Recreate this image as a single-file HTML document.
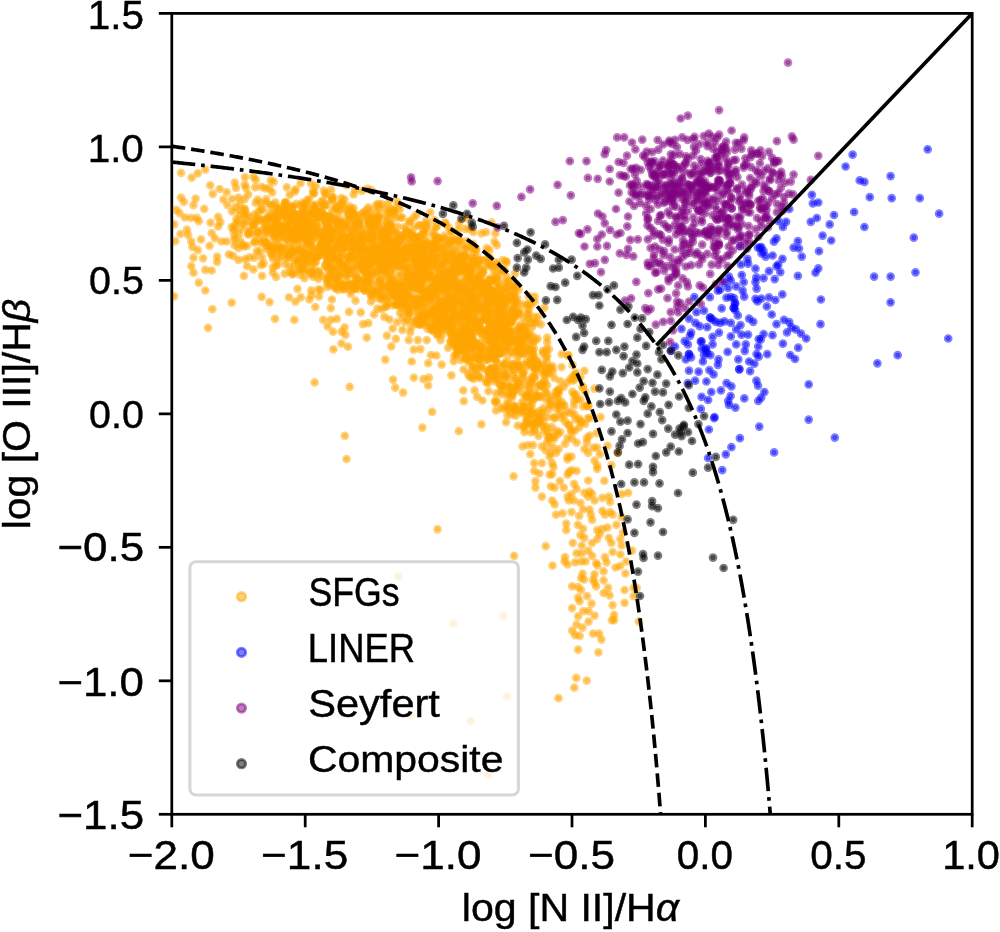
<!DOCTYPE html>
<html><head><meta charset="utf-8"><style>
html,body{margin:0;padding:0;background:#fff;width:1000px;height:932px;overflow:hidden}
svg{display:block;filter:blur(0.6px)}
.t{font-family:"Liberation Sans",sans-serif;font-size:40.0px;fill:#000;stroke:#000;stroke-width:0.45px}
</style></head><body>
<svg width="1000" height="932" viewBox="0 0 1000 932"><defs><clipPath id="ax"><rect x="171.80" y="13.40" width="800.40" height="800.90"/></clipPath></defs><g clip-path="url(#ax)"><g fill="#ffa500" stroke="#ffa500" fill-opacity=".5" stroke-opacity=".5" stroke-width="3.80"><circle cx="295.7" cy="220.0" r="2.45"/><circle cx="323.1" cy="201.7" r="2.45"/><circle cx="386.8" cy="279.4" r="2.45"/><circle cx="347.1" cy="275.4" r="2.45"/><circle cx="482.7" cy="317.9" r="2.45"/><circle cx="362.7" cy="242.2" r="2.45"/><circle cx="469.4" cy="276.9" r="2.45"/><circle cx="443.5" cy="285.0" r="2.45"/><circle cx="425.3" cy="291.6" r="2.45"/><circle cx="577.2" cy="399.0" r="2.45"/><circle cx="456.5" cy="354.8" r="2.45"/><circle cx="416.1" cy="260.2" r="2.45"/><circle cx="514.4" cy="301.7" r="2.45"/><circle cx="506.1" cy="313.5" r="2.45"/><circle cx="271.5" cy="229.3" r="2.45"/><circle cx="567.6" cy="411.5" r="2.45"/><circle cx="261.7" cy="296.9" r="2.45"/><circle cx="476.6" cy="312.3" r="2.45"/><circle cx="270.4" cy="212.7" r="2.45"/><circle cx="497.5" cy="285.9" r="2.45"/><circle cx="390.2" cy="213.7" r="2.45"/><circle cx="467.5" cy="317.7" r="2.45"/><circle cx="226.7" cy="192.2" r="2.45"/><circle cx="533.8" cy="411.6" r="2.45"/><circle cx="459.6" cy="298.3" r="2.45"/><circle cx="531.2" cy="304.7" r="2.45"/><circle cx="337.3" cy="259.3" r="2.45"/><circle cx="428.2" cy="314.3" r="2.45"/><circle cx="389.7" cy="252.1" r="2.45"/><circle cx="307.3" cy="237.3" r="2.45"/><circle cx="489.3" cy="318.7" r="2.45"/><circle cx="490.9" cy="280.2" r="2.45"/><circle cx="552.5" cy="565.7" r="2.45"/><circle cx="428.5" cy="315.4" r="2.45"/><circle cx="480.1" cy="328.3" r="2.45"/><circle cx="426.2" cy="313.0" r="2.45"/><circle cx="557.5" cy="434.3" r="2.45"/><circle cx="554.3" cy="378.0" r="2.45"/><circle cx="340.2" cy="237.4" r="2.45"/><circle cx="550.7" cy="400.5" r="2.45"/><circle cx="490.1" cy="287.9" r="2.45"/><circle cx="289.6" cy="194.8" r="2.45"/><circle cx="371.1" cy="293.6" r="2.45"/><circle cx="305.4" cy="269.7" r="2.45"/><circle cx="474.6" cy="390.4" r="2.45"/><circle cx="212.3" cy="309.1" r="2.45"/><circle cx="418.9" cy="324.0" r="2.45"/><circle cx="348.1" cy="239.1" r="2.45"/><circle cx="255.7" cy="202.9" r="2.45"/><circle cx="318.9" cy="256.2" r="2.45"/><circle cx="371.3" cy="219.0" r="2.45"/><circle cx="387.6" cy="299.5" r="2.45"/><circle cx="401.9" cy="253.0" r="2.45"/><circle cx="541.9" cy="463.2" r="2.45"/><circle cx="481.5" cy="366.3" r="2.45"/><circle cx="390.0" cy="262.3" r="2.45"/><circle cx="234.4" cy="228.6" r="2.45"/><circle cx="360.8" cy="312.4" r="2.45"/><circle cx="305.3" cy="231.7" r="2.45"/><circle cx="402.7" cy="292.2" r="2.45"/><circle cx="382.4" cy="267.0" r="2.45"/><circle cx="576.6" cy="442.6" r="2.45"/><circle cx="347.9" cy="210.1" r="2.45"/><circle cx="568.0" cy="355.4" r="2.45"/><circle cx="452.2" cy="330.3" r="2.45"/><circle cx="386.0" cy="289.3" r="2.45"/><circle cx="462.6" cy="320.7" r="2.45"/><circle cx="240.1" cy="203.7" r="2.45"/><circle cx="291.8" cy="208.1" r="2.45"/><circle cx="462.6" cy="261.6" r="2.45"/><circle cx="580.5" cy="503.1" r="2.45"/><circle cx="453.3" cy="334.7" r="2.45"/><circle cx="408.0" cy="312.5" r="2.45"/><circle cx="406.6" cy="247.6" r="2.45"/><circle cx="468.3" cy="316.5" r="2.45"/><circle cx="485.9" cy="296.5" r="2.45"/><circle cx="456.3" cy="258.3" r="2.45"/><circle cx="472.5" cy="300.8" r="2.45"/><circle cx="451.8" cy="279.6" r="2.45"/><circle cx="495.5" cy="381.6" r="2.45"/><circle cx="456.7" cy="275.1" r="2.45"/><circle cx="497.8" cy="299.8" r="2.45"/><circle cx="509.5" cy="322.9" r="2.45"/><circle cx="439.6" cy="238.7" r="2.45"/><circle cx="424.7" cy="224.4" r="2.45"/><circle cx="323.1" cy="234.9" r="2.45"/><circle cx="330.6" cy="258.3" r="2.45"/><circle cx="302.8" cy="202.6" r="2.45"/><circle cx="382.2" cy="286.2" r="2.45"/><circle cx="441.7" cy="364.7" r="2.45"/><circle cx="365.1" cy="278.3" r="2.45"/><circle cx="338.0" cy="229.3" r="2.45"/><circle cx="451.9" cy="276.6" r="2.45"/><circle cx="326.6" cy="245.4" r="2.45"/><circle cx="274.0" cy="215.3" r="2.45"/><circle cx="390.1" cy="226.0" r="2.45"/><circle cx="548.9" cy="349.2" r="2.45"/><circle cx="393.1" cy="305.5" r="2.45"/><circle cx="489.7" cy="342.2" r="2.45"/><circle cx="428.3" cy="260.3" r="2.45"/><circle cx="431.7" cy="279.4" r="2.45"/><circle cx="358.0" cy="245.2" r="2.45"/><circle cx="354.2" cy="222.9" r="2.45"/><circle cx="311.2" cy="266.1" r="2.45"/><circle cx="472.8" cy="302.0" r="2.45"/><circle cx="502.5" cy="324.5" r="2.45"/><circle cx="291.8" cy="207.7" r="2.45"/><circle cx="393.5" cy="209.4" r="2.45"/><circle cx="381.0" cy="247.9" r="2.45"/><circle cx="400.5" cy="291.2" r="2.45"/><circle cx="431.0" cy="264.3" r="2.45"/><circle cx="403.2" cy="289.1" r="2.45"/><circle cx="331.7" cy="237.0" r="2.45"/><circle cx="422.4" cy="427.6" r="2.45"/><circle cx="311.3" cy="261.7" r="2.45"/><circle cx="321.5" cy="244.1" r="2.45"/><circle cx="417.7" cy="278.0" r="2.45"/><circle cx="434.6" cy="260.5" r="2.45"/><circle cx="584.4" cy="537.8" r="2.45"/><circle cx="479.6" cy="322.6" r="2.45"/><circle cx="383.4" cy="251.4" r="2.45"/><circle cx="507.4" cy="299.9" r="2.45"/><circle cx="426.0" cy="299.1" r="2.45"/><circle cx="548.1" cy="372.0" r="2.45"/><circle cx="303.1" cy="207.7" r="2.45"/><circle cx="460.9" cy="254.7" r="2.45"/><circle cx="625.4" cy="573.5" r="2.45"/><circle cx="457.7" cy="351.7" r="2.45"/><circle cx="220.3" cy="222.2" r="2.45"/><circle cx="547.2" cy="342.5" r="2.45"/><circle cx="421.7" cy="250.5" r="2.45"/><circle cx="324.4" cy="240.3" r="2.45"/><circle cx="509.8" cy="341.8" r="2.45"/><circle cx="420.4" cy="272.0" r="2.45"/><circle cx="530.7" cy="424.4" r="2.45"/><circle cx="389.6" cy="297.4" r="2.45"/><circle cx="579.0" cy="427.5" r="2.45"/><circle cx="373.2" cy="285.0" r="2.45"/><circle cx="463.2" cy="303.1" r="2.45"/><circle cx="468.6" cy="294.0" r="2.45"/><circle cx="412.7" cy="304.7" r="2.45"/><circle cx="262.7" cy="210.1" r="2.45"/><circle cx="454.3" cy="339.4" r="2.45"/><circle cx="376.1" cy="291.5" r="2.45"/><circle cx="440.4" cy="263.5" r="2.45"/><circle cx="404.8" cy="259.5" r="2.45"/><circle cx="463.6" cy="369.5" r="2.45"/><circle cx="484.0" cy="319.9" r="2.45"/><circle cx="510.9" cy="322.8" r="2.45"/><circle cx="505.7" cy="351.6" r="2.45"/><circle cx="345.3" cy="249.0" r="2.45"/><circle cx="372.5" cy="273.1" r="2.45"/><circle cx="300.3" cy="249.4" r="2.45"/><circle cx="324.1" cy="218.5" r="2.45"/><circle cx="378.8" cy="217.0" r="2.45"/><circle cx="426.6" cy="266.1" r="2.45"/><circle cx="503.1" cy="616.0" r="2.45"/><circle cx="378.2" cy="291.4" r="2.45"/><circle cx="417.8" cy="243.4" r="2.45"/><circle cx="511.7" cy="320.6" r="2.45"/><circle cx="463.5" cy="264.8" r="2.45"/><circle cx="461.1" cy="245.5" r="2.45"/><circle cx="515.1" cy="406.8" r="2.45"/><circle cx="210.2" cy="185.3" r="2.45"/><circle cx="523.7" cy="327.2" r="2.45"/><circle cx="422.9" cy="307.5" r="2.45"/><circle cx="469.7" cy="323.5" r="2.45"/><circle cx="412.8" cy="254.9" r="2.45"/><circle cx="361.4" cy="262.3" r="2.45"/><circle cx="371.9" cy="289.8" r="2.45"/><circle cx="486.1" cy="314.4" r="2.45"/><circle cx="285.0" cy="208.6" r="2.45"/><circle cx="472.1" cy="377.3" r="2.45"/><circle cx="506.4" cy="276.6" r="2.45"/><circle cx="422.9" cy="232.9" r="2.45"/><circle cx="294.9" cy="214.1" r="2.45"/><circle cx="607.5" cy="445.8" r="2.45"/><circle cx="390.4" cy="242.3" r="2.45"/><circle cx="524.4" cy="432.1" r="2.45"/><circle cx="389.8" cy="293.0" r="2.45"/><circle cx="472.0" cy="339.0" r="2.45"/><circle cx="448.3" cy="306.5" r="2.45"/><circle cx="433.3" cy="242.1" r="2.45"/><circle cx="498.2" cy="335.2" r="2.45"/><circle cx="456.5" cy="283.7" r="2.45"/><circle cx="433.8" cy="258.1" r="2.45"/><circle cx="277.5" cy="216.2" r="2.45"/><circle cx="343.4" cy="285.9" r="2.45"/><circle cx="334.4" cy="287.2" r="2.45"/><circle cx="522.5" cy="353.7" r="2.45"/><circle cx="417.2" cy="287.3" r="2.45"/><circle cx="583.3" cy="611.1" r="2.45"/><circle cx="512.8" cy="392.8" r="2.45"/><circle cx="328.2" cy="269.1" r="2.45"/><circle cx="494.1" cy="357.1" r="2.45"/><circle cx="541.5" cy="397.1" r="2.45"/><circle cx="284.6" cy="210.1" r="2.45"/><circle cx="341.2" cy="274.0" r="2.45"/><circle cx="413.0" cy="238.2" r="2.45"/><circle cx="428.4" cy="322.9" r="2.45"/><circle cx="483.7" cy="307.0" r="2.45"/><circle cx="262.1" cy="221.2" r="2.45"/><circle cx="385.2" cy="234.9" r="2.45"/><circle cx="428.0" cy="255.5" r="2.45"/><circle cx="339.2" cy="268.7" r="2.45"/><circle cx="413.3" cy="234.5" r="2.45"/><circle cx="504.7" cy="287.4" r="2.45"/><circle cx="458.9" cy="293.6" r="2.45"/><circle cx="479.1" cy="348.0" r="2.45"/><circle cx="402.8" cy="266.1" r="2.45"/><circle cx="337.8" cy="249.7" r="2.45"/><circle cx="415.3" cy="300.2" r="2.45"/><circle cx="394.5" cy="296.0" r="2.45"/><circle cx="378.3" cy="208.1" r="2.45"/><circle cx="485.5" cy="314.7" r="2.45"/><circle cx="349.6" cy="284.4" r="2.45"/><circle cx="448.1" cy="347.8" r="2.45"/><circle cx="352.6" cy="260.8" r="2.45"/><circle cx="321.6" cy="201.1" r="2.45"/><circle cx="482.7" cy="355.4" r="2.45"/><circle cx="471.3" cy="330.6" r="2.45"/><circle cx="490.9" cy="368.5" r="2.45"/><circle cx="474.7" cy="322.1" r="2.45"/><circle cx="467.9" cy="309.9" r="2.45"/><circle cx="468.5" cy="336.7" r="2.45"/><circle cx="527.7" cy="445.1" r="2.45"/><circle cx="356.0" cy="286.0" r="2.45"/><circle cx="499.5" cy="331.8" r="2.45"/><circle cx="463.7" cy="304.9" r="2.45"/><circle cx="393.3" cy="280.7" r="2.45"/><circle cx="587.0" cy="406.2" r="2.45"/><circle cx="470.3" cy="276.8" r="2.45"/><circle cx="272.8" cy="227.9" r="2.45"/><circle cx="494.5" cy="378.6" r="2.45"/><circle cx="425.4" cy="322.2" r="2.45"/><circle cx="492.6" cy="377.1" r="2.45"/><circle cx="289.8" cy="257.8" r="2.45"/><circle cx="327.7" cy="259.9" r="2.45"/><circle cx="363.2" cy="288.3" r="2.45"/><circle cx="400.4" cy="299.4" r="2.45"/><circle cx="395.0" cy="245.8" r="2.45"/><circle cx="539.4" cy="411.0" r="2.45"/><circle cx="549.5" cy="373.7" r="2.45"/><circle cx="546.2" cy="374.1" r="2.45"/><circle cx="373.5" cy="241.6" r="2.45"/><circle cx="421.5" cy="279.6" r="2.45"/><circle cx="329.8" cy="231.3" r="2.45"/><circle cx="518.5" cy="366.1" r="2.45"/><circle cx="394.3" cy="255.9" r="2.45"/><circle cx="402.1" cy="245.7" r="2.45"/><circle cx="357.3" cy="258.5" r="2.45"/><circle cx="621.7" cy="545.5" r="2.45"/><circle cx="209.6" cy="245.8" r="2.45"/><circle cx="496.0" cy="327.5" r="2.45"/><circle cx="248.5" cy="234.4" r="2.45"/><circle cx="349.3" cy="215.1" r="2.45"/><circle cx="502.4" cy="366.7" r="2.45"/><circle cx="506.7" cy="299.2" r="2.45"/><circle cx="495.7" cy="347.2" r="2.45"/><circle cx="255.2" cy="187.4" r="2.45"/><circle cx="433.0" cy="250.9" r="2.45"/><circle cx="583.2" cy="406.3" r="2.45"/><circle cx="276.1" cy="234.2" r="2.45"/><circle cx="456.1" cy="336.3" r="2.45"/><circle cx="443.5" cy="309.2" r="2.45"/><circle cx="258.9" cy="230.8" r="2.45"/><circle cx="472.4" cy="286.4" r="2.45"/><circle cx="500.0" cy="305.9" r="2.45"/><circle cx="374.4" cy="220.7" r="2.45"/><circle cx="371.6" cy="240.1" r="2.45"/><circle cx="352.2" cy="230.3" r="2.45"/><circle cx="486.2" cy="283.4" r="2.45"/><circle cx="378.8" cy="237.9" r="2.45"/><circle cx="366.0" cy="267.4" r="2.45"/><circle cx="304.4" cy="230.2" r="2.45"/><circle cx="449.6" cy="330.8" r="2.45"/><circle cx="245.1" cy="259.2" r="2.45"/><circle cx="412.2" cy="247.6" r="2.45"/><circle cx="574.2" cy="400.7" r="2.45"/><circle cx="493.2" cy="291.4" r="2.45"/><circle cx="380.6" cy="266.7" r="2.45"/><circle cx="496.3" cy="267.3" r="2.45"/><circle cx="518.9" cy="356.1" r="2.45"/><circle cx="401.2" cy="290.1" r="2.45"/><circle cx="491.7" cy="334.8" r="2.45"/><circle cx="444.7" cy="268.7" r="2.45"/><circle cx="308.9" cy="229.8" r="2.45"/><circle cx="543.0" cy="353.1" r="2.45"/><circle cx="492.1" cy="291.6" r="2.45"/><circle cx="529.2" cy="380.3" r="2.45"/><circle cx="361.8" cy="265.8" r="2.45"/><circle cx="424.6" cy="296.1" r="2.45"/><circle cx="470.2" cy="270.2" r="2.45"/><circle cx="570.9" cy="412.9" r="2.45"/><circle cx="380.6" cy="257.1" r="2.45"/><circle cx="348.0" cy="346.7" r="2.45"/><circle cx="383.7" cy="270.3" r="2.45"/><circle cx="522.5" cy="411.4" r="2.45"/><circle cx="198.8" cy="282.7" r="2.45"/><circle cx="469.5" cy="228.9" r="2.45"/><circle cx="466.8" cy="280.6" r="2.45"/><circle cx="470.0" cy="267.6" r="2.45"/><circle cx="558.6" cy="449.0" r="2.45"/><circle cx="360.8" cy="240.9" r="2.45"/><circle cx="391.7" cy="229.7" r="2.45"/><circle cx="434.3" cy="220.1" r="2.45"/><circle cx="374.4" cy="252.0" r="2.45"/><circle cx="460.9" cy="265.8" r="2.45"/><circle cx="489.7" cy="307.5" r="2.45"/><circle cx="267.4" cy="230.8" r="2.45"/><circle cx="452.5" cy="316.0" r="2.45"/><circle cx="437.1" cy="314.9" r="2.45"/><circle cx="380.1" cy="272.2" r="2.45"/><circle cx="502.8" cy="310.6" r="2.45"/><circle cx="490.3" cy="278.4" r="2.45"/><circle cx="299.7" cy="274.6" r="2.45"/><circle cx="483.5" cy="284.9" r="2.45"/><circle cx="466.3" cy="302.6" r="2.45"/><circle cx="529.1" cy="391.5" r="2.45"/><circle cx="304.5" cy="204.4" r="2.45"/><circle cx="454.2" cy="355.5" r="2.45"/><circle cx="400.1" cy="259.5" r="2.45"/><circle cx="484.7" cy="267.0" r="2.45"/><circle cx="529.9" cy="410.7" r="2.45"/><circle cx="476.5" cy="342.8" r="2.45"/><circle cx="475.7" cy="324.1" r="2.45"/><circle cx="538.7" cy="421.7" r="2.45"/><circle cx="367.8" cy="219.0" r="2.45"/><circle cx="485.3" cy="338.7" r="2.45"/><circle cx="337.9" cy="224.8" r="2.45"/><circle cx="390.0" cy="274.7" r="2.45"/><circle cx="465.8" cy="332.6" r="2.45"/><circle cx="565.1" cy="421.7" r="2.45"/><circle cx="439.1" cy="332.1" r="2.45"/><circle cx="490.2" cy="327.1" r="2.45"/><circle cx="228.9" cy="254.4" r="2.45"/><circle cx="475.6" cy="325.8" r="2.45"/><circle cx="430.1" cy="275.0" r="2.45"/><circle cx="582.7" cy="386.4" r="2.45"/><circle cx="496.1" cy="262.4" r="2.45"/><circle cx="391.5" cy="253.5" r="2.45"/><circle cx="353.1" cy="232.5" r="2.45"/><circle cx="287.0" cy="223.4" r="2.45"/><circle cx="468.5" cy="291.8" r="2.45"/><circle cx="594.6" cy="574.3" r="2.45"/><circle cx="408.8" cy="340.1" r="2.45"/><circle cx="272.9" cy="272.7" r="2.45"/><circle cx="496.2" cy="328.1" r="2.45"/><circle cx="426.9" cy="298.6" r="2.45"/><circle cx="423.6" cy="249.6" r="2.45"/><circle cx="260.9" cy="202.9" r="2.45"/><circle cx="505.4" cy="315.6" r="2.45"/><circle cx="370.7" cy="250.5" r="2.45"/><circle cx="285.2" cy="263.8" r="2.45"/><circle cx="504.0" cy="375.9" r="2.45"/><circle cx="455.2" cy="333.7" r="2.45"/><circle cx="515.0" cy="273.7" r="2.45"/><circle cx="447.2" cy="284.3" r="2.45"/><circle cx="463.2" cy="390.4" r="2.45"/><circle cx="531.3" cy="341.3" r="2.45"/><circle cx="464.5" cy="281.9" r="2.45"/><circle cx="473.0" cy="243.9" r="2.45"/><circle cx="463.3" cy="266.3" r="2.45"/><circle cx="526.1" cy="338.3" r="2.45"/><circle cx="586.8" cy="438.0" r="2.45"/><circle cx="239.3" cy="210.5" r="2.45"/><circle cx="442.1" cy="323.8" r="2.45"/><circle cx="495.2" cy="344.6" r="2.45"/><circle cx="452.7" cy="307.0" r="2.45"/><circle cx="440.2" cy="316.0" r="2.45"/><circle cx="337.7" cy="222.2" r="2.45"/><circle cx="406.2" cy="230.7" r="2.45"/><circle cx="455.9" cy="323.8" r="2.45"/><circle cx="432.9" cy="294.1" r="2.45"/><circle cx="524.5" cy="371.0" r="2.45"/><circle cx="276.4" cy="220.1" r="2.45"/><circle cx="519.3" cy="324.8" r="2.45"/><circle cx="460.3" cy="331.3" r="2.45"/><circle cx="574.4" cy="414.3" r="2.45"/><circle cx="437.5" cy="529.3" r="2.45"/><circle cx="468.7" cy="315.4" r="2.45"/><circle cx="349.3" cy="221.8" r="2.45"/><circle cx="433.4" cy="231.5" r="2.45"/><circle cx="509.7" cy="331.0" r="2.45"/><circle cx="638.9" cy="621.6" r="2.45"/><circle cx="621.7" cy="517.2" r="2.45"/><circle cx="487.9" cy="302.5" r="2.45"/><circle cx="346.1" cy="268.8" r="2.45"/><circle cx="466.1" cy="287.9" r="2.45"/><circle cx="289.9" cy="223.9" r="2.45"/><circle cx="517.4" cy="383.2" r="2.45"/><circle cx="451.0" cy="342.8" r="2.45"/><circle cx="470.0" cy="339.0" r="2.45"/><circle cx="394.7" cy="285.3" r="2.45"/><circle cx="492.4" cy="357.9" r="2.45"/><circle cx="385.9" cy="257.5" r="2.45"/><circle cx="565.0" cy="443.9" r="2.45"/><circle cx="547.8" cy="417.0" r="2.45"/><circle cx="484.0" cy="292.1" r="2.45"/><circle cx="492.3" cy="266.2" r="2.45"/><circle cx="363.0" cy="324.2" r="2.45"/><circle cx="516.4" cy="351.2" r="2.45"/><circle cx="561.6" cy="401.6" r="2.45"/><circle cx="558.1" cy="398.8" r="2.45"/><circle cx="426.8" cy="258.9" r="2.45"/><circle cx="460.7" cy="359.8" r="2.45"/><circle cx="523.7" cy="425.8" r="2.45"/><circle cx="445.4" cy="294.5" r="2.45"/><circle cx="234.4" cy="236.7" r="2.45"/><circle cx="336.5" cy="220.8" r="2.45"/><circle cx="396.5" cy="289.3" r="2.45"/><circle cx="276.2" cy="234.2" r="2.45"/><circle cx="544.5" cy="307.7" r="2.45"/><circle cx="454.7" cy="279.5" r="2.45"/><circle cx="285.5" cy="216.1" r="2.45"/><circle cx="437.8" cy="256.1" r="2.45"/><circle cx="511.9" cy="286.0" r="2.45"/><circle cx="193.5" cy="272.7" r="2.45"/><circle cx="428.6" cy="291.5" r="2.45"/><circle cx="533.9" cy="316.9" r="2.45"/><circle cx="290.9" cy="206.1" r="2.45"/><circle cx="457.3" cy="352.9" r="2.45"/><circle cx="353.6" cy="194.5" r="2.45"/><circle cx="444.6" cy="286.0" r="2.45"/><circle cx="445.6" cy="224.0" r="2.45"/><circle cx="398.6" cy="274.2" r="2.45"/><circle cx="526.2" cy="344.4" r="2.45"/><circle cx="571.9" cy="438.6" r="2.45"/><circle cx="283.8" cy="233.7" r="2.45"/><circle cx="499.3" cy="330.1" r="2.45"/><circle cx="305.5" cy="232.5" r="2.45"/><circle cx="443.9" cy="243.3" r="2.45"/><circle cx="249.6" cy="257.4" r="2.45"/><circle cx="414.2" cy="288.6" r="2.45"/><circle cx="528.9" cy="336.4" r="2.45"/><circle cx="483.3" cy="272.1" r="2.45"/><circle cx="636.7" cy="587.8" r="2.45"/><circle cx="402.3" cy="307.9" r="2.45"/><circle cx="416.7" cy="270.5" r="2.45"/><circle cx="253.5" cy="224.4" r="2.45"/><circle cx="337.1" cy="231.6" r="2.45"/><circle cx="454.4" cy="266.8" r="2.45"/><circle cx="282.9" cy="235.9" r="2.45"/><circle cx="309.8" cy="235.8" r="2.45"/><circle cx="424.2" cy="265.1" r="2.45"/><circle cx="414.5" cy="298.2" r="2.45"/><circle cx="589.5" cy="491.5" r="2.45"/><circle cx="400.8" cy="240.2" r="2.45"/><circle cx="460.1" cy="291.9" r="2.45"/><circle cx="426.8" cy="340.1" r="2.45"/><circle cx="385.3" cy="215.9" r="2.45"/><circle cx="385.1" cy="272.4" r="2.45"/><circle cx="459.3" cy="300.2" r="2.45"/><circle cx="411.2" cy="247.2" r="2.45"/><circle cx="275.3" cy="202.4" r="2.45"/><circle cx="549.7" cy="437.6" r="2.45"/><circle cx="434.6" cy="245.7" r="2.45"/><circle cx="243.9" cy="246.4" r="2.45"/><circle cx="301.5" cy="221.5" r="2.45"/><circle cx="376.2" cy="204.9" r="2.45"/><circle cx="516.4" cy="284.8" r="2.45"/><circle cx="458.1" cy="229.8" r="2.45"/><circle cx="280.1" cy="246.9" r="2.45"/><circle cx="248.6" cy="216.6" r="2.45"/><circle cx="446.4" cy="307.5" r="2.45"/><circle cx="376.7" cy="260.9" r="2.45"/><circle cx="490.1" cy="289.2" r="2.45"/><circle cx="563.8" cy="487.6" r="2.45"/><circle cx="405.0" cy="286.5" r="2.45"/><circle cx="502.1" cy="301.8" r="2.45"/><circle cx="267.3" cy="219.1" r="2.45"/><circle cx="567.5" cy="438.1" r="2.45"/><circle cx="479.2" cy="359.3" r="2.45"/><circle cx="556.0" cy="514.6" r="2.45"/><circle cx="370.3" cy="226.6" r="2.45"/><circle cx="530.1" cy="363.6" r="2.45"/><circle cx="310.0" cy="239.5" r="2.45"/><circle cx="384.3" cy="247.7" r="2.45"/><circle cx="570.3" cy="379.0" r="2.45"/><circle cx="348.3" cy="270.4" r="2.45"/><circle cx="427.6" cy="276.6" r="2.45"/><circle cx="444.9" cy="291.3" r="2.45"/><circle cx="503.2" cy="270.4" r="2.45"/><circle cx="424.3" cy="269.2" r="2.45"/><circle cx="286.3" cy="257.8" r="2.45"/><circle cx="248.2" cy="234.0" r="2.45"/><circle cx="469.1" cy="312.8" r="2.45"/><circle cx="403.1" cy="300.4" r="2.45"/><circle cx="483.7" cy="260.0" r="2.45"/><circle cx="437.2" cy="277.2" r="2.45"/><circle cx="536.3" cy="322.8" r="2.45"/><circle cx="399.2" cy="241.2" r="2.45"/><circle cx="315.9" cy="257.6" r="2.45"/><circle cx="534.4" cy="399.2" r="2.45"/><circle cx="434.0" cy="311.1" r="2.45"/><circle cx="460.5" cy="257.9" r="2.45"/><circle cx="321.3" cy="206.1" r="2.45"/><circle cx="175.2" cy="241.1" r="2.45"/><circle cx="381.6" cy="287.7" r="2.45"/><circle cx="423.6" cy="266.8" r="2.45"/><circle cx="560.1" cy="412.9" r="2.45"/><circle cx="477.5" cy="326.1" r="2.45"/><circle cx="286.5" cy="218.8" r="2.45"/><circle cx="324.4" cy="241.9" r="2.45"/><circle cx="436.9" cy="305.6" r="2.45"/><circle cx="440.3" cy="301.1" r="2.45"/><circle cx="453.3" cy="327.3" r="2.45"/><circle cx="456.6" cy="347.1" r="2.45"/><circle cx="492.4" cy="345.2" r="2.45"/><circle cx="334.8" cy="221.3" r="2.45"/><circle cx="389.7" cy="252.1" r="2.45"/><circle cx="604.9" cy="557.1" r="2.45"/><circle cx="314.7" cy="262.9" r="2.45"/><circle cx="440.5" cy="248.0" r="2.45"/><circle cx="238.5" cy="197.6" r="2.45"/><circle cx="261.1" cy="265.2" r="2.45"/><circle cx="479.4" cy="308.5" r="2.45"/><circle cx="339.0" cy="218.2" r="2.45"/><circle cx="331.9" cy="200.4" r="2.45"/><circle cx="422.3" cy="234.8" r="2.45"/><circle cx="610.1" cy="501.8" r="2.45"/><circle cx="356.8" cy="224.2" r="2.45"/><circle cx="283.0" cy="252.9" r="2.45"/><circle cx="530.7" cy="414.9" r="2.45"/><circle cx="390.0" cy="257.8" r="2.45"/><circle cx="361.1" cy="254.7" r="2.45"/><circle cx="318.3" cy="279.0" r="2.45"/><circle cx="325.6" cy="229.5" r="2.45"/><circle cx="315.0" cy="212.1" r="2.45"/><circle cx="506.0" cy="292.4" r="2.45"/><circle cx="419.1" cy="252.7" r="2.45"/><circle cx="455.7" cy="342.9" r="2.45"/><circle cx="482.4" cy="347.6" r="2.45"/><circle cx="530.4" cy="383.5" r="2.45"/><circle cx="490.7" cy="368.9" r="2.45"/><circle cx="316.0" cy="261.7" r="2.45"/><circle cx="416.2" cy="259.8" r="2.45"/><circle cx="517.1" cy="298.1" r="2.45"/><circle cx="339.1" cy="242.7" r="2.45"/><circle cx="333.4" cy="269.1" r="2.45"/><circle cx="521.1" cy="335.7" r="2.45"/><circle cx="538.4" cy="435.9" r="2.45"/><circle cx="403.2" cy="238.9" r="2.45"/><circle cx="519.5" cy="346.2" r="2.45"/><circle cx="368.0" cy="250.5" r="2.45"/><circle cx="318.1" cy="289.5" r="2.45"/><circle cx="261.7" cy="186.8" r="2.45"/><circle cx="275.5" cy="221.9" r="2.45"/><circle cx="473.3" cy="339.5" r="2.45"/><circle cx="416.3" cy="320.8" r="2.45"/><circle cx="442.5" cy="299.2" r="2.45"/><circle cx="467.5" cy="286.4" r="2.45"/><circle cx="212.8" cy="193.9" r="2.45"/><circle cx="362.7" cy="258.2" r="2.45"/><circle cx="401.6" cy="286.8" r="2.45"/><circle cx="253.5" cy="269.4" r="2.45"/><circle cx="509.9" cy="388.7" r="2.45"/><circle cx="394.3" cy="242.2" r="2.45"/><circle cx="430.5" cy="254.3" r="2.45"/><circle cx="388.6" cy="211.4" r="2.45"/><circle cx="451.3" cy="270.9" r="2.45"/><circle cx="340.5" cy="222.5" r="2.45"/><circle cx="568.5" cy="355.7" r="2.45"/><circle cx="380.2" cy="260.3" r="2.45"/><circle cx="407.4" cy="298.1" r="2.45"/><circle cx="505.1" cy="347.9" r="2.45"/><circle cx="514.8" cy="334.7" r="2.45"/><circle cx="342.5" cy="244.4" r="2.45"/><circle cx="436.0" cy="321.7" r="2.45"/><circle cx="482.8" cy="288.3" r="2.45"/><circle cx="525.9" cy="422.1" r="2.45"/><circle cx="479.3" cy="325.1" r="2.45"/><circle cx="347.5" cy="260.1" r="2.45"/><circle cx="387.1" cy="266.9" r="2.45"/><circle cx="496.9" cy="245.1" r="2.45"/><circle cx="300.5" cy="205.3" r="2.45"/><circle cx="425.9" cy="252.7" r="2.45"/><circle cx="416.0" cy="279.7" r="2.45"/><circle cx="564.4" cy="415.1" r="2.45"/><circle cx="324.2" cy="214.5" r="2.45"/><circle cx="497.2" cy="330.3" r="2.45"/><circle cx="334.8" cy="248.4" r="2.45"/><circle cx="388.3" cy="239.9" r="2.45"/><circle cx="478.6" cy="358.4" r="2.45"/><circle cx="435.9" cy="227.5" r="2.45"/><circle cx="419.9" cy="236.1" r="2.45"/><circle cx="342.0" cy="232.0" r="2.45"/><circle cx="461.2" cy="349.2" r="2.45"/><circle cx="296.1" cy="232.3" r="2.45"/><circle cx="463.3" cy="259.9" r="2.45"/><circle cx="447.4" cy="296.2" r="2.45"/><circle cx="454.4" cy="265.7" r="2.45"/><circle cx="279.4" cy="225.7" r="2.45"/><circle cx="380.3" cy="258.4" r="2.45"/><circle cx="453.9" cy="239.6" r="2.45"/><circle cx="615.6" cy="567.5" r="2.45"/><circle cx="568.3" cy="424.7" r="2.45"/><circle cx="423.9" cy="296.0" r="2.45"/><circle cx="566.3" cy="523.7" r="2.45"/><circle cx="460.6" cy="257.5" r="2.45"/><circle cx="488.4" cy="304.9" r="2.45"/><circle cx="452.4" cy="274.1" r="2.45"/><circle cx="390.8" cy="279.7" r="2.45"/><circle cx="330.2" cy="223.9" r="2.45"/><circle cx="353.0" cy="257.3" r="2.45"/><circle cx="327.0" cy="259.0" r="2.45"/><circle cx="416.9" cy="282.2" r="2.45"/><circle cx="422.0" cy="280.0" r="2.45"/><circle cx="265.8" cy="233.9" r="2.45"/><circle cx="519.3" cy="410.5" r="2.45"/><circle cx="221.4" cy="241.5" r="2.45"/><circle cx="295.6" cy="189.3" r="2.45"/><circle cx="407.3" cy="245.6" r="2.45"/><circle cx="385.6" cy="261.1" r="2.45"/><circle cx="348.8" cy="246.9" r="2.45"/><circle cx="332.8" cy="232.0" r="2.45"/><circle cx="463.2" cy="349.0" r="2.45"/><circle cx="452.3" cy="279.1" r="2.45"/><circle cx="317.4" cy="217.5" r="2.45"/><circle cx="567.6" cy="564.5" r="2.45"/><circle cx="521.2" cy="328.7" r="2.45"/><circle cx="523.6" cy="364.8" r="2.45"/><circle cx="330.3" cy="247.2" r="2.45"/><circle cx="391.3" cy="346.4" r="2.45"/><circle cx="427.0" cy="283.0" r="2.45"/><circle cx="507.4" cy="414.9" r="2.45"/><circle cx="335.2" cy="272.7" r="2.45"/><circle cx="482.5" cy="293.4" r="2.45"/><circle cx="328.1" cy="256.4" r="2.45"/><circle cx="302.7" cy="220.7" r="2.45"/><circle cx="465.3" cy="344.3" r="2.45"/><circle cx="272.2" cy="255.0" r="2.45"/><circle cx="283.0" cy="225.6" r="2.45"/><circle cx="404.9" cy="234.5" r="2.45"/><circle cx="289.3" cy="220.5" r="2.45"/><circle cx="339.0" cy="204.0" r="2.45"/><circle cx="300.9" cy="212.0" r="2.45"/><circle cx="276.1" cy="265.7" r="2.45"/><circle cx="572.8" cy="543.0" r="2.45"/><circle cx="476.7" cy="295.4" r="2.45"/><circle cx="458.7" cy="262.4" r="2.45"/><circle cx="275.1" cy="216.9" r="2.45"/><circle cx="600.6" cy="417.1" r="2.45"/><circle cx="426.8" cy="275.0" r="2.45"/><circle cx="372.4" cy="273.1" r="2.45"/><circle cx="323.6" cy="214.4" r="2.45"/><circle cx="363.5" cy="212.6" r="2.45"/><circle cx="315.9" cy="213.4" r="2.45"/><circle cx="368.6" cy="266.2" r="2.45"/><circle cx="571.5" cy="456.7" r="2.45"/><circle cx="469.1" cy="335.9" r="2.45"/><circle cx="322.6" cy="234.9" r="2.45"/><circle cx="304.3" cy="252.7" r="2.45"/><circle cx="261.1" cy="208.8" r="2.45"/><circle cx="297.4" cy="218.4" r="2.45"/><circle cx="369.4" cy="234.7" r="2.45"/><circle cx="474.4" cy="261.4" r="2.45"/><circle cx="335.5" cy="258.8" r="2.45"/><circle cx="385.4" cy="269.5" r="2.45"/><circle cx="261.0" cy="243.2" r="2.45"/><circle cx="271.6" cy="222.8" r="2.45"/><circle cx="380.1" cy="279.8" r="2.45"/><circle cx="353.6" cy="214.2" r="2.45"/><circle cx="223.5" cy="199.7" r="2.45"/><circle cx="432.1" cy="245.8" r="2.45"/><circle cx="346.1" cy="286.4" r="2.45"/><circle cx="320.7" cy="244.4" r="2.45"/><circle cx="580.5" cy="421.1" r="2.45"/><circle cx="470.7" cy="721.0" r="2.45"/><circle cx="369.7" cy="262.6" r="2.45"/><circle cx="472.5" cy="366.5" r="2.45"/><circle cx="476.2" cy="249.3" r="2.45"/><circle cx="543.1" cy="420.8" r="2.45"/><circle cx="511.9" cy="397.9" r="2.45"/><circle cx="334.9" cy="249.1" r="2.45"/><circle cx="513.4" cy="286.8" r="2.45"/><circle cx="361.7" cy="190.9" r="2.45"/><circle cx="478.1" cy="265.5" r="2.45"/><circle cx="416.4" cy="265.9" r="2.45"/><circle cx="390.2" cy="282.7" r="2.45"/><circle cx="407.5" cy="251.6" r="2.45"/><circle cx="344.4" cy="221.3" r="2.45"/><circle cx="389.1" cy="234.2" r="2.45"/><circle cx="502.6" cy="381.0" r="2.45"/><circle cx="446.8" cy="320.1" r="2.45"/><circle cx="265.7" cy="226.9" r="2.45"/><circle cx="192.4" cy="246.9" r="2.45"/><circle cx="400.0" cy="312.8" r="2.45"/><circle cx="557.5" cy="403.5" r="2.45"/><circle cx="486.4" cy="283.0" r="2.45"/><circle cx="274.0" cy="242.0" r="2.45"/><circle cx="488.8" cy="372.2" r="2.45"/><circle cx="597.2" cy="530.1" r="2.45"/><circle cx="335.2" cy="278.3" r="2.45"/><circle cx="304.1" cy="224.2" r="2.45"/><circle cx="341.5" cy="343.5" r="2.45"/><circle cx="312.4" cy="242.3" r="2.45"/><circle cx="588.2" cy="550.7" r="2.45"/><circle cx="437.6" cy="283.6" r="2.45"/><circle cx="354.4" cy="214.5" r="2.45"/><circle cx="449.7" cy="287.9" r="2.45"/><circle cx="273.8" cy="249.2" r="2.45"/><circle cx="576.3" cy="677.9" r="2.45"/><circle cx="480.1" cy="307.9" r="2.45"/><circle cx="267.7" cy="217.3" r="2.45"/><circle cx="307.4" cy="225.7" r="2.45"/><circle cx="509.0" cy="290.1" r="2.45"/><circle cx="533.8" cy="348.1" r="2.45"/><circle cx="360.9" cy="220.3" r="2.45"/><circle cx="422.9" cy="314.5" r="2.45"/><circle cx="378.0" cy="283.2" r="2.45"/><circle cx="405.0" cy="249.0" r="2.45"/><circle cx="303.7" cy="258.2" r="2.45"/><circle cx="478.5" cy="355.5" r="2.45"/><circle cx="329.0" cy="253.2" r="2.45"/><circle cx="313.3" cy="205.6" r="2.45"/><circle cx="386.9" cy="286.7" r="2.45"/><circle cx="514.8" cy="316.9" r="2.45"/><circle cx="277.1" cy="238.4" r="2.45"/><circle cx="193.5" cy="205.1" r="2.45"/><circle cx="313.0" cy="276.6" r="2.45"/><circle cx="538.3" cy="316.9" r="2.45"/><circle cx="263.1" cy="219.5" r="2.45"/><circle cx="315.1" cy="215.9" r="2.45"/><circle cx="330.4" cy="284.7" r="2.45"/><circle cx="453.7" cy="345.3" r="2.45"/><circle cx="351.8" cy="255.7" r="2.45"/><circle cx="386.2" cy="239.0" r="2.45"/><circle cx="210.6" cy="222.7" r="2.45"/><circle cx="489.7" cy="331.8" r="2.45"/><circle cx="311.6" cy="213.4" r="2.45"/><circle cx="383.1" cy="262.4" r="2.45"/><circle cx="425.4" cy="233.9" r="2.45"/><circle cx="558.5" cy="698.2" r="2.45"/><circle cx="485.7" cy="319.7" r="2.45"/><circle cx="544.2" cy="379.1" r="2.45"/><circle cx="472.4" cy="261.5" r="2.45"/><circle cx="281.5" cy="249.6" r="2.45"/><circle cx="313.3" cy="238.3" r="2.45"/><circle cx="217.1" cy="256.6" r="2.45"/><circle cx="433.0" cy="235.5" r="2.45"/><circle cx="583.1" cy="528.8" r="2.45"/><circle cx="335.7" cy="208.0" r="2.45"/><circle cx="314.8" cy="270.3" r="2.45"/><circle cx="602.4" cy="510.8" r="2.45"/><circle cx="437.8" cy="321.1" r="2.45"/><circle cx="522.0" cy="402.3" r="2.45"/><circle cx="304.3" cy="228.4" r="2.45"/><circle cx="258.5" cy="211.5" r="2.45"/><circle cx="495.9" cy="347.0" r="2.45"/><circle cx="309.5" cy="227.6" r="2.45"/><circle cx="394.1" cy="255.1" r="2.45"/><circle cx="431.1" cy="244.4" r="2.45"/><circle cx="226.7" cy="241.5" r="2.45"/><circle cx="524.0" cy="427.4" r="2.45"/><circle cx="554.6" cy="418.4" r="2.45"/><circle cx="409.9" cy="221.1" r="2.45"/><circle cx="437.6" cy="247.5" r="2.45"/><circle cx="350.7" cy="294.0" r="2.45"/><circle cx="493.2" cy="372.2" r="2.45"/><circle cx="431.9" cy="286.3" r="2.45"/><circle cx="278.3" cy="212.5" r="2.45"/><circle cx="316.1" cy="230.8" r="2.45"/><circle cx="452.0" cy="254.3" r="2.45"/><circle cx="369.5" cy="288.8" r="2.45"/><circle cx="486.2" cy="308.5" r="2.45"/><circle cx="506.9" cy="374.7" r="2.45"/><circle cx="443.9" cy="258.8" r="2.45"/><circle cx="500.6" cy="327.1" r="2.45"/><circle cx="269.3" cy="246.5" r="2.45"/><circle cx="278.7" cy="225.0" r="2.45"/><circle cx="244.6" cy="224.4" r="2.45"/><circle cx="511.5" cy="388.0" r="2.45"/><circle cx="488.9" cy="376.4" r="2.45"/><circle cx="475.7" cy="318.6" r="2.45"/><circle cx="547.3" cy="355.7" r="2.45"/><circle cx="596.7" cy="433.1" r="2.45"/><circle cx="262.1" cy="275.9" r="2.45"/><circle cx="337.2" cy="209.8" r="2.45"/><circle cx="498.1" cy="320.9" r="2.45"/><circle cx="419.6" cy="252.2" r="2.45"/><circle cx="434.4" cy="287.6" r="2.45"/><circle cx="352.2" cy="288.7" r="2.45"/><circle cx="567.6" cy="456.7" r="2.45"/><circle cx="519.5" cy="365.1" r="2.45"/><circle cx="374.0" cy="247.8" r="2.45"/><circle cx="468.0" cy="317.4" r="2.45"/><circle cx="377.3" cy="308.6" r="2.45"/><circle cx="524.5" cy="335.7" r="2.45"/><circle cx="623.0" cy="532.7" r="2.45"/><circle cx="391.3" cy="260.6" r="2.45"/><circle cx="328.2" cy="227.2" r="2.45"/><circle cx="266.5" cy="220.7" r="2.45"/><circle cx="424.4" cy="277.5" r="2.45"/><circle cx="578.1" cy="597.6" r="2.45"/><circle cx="341.1" cy="247.6" r="2.45"/><circle cx="275.0" cy="217.7" r="2.45"/><circle cx="458.4" cy="286.0" r="2.45"/><circle cx="529.9" cy="406.8" r="2.45"/><circle cx="433.5" cy="310.4" r="2.45"/><circle cx="390.9" cy="292.4" r="2.45"/><circle cx="453.7" cy="299.2" r="2.45"/><circle cx="386.9" cy="335.6" r="2.45"/><circle cx="286.3" cy="202.8" r="2.45"/><circle cx="405.1" cy="299.4" r="2.45"/><circle cx="413.8" cy="349.7" r="2.45"/><circle cx="518.0" cy="366.6" r="2.45"/><circle cx="511.7" cy="321.3" r="2.45"/><circle cx="401.5" cy="267.3" r="2.45"/><circle cx="357.0" cy="215.9" r="2.45"/><circle cx="412.8" cy="253.1" r="2.45"/><circle cx="353.7" cy="241.0" r="2.45"/><circle cx="367.1" cy="276.0" r="2.45"/><circle cx="284.9" cy="230.2" r="2.45"/><circle cx="325.3" cy="221.7" r="2.45"/><circle cx="263.7" cy="263.6" r="2.45"/><circle cx="306.5" cy="227.9" r="2.45"/><circle cx="332.7" cy="267.2" r="2.45"/><circle cx="514.2" cy="298.8" r="2.45"/><circle cx="524.4" cy="337.2" r="2.45"/><circle cx="505.6" cy="331.3" r="2.45"/><circle cx="417.1" cy="239.2" r="2.45"/><circle cx="329.7" cy="280.1" r="2.45"/><circle cx="339.8" cy="275.4" r="2.45"/><circle cx="247.1" cy="266.2" r="2.45"/><circle cx="448.1" cy="320.9" r="2.45"/><circle cx="419.2" cy="324.5" r="2.45"/><circle cx="337.0" cy="265.4" r="2.45"/><circle cx="420.5" cy="280.7" r="2.45"/><circle cx="506.6" cy="303.0" r="2.45"/><circle cx="398.0" cy="252.2" r="2.45"/><circle cx="310.8" cy="236.3" r="2.45"/><circle cx="419.1" cy="243.9" r="2.45"/><circle cx="345.2" cy="225.7" r="2.45"/><circle cx="489.9" cy="325.0" r="2.45"/><circle cx="341.4" cy="198.0" r="2.45"/><circle cx="396.7" cy="305.0" r="2.45"/><circle cx="408.2" cy="277.0" r="2.45"/><circle cx="428.9" cy="296.3" r="2.45"/><circle cx="465.2" cy="228.9" r="2.45"/><circle cx="483.3" cy="302.8" r="2.45"/><circle cx="358.1" cy="280.7" r="2.45"/><circle cx="289.9" cy="230.5" r="2.45"/><circle cx="299.1" cy="258.0" r="2.45"/><circle cx="521.9" cy="344.1" r="2.45"/><circle cx="518.6" cy="313.6" r="2.45"/><circle cx="273.7" cy="181.8" r="2.45"/><circle cx="480.6" cy="281.8" r="2.45"/><circle cx="461.4" cy="337.5" r="2.45"/><circle cx="417.3" cy="320.3" r="2.45"/><circle cx="519.7" cy="338.5" r="2.45"/><circle cx="288.5" cy="229.0" r="2.45"/><circle cx="253.5" cy="176.7" r="2.45"/><circle cx="388.7" cy="226.7" r="2.45"/><circle cx="579.2" cy="418.7" r="2.45"/><circle cx="374.9" cy="249.3" r="2.45"/><circle cx="373.0" cy="265.9" r="2.45"/><circle cx="371.7" cy="234.3" r="2.45"/><circle cx="430.4" cy="246.9" r="2.45"/><circle cx="414.1" cy="287.8" r="2.45"/><circle cx="525.5" cy="334.0" r="2.45"/><circle cx="486.1" cy="232.2" r="2.45"/><circle cx="338.7" cy="235.7" r="2.45"/><circle cx="398.7" cy="282.1" r="2.45"/><circle cx="488.3" cy="330.9" r="2.45"/><circle cx="372.9" cy="251.3" r="2.45"/><circle cx="507.1" cy="359.5" r="2.45"/><circle cx="597.2" cy="465.7" r="2.45"/><circle cx="355.3" cy="241.9" r="2.45"/><circle cx="393.9" cy="292.8" r="2.45"/><circle cx="441.5" cy="286.6" r="2.45"/><circle cx="527.7" cy="364.8" r="2.45"/><circle cx="422.5" cy="258.1" r="2.45"/><circle cx="234.7" cy="182.5" r="2.45"/><circle cx="438.3" cy="268.5" r="2.45"/><circle cx="496.4" cy="311.4" r="2.45"/><circle cx="467.5" cy="334.2" r="2.45"/><circle cx="578.1" cy="649.7" r="2.45"/><circle cx="518.4" cy="384.2" r="2.45"/><circle cx="238.5" cy="248.0" r="2.45"/><circle cx="465.7" cy="332.8" r="2.45"/><circle cx="318.2" cy="272.9" r="2.45"/><circle cx="452.1" cy="232.1" r="2.45"/><circle cx="466.2" cy="355.0" r="2.45"/><circle cx="545.9" cy="357.4" r="2.45"/><circle cx="472.3" cy="272.7" r="2.45"/><circle cx="477.4" cy="264.3" r="2.45"/><circle cx="438.2" cy="319.3" r="2.45"/><circle cx="415.0" cy="237.1" r="2.45"/><circle cx="543.6" cy="387.0" r="2.45"/><circle cx="497.8" cy="294.2" r="2.45"/><circle cx="521.2" cy="380.9" r="2.45"/><circle cx="487.4" cy="356.2" r="2.45"/><circle cx="342.2" cy="267.1" r="2.45"/><circle cx="398.3" cy="265.9" r="2.45"/><circle cx="463.1" cy="280.1" r="2.45"/><circle cx="248.2" cy="194.3" r="2.45"/><circle cx="403.1" cy="392.6" r="2.45"/><circle cx="415.8" cy="277.7" r="2.45"/><circle cx="205.3" cy="290.5" r="2.45"/><circle cx="312.4" cy="231.5" r="2.45"/><circle cx="463.0" cy="269.8" r="2.45"/><circle cx="474.5" cy="299.2" r="2.45"/><circle cx="509.5" cy="340.2" r="2.45"/><circle cx="359.6" cy="242.9" r="2.45"/><circle cx="391.3" cy="283.1" r="2.45"/><circle cx="331.1" cy="189.8" r="2.45"/><circle cx="462.0" cy="271.2" r="2.45"/><circle cx="462.3" cy="260.2" r="2.45"/><circle cx="311.0" cy="183.6" r="2.45"/><circle cx="515.6" cy="410.2" r="2.45"/><circle cx="298.5" cy="225.7" r="2.45"/><circle cx="444.9" cy="271.2" r="2.45"/><circle cx="489.4" cy="299.3" r="2.45"/><circle cx="449.9" cy="245.7" r="2.45"/><circle cx="330.3" cy="275.0" r="2.45"/><circle cx="433.4" cy="310.3" r="2.45"/><circle cx="494.5" cy="332.0" r="2.45"/><circle cx="628.1" cy="492.8" r="2.45"/><circle cx="573.1" cy="376.1" r="2.45"/><circle cx="405.7" cy="273.2" r="2.45"/><circle cx="362.6" cy="262.1" r="2.45"/><circle cx="319.5" cy="218.1" r="2.45"/><circle cx="457.7" cy="344.6" r="2.45"/><circle cx="437.9" cy="319.1" r="2.45"/><circle cx="552.2" cy="474.1" r="2.45"/><circle cx="277.4" cy="227.8" r="2.45"/><circle cx="535.7" cy="396.3" r="2.45"/><circle cx="494.9" cy="333.1" r="2.45"/><circle cx="371.2" cy="190.2" r="2.45"/><circle cx="388.8" cy="285.4" r="2.45"/><circle cx="317.7" cy="211.9" r="2.45"/><circle cx="419.0" cy="274.2" r="2.45"/><circle cx="516.9" cy="313.0" r="2.45"/><circle cx="516.7" cy="379.2" r="2.45"/><circle cx="537.6" cy="338.5" r="2.45"/><circle cx="369.8" cy="222.2" r="2.45"/><circle cx="504.3" cy="338.9" r="2.45"/><circle cx="377.4" cy="212.6" r="2.45"/><circle cx="582.7" cy="387.5" r="2.45"/><circle cx="617.8" cy="452.9" r="2.45"/><circle cx="307.3" cy="217.5" r="2.45"/><circle cx="244.6" cy="199.1" r="2.45"/><circle cx="240.4" cy="241.1" r="2.45"/><circle cx="449.6" cy="322.9" r="2.45"/><circle cx="442.9" cy="280.0" r="2.45"/><circle cx="587.7" cy="418.3" r="2.45"/><circle cx="531.4" cy="358.9" r="2.45"/><circle cx="296.1" cy="240.2" r="2.45"/><circle cx="293.1" cy="206.6" r="2.45"/><circle cx="539.2" cy="386.7" r="2.45"/><circle cx="181.0" cy="197.6" r="2.45"/><circle cx="409.4" cy="312.7" r="2.45"/><circle cx="487.7" cy="295.0" r="2.45"/><circle cx="418.5" cy="291.5" r="2.45"/><circle cx="291.3" cy="216.2" r="2.45"/><circle cx="191.3" cy="266.2" r="2.45"/><circle cx="571.5" cy="494.1" r="2.45"/><circle cx="499.9" cy="353.7" r="2.45"/><circle cx="534.6" cy="422.1" r="2.45"/><circle cx="321.8" cy="234.6" r="2.45"/><circle cx="495.2" cy="299.1" r="2.45"/><circle cx="436.6" cy="315.1" r="2.45"/><circle cx="471.1" cy="292.3" r="2.45"/><circle cx="272.4" cy="205.0" r="2.45"/><circle cx="467.3" cy="322.7" r="2.45"/><circle cx="442.1" cy="323.5" r="2.45"/><circle cx="288.7" cy="242.2" r="2.45"/><circle cx="296.2" cy="227.3" r="2.45"/><circle cx="486.1" cy="293.9" r="2.45"/><circle cx="614.1" cy="614.8" r="2.45"/><circle cx="430.3" cy="212.5" r="2.45"/><circle cx="472.5" cy="281.5" r="2.45"/><circle cx="514.4" cy="317.0" r="2.45"/><circle cx="409.1" cy="268.1" r="2.45"/><circle cx="538.6" cy="420.6" r="2.45"/><circle cx="482.5" cy="400.5" r="2.45"/><circle cx="421.8" cy="320.8" r="2.45"/><circle cx="276.9" cy="207.1" r="2.45"/><circle cx="369.4" cy="231.4" r="2.45"/><circle cx="397.4" cy="226.5" r="2.45"/><circle cx="470.2" cy="357.4" r="2.45"/><circle cx="452.3" cy="295.5" r="2.45"/><circle cx="288.9" cy="253.3" r="2.45"/><circle cx="520.5" cy="369.7" r="2.45"/><circle cx="581.8" cy="545.5" r="2.45"/><circle cx="458.4" cy="348.5" r="2.45"/><circle cx="455.2" cy="303.3" r="2.45"/><circle cx="343.3" cy="238.1" r="2.45"/><circle cx="410.6" cy="260.9" r="2.45"/><circle cx="440.6" cy="340.1" r="2.45"/><circle cx="363.7" cy="237.8" r="2.45"/><circle cx="309.3" cy="231.0" r="2.45"/><circle cx="306.9" cy="243.4" r="2.45"/><circle cx="461.7" cy="296.2" r="2.45"/><circle cx="576.6" cy="624.6" r="2.45"/><circle cx="309.0" cy="256.8" r="2.45"/><circle cx="524.9" cy="397.0" r="2.45"/><circle cx="496.6" cy="350.9" r="2.45"/><circle cx="439.5" cy="320.5" r="2.45"/><circle cx="450.8" cy="318.0" r="2.45"/><circle cx="392.5" cy="250.7" r="2.45"/><circle cx="346.3" cy="185.2" r="2.45"/><circle cx="327.5" cy="279.8" r="2.45"/><circle cx="453.7" cy="361.2" r="2.45"/><circle cx="422.4" cy="313.8" r="2.45"/><circle cx="301.2" cy="226.6" r="2.45"/><circle cx="506.1" cy="422.2" r="2.45"/><circle cx="513.2" cy="302.0" r="2.45"/><circle cx="488.9" cy="374.5" r="2.45"/><circle cx="368.4" cy="323.1" r="2.45"/><circle cx="311.7" cy="273.4" r="2.45"/><circle cx="575.3" cy="419.5" r="2.45"/><circle cx="462.9" cy="292.2" r="2.45"/><circle cx="400.6" cy="298.8" r="2.45"/><circle cx="332.4" cy="254.2" r="2.45"/><circle cx="582.6" cy="573.5" r="2.45"/><circle cx="624.6" cy="590.0" r="2.45"/><circle cx="336.3" cy="284.8" r="2.45"/><circle cx="327.7" cy="233.0" r="2.45"/><circle cx="394.2" cy="278.9" r="2.45"/><circle cx="477.3" cy="280.5" r="2.45"/><circle cx="419.0" cy="267.6" r="2.45"/><circle cx="404.3" cy="227.0" r="2.45"/><circle cx="371.4" cy="262.8" r="2.45"/><circle cx="380.4" cy="249.1" r="2.45"/><circle cx="244.7" cy="184.6" r="2.45"/><circle cx="316.0" cy="204.7" r="2.45"/><circle cx="509.2" cy="379.4" r="2.45"/><circle cx="291.2" cy="253.6" r="2.45"/><circle cx="481.5" cy="284.0" r="2.45"/><circle cx="293.2" cy="219.3" r="2.45"/><circle cx="250.0" cy="231.1" r="2.45"/><circle cx="425.5" cy="241.4" r="2.45"/><circle cx="491.2" cy="295.2" r="2.45"/><circle cx="395.6" cy="248.1" r="2.45"/><circle cx="568.9" cy="500.5" r="2.45"/><circle cx="504.5" cy="282.6" r="2.45"/><circle cx="519.3" cy="343.0" r="2.45"/><circle cx="354.1" cy="237.3" r="2.45"/><circle cx="276.9" cy="222.3" r="2.45"/><circle cx="374.8" cy="224.1" r="2.45"/><circle cx="435.7" cy="241.7" r="2.45"/><circle cx="418.9" cy="267.7" r="2.45"/><circle cx="326.0" cy="222.1" r="2.45"/><circle cx="477.2" cy="344.0" r="2.45"/><circle cx="467.1" cy="294.3" r="2.45"/><circle cx="245.0" cy="177.2" r="2.45"/><circle cx="506.4" cy="262.5" r="2.45"/><circle cx="608.8" cy="537.8" r="2.45"/><circle cx="494.4" cy="318.9" r="2.45"/><circle cx="413.9" cy="272.7" r="2.45"/><circle cx="453.9" cy="249.3" r="2.45"/><circle cx="434.6" cy="313.1" r="2.45"/><circle cx="429.7" cy="277.9" r="2.45"/><circle cx="451.8" cy="323.3" r="2.45"/><circle cx="559.6" cy="406.3" r="2.45"/><circle cx="372.1" cy="238.9" r="2.45"/><circle cx="408.1" cy="240.8" r="2.45"/><circle cx="372.0" cy="294.9" r="2.45"/><circle cx="547.1" cy="385.2" r="2.45"/><circle cx="527.1" cy="424.1" r="2.45"/><circle cx="309.0" cy="199.3" r="2.45"/><circle cx="357.1" cy="243.1" r="2.45"/><circle cx="609.6" cy="595.3" r="2.45"/><circle cx="497.3" cy="350.7" r="2.45"/><circle cx="306.6" cy="218.4" r="2.45"/><circle cx="331.9" cy="197.0" r="2.45"/><circle cx="509.4" cy="316.0" r="2.45"/><circle cx="285.2" cy="238.6" r="2.45"/><circle cx="235.3" cy="207.2" r="2.45"/><circle cx="303.1" cy="229.6" r="2.45"/><circle cx="584.1" cy="579.5" r="2.45"/><circle cx="359.2" cy="221.9" r="2.45"/><circle cx="315.2" cy="249.9" r="2.45"/><circle cx="500.3" cy="295.4" r="2.45"/><circle cx="299.7" cy="230.0" r="2.45"/><circle cx="279.6" cy="239.6" r="2.45"/><circle cx="464.3" cy="255.5" r="2.45"/><circle cx="317.0" cy="234.1" r="2.45"/><circle cx="459.3" cy="314.1" r="2.45"/><circle cx="322.2" cy="249.5" r="2.45"/><circle cx="438.2" cy="272.8" r="2.45"/><circle cx="277.9" cy="232.5" r="2.45"/><circle cx="460.9" cy="343.5" r="2.45"/><circle cx="597.6" cy="565.3" r="2.45"/><circle cx="481.4" cy="287.6" r="2.45"/><circle cx="327.3" cy="227.1" r="2.45"/><circle cx="496.8" cy="304.0" r="2.45"/><circle cx="503.5" cy="300.2" r="2.45"/><circle cx="349.0" cy="311.9" r="2.45"/><circle cx="277.9" cy="246.1" r="2.45"/><circle cx="254.6" cy="242.5" r="2.45"/><circle cx="439.9" cy="268.7" r="2.45"/><circle cx="441.8" cy="329.6" r="2.45"/><circle cx="297.8" cy="260.4" r="2.45"/><circle cx="404.9" cy="267.1" r="2.45"/><circle cx="473.3" cy="232.2" r="2.45"/><circle cx="294.9" cy="238.1" r="2.45"/><circle cx="501.9" cy="394.5" r="2.45"/><circle cx="296.2" cy="230.9" r="2.45"/><circle cx="487.9" cy="285.3" r="2.45"/><circle cx="334.7" cy="218.5" r="2.45"/><circle cx="331.2" cy="260.2" r="2.45"/><circle cx="488.0" cy="335.8" r="2.45"/><circle cx="462.2" cy="266.3" r="2.45"/><circle cx="448.5" cy="227.5" r="2.45"/><circle cx="385.0" cy="274.8" r="2.45"/><circle cx="290.3" cy="233.9" r="2.45"/><circle cx="324.3" cy="206.4" r="2.45"/><circle cx="184.9" cy="217.5" r="2.45"/><circle cx="294.6" cy="214.0" r="2.45"/><circle cx="437.8" cy="288.3" r="2.45"/><circle cx="465.4" cy="292.2" r="2.45"/><circle cx="527.1" cy="395.4" r="2.45"/><circle cx="423.5" cy="379.1" r="2.45"/><circle cx="389.4" cy="226.4" r="2.45"/><circle cx="610.1" cy="512.1" r="2.45"/><circle cx="404.9" cy="322.1" r="2.45"/><circle cx="500.1" cy="353.3" r="2.45"/><circle cx="366.8" cy="337.7" r="2.45"/><circle cx="522.5" cy="373.6" r="2.45"/><circle cx="208.1" cy="327.8" r="2.45"/><circle cx="367.4" cy="270.1" r="2.45"/><circle cx="534.7" cy="368.5" r="2.45"/><circle cx="479.1" cy="295.2" r="2.45"/><circle cx="404.7" cy="293.8" r="2.45"/><circle cx="274.6" cy="225.2" r="2.45"/><circle cx="342.0" cy="246.1" r="2.45"/><circle cx="304.2" cy="259.2" r="2.45"/><circle cx="431.5" cy="328.0" r="2.45"/><circle cx="543.8" cy="430.7" r="2.45"/><circle cx="500.9" cy="390.9" r="2.45"/><circle cx="257.5" cy="232.4" r="2.45"/><circle cx="465.5" cy="248.0" r="2.45"/><circle cx="394.2" cy="231.7" r="2.45"/><circle cx="478.7" cy="281.1" r="2.45"/><circle cx="343.1" cy="235.0" r="2.45"/><circle cx="277.7" cy="264.4" r="2.45"/><circle cx="599.8" cy="534.0" r="2.45"/><circle cx="486.7" cy="299.4" r="2.45"/><circle cx="469.3" cy="340.4" r="2.45"/><circle cx="464.7" cy="358.4" r="2.45"/><circle cx="416.0" cy="285.5" r="2.45"/><circle cx="588.2" cy="452.9" r="2.45"/><circle cx="442.8" cy="283.8" r="2.45"/><circle cx="580.4" cy="399.9" r="2.45"/><circle cx="470.5" cy="291.7" r="2.45"/><circle cx="456.3" cy="310.0" r="2.45"/><circle cx="332.0" cy="255.1" r="2.45"/><circle cx="465.7" cy="297.2" r="2.45"/><circle cx="365.7" cy="210.6" r="2.45"/><circle cx="452.0" cy="263.5" r="2.45"/><circle cx="380.5" cy="242.7" r="2.45"/><circle cx="444.1" cy="326.5" r="2.45"/><circle cx="328.5" cy="228.1" r="2.45"/><circle cx="306.6" cy="211.9" r="2.45"/><circle cx="364.4" cy="245.0" r="2.45"/><circle cx="571.5" cy="470.2" r="2.45"/><circle cx="463.0" cy="328.4" r="2.45"/><circle cx="497.2" cy="379.0" r="2.45"/><circle cx="328.6" cy="268.8" r="2.45"/><circle cx="405.7" cy="250.9" r="2.45"/><circle cx="176.3" cy="209.8" r="2.45"/><circle cx="441.9" cy="248.1" r="2.45"/><circle cx="400.3" cy="217.7" r="2.45"/><circle cx="254.6" cy="241.5" r="2.45"/><circle cx="389.5" cy="319.5" r="2.45"/><circle cx="385.7" cy="223.6" r="2.45"/><circle cx="479.1" cy="358.8" r="2.45"/><circle cx="302.2" cy="213.5" r="2.45"/><circle cx="440.0" cy="319.8" r="2.45"/><circle cx="306.0" cy="229.7" r="2.45"/><circle cx="387.4" cy="251.4" r="2.45"/><circle cx="537.5" cy="361.0" r="2.45"/><circle cx="397.2" cy="322.1" r="2.45"/><circle cx="300.0" cy="254.1" r="2.45"/><circle cx="507.8" cy="408.3" r="2.45"/><circle cx="550.9" cy="405.0" r="2.45"/><circle cx="271.0" cy="247.2" r="2.45"/><circle cx="401.6" cy="275.7" r="2.45"/><circle cx="513.7" cy="317.1" r="2.45"/><circle cx="387.4" cy="234.4" r="2.45"/><circle cx="533.1" cy="422.6" r="2.45"/><circle cx="409.7" cy="308.6" r="2.45"/><circle cx="291.7" cy="231.6" r="2.45"/><circle cx="447.6" cy="261.7" r="2.45"/><circle cx="356.5" cy="278.7" r="2.45"/><circle cx="349.7" cy="386.9" r="2.45"/><circle cx="518.5" cy="332.6" r="2.45"/><circle cx="305.7" cy="261.6" r="2.45"/><circle cx="518.5" cy="289.6" r="2.45"/><circle cx="353.6" cy="208.0" r="2.45"/><circle cx="293.2" cy="273.7" r="2.45"/><circle cx="296.4" cy="203.9" r="2.45"/><circle cx="416.0" cy="246.9" r="2.45"/><circle cx="291.8" cy="232.0" r="2.45"/><circle cx="421.2" cy="282.5" r="2.45"/><circle cx="491.0" cy="281.2" r="2.45"/><circle cx="487.2" cy="306.9" r="2.45"/><circle cx="541.9" cy="496.6" r="2.45"/><circle cx="387.4" cy="237.8" r="2.45"/><circle cx="478.2" cy="276.7" r="2.45"/><circle cx="431.6" cy="328.8" r="2.45"/><circle cx="528.5" cy="318.3" r="2.45"/><circle cx="316.5" cy="255.7" r="2.45"/><circle cx="413.4" cy="236.2" r="2.45"/><circle cx="394.2" cy="211.1" r="2.45"/><circle cx="460.9" cy="323.4" r="2.45"/><circle cx="455.7" cy="336.4" r="2.45"/><circle cx="323.4" cy="248.2" r="2.45"/><circle cx="448.8" cy="301.8" r="2.45"/><circle cx="445.0" cy="222.5" r="2.45"/><circle cx="490.6" cy="266.2" r="2.45"/><circle cx="508.7" cy="368.6" r="2.45"/><circle cx="477.2" cy="396.9" r="2.45"/><circle cx="435.4" cy="322.7" r="2.45"/><circle cx="447.2" cy="255.6" r="2.45"/><circle cx="344.8" cy="435.8" r="2.45"/><circle cx="417.7" cy="306.3" r="2.45"/><circle cx="510.7" cy="333.0" r="2.45"/><circle cx="327.6" cy="251.4" r="2.45"/><circle cx="480.0" cy="378.1" r="2.45"/><circle cx="454.2" cy="332.8" r="2.45"/><circle cx="360.8" cy="236.7" r="2.45"/><circle cx="332.9" cy="331.7" r="2.45"/><circle cx="571.5" cy="431.7" r="2.45"/><circle cx="480.8" cy="311.7" r="2.45"/><circle cx="288.6" cy="255.0" r="2.45"/><circle cx="604.3" cy="480.9" r="2.45"/><circle cx="277.9" cy="208.7" r="2.45"/><circle cx="408.6" cy="232.6" r="2.45"/><circle cx="428.8" cy="271.8" r="2.45"/><circle cx="510.5" cy="295.0" r="2.45"/><circle cx="296.2" cy="231.6" r="2.45"/><circle cx="386.0" cy="243.0" r="2.45"/><circle cx="289.7" cy="266.9" r="2.45"/><circle cx="444.1" cy="307.2" r="2.45"/><circle cx="480.1" cy="321.1" r="2.45"/><circle cx="507.4" cy="347.7" r="2.45"/><circle cx="444.6" cy="264.4" r="2.45"/><circle cx="330.7" cy="240.4" r="2.45"/><circle cx="315.3" cy="307.0" r="2.45"/><circle cx="507.6" cy="401.7" r="2.45"/><circle cx="552.2" cy="463.2" r="2.45"/><circle cx="433.2" cy="331.1" r="2.45"/><circle cx="479.5" cy="365.4" r="2.45"/><circle cx="384.6" cy="296.4" r="2.45"/><circle cx="283.5" cy="214.4" r="2.45"/><circle cx="490.6" cy="327.7" r="2.45"/><circle cx="510.8" cy="339.1" r="2.45"/><circle cx="493.9" cy="336.1" r="2.45"/><circle cx="536.0" cy="423.1" r="2.45"/><circle cx="445.1" cy="309.2" r="2.45"/><circle cx="470.0" cy="268.1" r="2.45"/><circle cx="298.0" cy="228.2" r="2.45"/><circle cx="377.6" cy="219.2" r="2.45"/><circle cx="341.2" cy="243.7" r="2.45"/><circle cx="419.7" cy="250.8" r="2.45"/><circle cx="500.3" cy="334.9" r="2.45"/><circle cx="395.3" cy="303.7" r="2.45"/><circle cx="499.4" cy="294.8" r="2.45"/><circle cx="385.1" cy="306.6" r="2.45"/><circle cx="626.1" cy="561.5" r="2.45"/><circle cx="466.0" cy="332.7" r="2.45"/><circle cx="495.7" cy="309.0" r="2.45"/><circle cx="293.0" cy="238.7" r="2.45"/><circle cx="486.2" cy="332.4" r="2.45"/><circle cx="260.0" cy="239.4" r="2.45"/><circle cx="402.5" cy="286.1" r="2.45"/><circle cx="567.6" cy="474.7" r="2.45"/><circle cx="339.1" cy="260.8" r="2.45"/><circle cx="428.2" cy="295.2" r="2.45"/><circle cx="359.0" cy="224.1" r="2.45"/><circle cx="404.6" cy="248.8" r="2.45"/><circle cx="364.6" cy="227.7" r="2.45"/><circle cx="621.7" cy="494.1" r="2.45"/><circle cx="459.5" cy="257.3" r="2.45"/><circle cx="518.2" cy="367.4" r="2.45"/><circle cx="465.4" cy="347.9" r="2.45"/><circle cx="575.9" cy="394.5" r="2.45"/><circle cx="346.6" cy="276.0" r="2.45"/><circle cx="521.2" cy="352.1" r="2.45"/><circle cx="461.2" cy="344.9" r="2.45"/><circle cx="390.7" cy="287.7" r="2.45"/><circle cx="454.4" cy="301.0" r="2.45"/><circle cx="466.7" cy="312.2" r="2.45"/><circle cx="293.1" cy="218.7" r="2.45"/><circle cx="415.3" cy="260.3" r="2.45"/><circle cx="429.8" cy="289.4" r="2.45"/><circle cx="498.4" cy="317.1" r="2.45"/><circle cx="370.1" cy="252.6" r="2.45"/><circle cx="296.2" cy="227.3" r="2.45"/><circle cx="260.4" cy="219.9" r="2.45"/><circle cx="361.1" cy="248.0" r="2.45"/><circle cx="411.0" cy="275.2" r="2.45"/><circle cx="594.6" cy="615.6" r="2.45"/><circle cx="498.1" cy="335.8" r="2.45"/><circle cx="514.6" cy="406.2" r="2.45"/><circle cx="321.2" cy="213.8" r="2.45"/><circle cx="447.5" cy="282.7" r="2.45"/><circle cx="468.1" cy="347.5" r="2.45"/><circle cx="302.6" cy="253.2" r="2.45"/><circle cx="516.9" cy="340.2" r="2.45"/><circle cx="376.6" cy="297.8" r="2.45"/><circle cx="488.8" cy="359.1" r="2.45"/><circle cx="238.5" cy="259.8" r="2.45"/><circle cx="446.7" cy="279.2" r="2.45"/><circle cx="517.8" cy="329.8" r="2.45"/><circle cx="633.6" cy="596.1" r="2.45"/><circle cx="460.4" cy="302.4" r="2.45"/><circle cx="407.4" cy="307.6" r="2.45"/><circle cx="464.6" cy="340.3" r="2.45"/><circle cx="539.7" cy="384.5" r="2.45"/><circle cx="361.0" cy="258.6" r="2.45"/><circle cx="329.4" cy="217.7" r="2.45"/><circle cx="419.3" cy="265.7" r="2.45"/><circle cx="431.0" cy="355.0" r="2.45"/><circle cx="413.1" cy="249.7" r="2.45"/><circle cx="419.9" cy="282.7" r="2.45"/><circle cx="439.5" cy="277.0" r="2.45"/><circle cx="359.2" cy="244.8" r="2.45"/><circle cx="510.5" cy="340.9" r="2.45"/><circle cx="382.2" cy="298.9" r="2.45"/><circle cx="258.8" cy="232.8" r="2.45"/><circle cx="488.8" cy="340.0" r="2.45"/><circle cx="417.9" cy="253.7" r="2.45"/><circle cx="329.3" cy="216.0" r="2.45"/><circle cx="259.6" cy="251.6" r="2.45"/><circle cx="453.0" cy="282.1" r="2.45"/><circle cx="402.7" cy="257.2" r="2.45"/><circle cx="458.8" cy="346.6" r="2.45"/><circle cx="483.9" cy="346.5" r="2.45"/><circle cx="488.5" cy="391.1" r="2.45"/><circle cx="324.0" cy="254.0" r="2.45"/><circle cx="255.4" cy="220.0" r="2.45"/><circle cx="300.8" cy="297.3" r="2.45"/><circle cx="459.2" cy="341.2" r="2.45"/><circle cx="499.6" cy="317.9" r="2.45"/><circle cx="510.3" cy="387.1" r="2.45"/><circle cx="478.4" cy="359.1" r="2.45"/><circle cx="465.6" cy="325.0" r="2.45"/><circle cx="507.9" cy="405.0" r="2.45"/><circle cx="462.0" cy="301.0" r="2.45"/><circle cx="403.9" cy="251.7" r="2.45"/><circle cx="407.5" cy="254.3" r="2.45"/><circle cx="205.3" cy="269.9" r="2.45"/><circle cx="412.6" cy="275.1" r="2.45"/><circle cx="477.1" cy="270.2" r="2.45"/><circle cx="532.9" cy="445.1" r="2.45"/><circle cx="378.2" cy="246.7" r="2.45"/><circle cx="411.4" cy="299.5" r="2.45"/><circle cx="522.2" cy="406.1" r="2.45"/><circle cx="462.5" cy="339.2" r="2.45"/><circle cx="511.2" cy="414.3" r="2.45"/><circle cx="447.1" cy="244.5" r="2.45"/><circle cx="468.7" cy="346.7" r="2.45"/><circle cx="574.1" cy="500.5" r="2.45"/><circle cx="303.2" cy="265.6" r="2.45"/><circle cx="436.2" cy="310.0" r="2.45"/><circle cx="533.6" cy="360.8" r="2.45"/><circle cx="321.9" cy="237.0" r="2.45"/><circle cx="402.4" cy="329.8" r="2.45"/><circle cx="478.5" cy="281.2" r="2.45"/><circle cx="369.5" cy="223.2" r="2.45"/><circle cx="379.1" cy="216.6" r="2.45"/><circle cx="550.9" cy="486.3" r="2.45"/><circle cx="370.7" cy="259.5" r="2.45"/><circle cx="472.8" cy="246.8" r="2.45"/><circle cx="517.7" cy="340.5" r="2.45"/><circle cx="523.4" cy="331.7" r="2.45"/><circle cx="339.5" cy="280.7" r="2.45"/><circle cx="532.8" cy="350.2" r="2.45"/><circle cx="497.7" cy="353.8" r="2.45"/><circle cx="453.7" cy="317.4" r="2.45"/><circle cx="346.5" cy="459.0" r="2.45"/><circle cx="299.3" cy="240.3" r="2.45"/><circle cx="532.3" cy="380.5" r="2.45"/><circle cx="429.5" cy="262.4" r="2.45"/><circle cx="471.0" cy="345.0" r="2.45"/><circle cx="407.1" cy="282.1" r="2.45"/><circle cx="391.5" cy="247.3" r="2.45"/><circle cx="233.0" cy="255.8" r="2.45"/><circle cx="532.0" cy="366.8" r="2.45"/><circle cx="327.1" cy="242.7" r="2.45"/><circle cx="409.9" cy="278.4" r="2.45"/><circle cx="430.3" cy="307.1" r="2.45"/><circle cx="502.7" cy="388.1" r="2.45"/><circle cx="522.7" cy="317.2" r="2.45"/><circle cx="420.4" cy="349.1" r="2.45"/><circle cx="244.3" cy="209.2" r="2.45"/><circle cx="460.0" cy="337.1" r="2.45"/><circle cx="425.7" cy="305.9" r="2.45"/><circle cx="362.2" cy="232.7" r="2.45"/><circle cx="539.8" cy="396.3" r="2.45"/><circle cx="581.0" cy="422.3" r="2.45"/><circle cx="478.5" cy="286.0" r="2.45"/><circle cx="458.2" cy="315.8" r="2.45"/><circle cx="554.7" cy="487.6" r="2.45"/><circle cx="357.2" cy="264.9" r="2.45"/><circle cx="452.9" cy="276.7" r="2.45"/><circle cx="392.8" cy="232.4" r="2.45"/><circle cx="355.5" cy="276.6" r="2.45"/><circle cx="431.1" cy="275.8" r="2.45"/><circle cx="416.3" cy="258.9" r="2.45"/><circle cx="327.6" cy="286.9" r="2.45"/><circle cx="332.9" cy="230.1" r="2.45"/><circle cx="323.1" cy="216.4" r="2.45"/><circle cx="323.5" cy="231.0" r="2.45"/><circle cx="371.3" cy="231.3" r="2.45"/><circle cx="306.2" cy="204.4" r="2.45"/><circle cx="270.7" cy="180.4" r="2.45"/><circle cx="447.7" cy="329.4" r="2.45"/><circle cx="513.3" cy="292.8" r="2.45"/><circle cx="330.0" cy="263.4" r="2.45"/><circle cx="493.6" cy="323.0" r="2.45"/><circle cx="291.4" cy="226.4" r="2.45"/><circle cx="574.1" cy="483.8" r="2.45"/><circle cx="460.8" cy="318.3" r="2.45"/><circle cx="521.0" cy="392.2" r="2.45"/><circle cx="413.8" cy="377.6" r="2.45"/><circle cx="515.7" cy="415.7" r="2.45"/><circle cx="396.9" cy="201.6" r="2.45"/><circle cx="362.8" cy="236.0" r="2.45"/><circle cx="437.9" cy="335.5" r="2.45"/><circle cx="293.2" cy="252.4" r="2.45"/><circle cx="575.2" cy="374.6" r="2.45"/><circle cx="293.4" cy="235.9" r="2.45"/><circle cx="526.4" cy="395.7" r="2.45"/><circle cx="501.9" cy="319.3" r="2.45"/><circle cx="428.9" cy="301.6" r="2.45"/><circle cx="287.8" cy="254.8" r="2.45"/><circle cx="498.0" cy="375.2" r="2.45"/><circle cx="540.7" cy="413.5" r="2.45"/><circle cx="556.9" cy="409.0" r="2.45"/><circle cx="446.8" cy="289.5" r="2.45"/><circle cx="488.6" cy="304.5" r="2.45"/><circle cx="325.6" cy="221.8" r="2.45"/><circle cx="332.2" cy="199.3" r="2.45"/><circle cx="584.4" cy="492.8" r="2.45"/><circle cx="426.5" cy="228.2" r="2.45"/><circle cx="431.4" cy="295.7" r="2.45"/><circle cx="434.8" cy="326.7" r="2.45"/><circle cx="497.4" cy="304.3" r="2.45"/><circle cx="513.2" cy="313.6" r="2.45"/><circle cx="381.1" cy="247.0" r="2.45"/><circle cx="532.9" cy="342.2" r="2.45"/><circle cx="455.5" cy="339.4" r="2.45"/><circle cx="341.6" cy="203.6" r="2.45"/><circle cx="464.6" cy="308.7" r="2.45"/><circle cx="384.0" cy="246.2" r="2.45"/><circle cx="435.9" cy="236.0" r="2.45"/><circle cx="301.1" cy="214.3" r="2.45"/><circle cx="315.6" cy="236.5" r="2.45"/><circle cx="440.5" cy="304.1" r="2.45"/><circle cx="455.0" cy="343.4" r="2.45"/><circle cx="479.5" cy="376.6" r="2.45"/><circle cx="406.9" cy="268.8" r="2.45"/><circle cx="352.6" cy="247.4" r="2.45"/><circle cx="460.0" cy="259.6" r="2.45"/><circle cx="203.1" cy="258.3" r="2.45"/><circle cx="312.7" cy="212.2" r="2.45"/><circle cx="402.7" cy="235.6" r="2.45"/><circle cx="539.7" cy="417.7" r="2.45"/><circle cx="423.4" cy="292.1" r="2.45"/><circle cx="588.6" cy="621.6" r="2.45"/><circle cx="338.4" cy="246.4" r="2.45"/><circle cx="367.5" cy="219.6" r="2.45"/><circle cx="406.7" cy="231.3" r="2.45"/><circle cx="455.5" cy="267.8" r="2.45"/><circle cx="477.4" cy="278.6" r="2.45"/><circle cx="457.7" cy="250.8" r="2.45"/><circle cx="474.6" cy="348.9" r="2.45"/><circle cx="284.0" cy="225.8" r="2.45"/><circle cx="434.2" cy="266.2" r="2.45"/><circle cx="458.9" cy="284.7" r="2.45"/><circle cx="433.3" cy="310.2" r="2.45"/><circle cx="496.4" cy="368.8" r="2.45"/><circle cx="388.1" cy="260.6" r="2.45"/><circle cx="382.9" cy="268.4" r="2.45"/><circle cx="292.4" cy="274.5" r="2.45"/><circle cx="396.8" cy="244.7" r="2.45"/><circle cx="474.9" cy="290.3" r="2.45"/><circle cx="473.6" cy="314.9" r="2.45"/><circle cx="532.6" cy="354.2" r="2.45"/><circle cx="310.0" cy="234.5" r="2.45"/><circle cx="603.6" cy="593.0" r="2.45"/><circle cx="502.6" cy="296.0" r="2.45"/><circle cx="410.1" cy="332.4" r="2.45"/><circle cx="285.1" cy="202.9" r="2.45"/><circle cx="191.3" cy="241.5" r="2.45"/><circle cx="314.1" cy="229.9" r="2.45"/><circle cx="378.0" cy="219.2" r="2.45"/><circle cx="485.4" cy="287.0" r="2.45"/><circle cx="204.2" cy="208.9" r="2.45"/><circle cx="541.5" cy="386.0" r="2.45"/><circle cx="611.9" cy="620.1" r="2.45"/><circle cx="196.7" cy="217.9" r="2.45"/><circle cx="411.2" cy="240.2" r="2.45"/><circle cx="471.2" cy="299.1" r="2.45"/><circle cx="463.8" cy="401.2" r="2.45"/><circle cx="330.6" cy="238.3" r="2.45"/><circle cx="381.9" cy="238.0" r="2.45"/><circle cx="418.1" cy="316.1" r="2.45"/><circle cx="394.5" cy="248.5" r="2.45"/><circle cx="442.2" cy="327.9" r="2.45"/><circle cx="419.5" cy="262.5" r="2.45"/><circle cx="480.2" cy="355.1" r="2.45"/><circle cx="496.3" cy="315.7" r="2.45"/><circle cx="380.7" cy="280.1" r="2.45"/><circle cx="572.1" cy="608.1" r="2.45"/><circle cx="409.6" cy="315.7" r="2.45"/><circle cx="452.8" cy="260.3" r="2.45"/><circle cx="282.0" cy="228.5" r="2.45"/><circle cx="353.8" cy="284.4" r="2.45"/><circle cx="531.9" cy="327.4" r="2.45"/><circle cx="461.8" cy="270.7" r="2.45"/><circle cx="490.0" cy="323.0" r="2.45"/><circle cx="317.7" cy="224.6" r="2.45"/><circle cx="354.1" cy="245.9" r="2.45"/><circle cx="438.5" cy="299.9" r="2.45"/><circle cx="325.4" cy="265.8" r="2.45"/><circle cx="561.7" cy="354.1" r="2.45"/><circle cx="480.2" cy="356.2" r="2.45"/><circle cx="537.7" cy="363.9" r="2.45"/><circle cx="574.6" cy="379.3" r="2.45"/><circle cx="588.2" cy="496.6" r="2.45"/><circle cx="378.3" cy="269.3" r="2.45"/><circle cx="527.8" cy="411.4" r="2.45"/><circle cx="594.6" cy="582.5" r="2.45"/><circle cx="420.3" cy="279.7" r="2.45"/><circle cx="490.1" cy="327.9" r="2.45"/><circle cx="453.3" cy="329.2" r="2.45"/><circle cx="523.1" cy="374.0" r="2.45"/><circle cx="284.9" cy="246.6" r="2.45"/><circle cx="581.8" cy="553.3" r="2.45"/><circle cx="460.4" cy="286.7" r="2.45"/><circle cx="411.6" cy="296.2" r="2.45"/><circle cx="592.1" cy="543.0" r="2.45"/><circle cx="398.0" cy="290.3" r="2.45"/><circle cx="506.2" cy="261.2" r="2.45"/><circle cx="516.3" cy="389.1" r="2.45"/><circle cx="530.5" cy="364.0" r="2.45"/><circle cx="326.9" cy="279.2" r="2.45"/><circle cx="420.0" cy="300.8" r="2.45"/><circle cx="550.2" cy="404.1" r="2.45"/><circle cx="530.7" cy="349.9" r="2.45"/><circle cx="370.2" cy="239.4" r="2.45"/><circle cx="367.7" cy="282.7" r="2.45"/><circle cx="551.8" cy="427.2" r="2.45"/><circle cx="329.9" cy="239.4" r="2.45"/><circle cx="464.2" cy="266.9" r="2.45"/><circle cx="494.4" cy="337.0" r="2.45"/><circle cx="503.5" cy="326.0" r="2.45"/><circle cx="448.6" cy="275.9" r="2.45"/><circle cx="527.0" cy="417.7" r="2.45"/><circle cx="488.3" cy="350.5" r="2.45"/><circle cx="499.4" cy="312.6" r="2.45"/><circle cx="391.5" cy="240.1" r="2.45"/><circle cx="457.5" cy="282.0" r="2.45"/><circle cx="496.1" cy="393.4" r="2.45"/><circle cx="509.0" cy="408.8" r="2.45"/><circle cx="359.3" cy="278.7" r="2.45"/><circle cx="513.4" cy="406.0" r="2.45"/><circle cx="461.7" cy="327.1" r="2.45"/><circle cx="410.4" cy="266.9" r="2.45"/><circle cx="490.3" cy="324.5" r="2.45"/><circle cx="300.6" cy="183.2" r="2.45"/><circle cx="484.6" cy="311.4" r="2.45"/><circle cx="309.8" cy="273.3" r="2.45"/><circle cx="445.0" cy="286.8" r="2.45"/><circle cx="181.0" cy="172.9" r="2.45"/><circle cx="571.5" cy="512.1" r="2.45"/><circle cx="266.5" cy="245.6" r="2.45"/><circle cx="498.3" cy="352.3" r="2.45"/><circle cx="412.5" cy="247.3" r="2.45"/><circle cx="274.8" cy="212.4" r="2.45"/><circle cx="467.5" cy="335.3" r="2.45"/><circle cx="384.4" cy="316.9" r="2.45"/><circle cx="309.5" cy="252.1" r="2.45"/><circle cx="510.1" cy="332.4" r="2.45"/><circle cx="198.8" cy="221.2" r="2.45"/><circle cx="389.8" cy="250.5" r="2.45"/><circle cx="597.2" cy="469.0" r="2.45"/><circle cx="380.8" cy="251.8" r="2.45"/><circle cx="346.0" cy="267.6" r="2.45"/><circle cx="579.6" cy="601.3" r="2.45"/><circle cx="323.8" cy="242.2" r="2.45"/><circle cx="545.3" cy="367.8" r="2.45"/><circle cx="436.2" cy="326.7" r="2.45"/><circle cx="373.0" cy="258.5" r="2.45"/><circle cx="219.6" cy="189.0" r="2.45"/><circle cx="468.4" cy="308.7" r="2.45"/><circle cx="390.8" cy="262.4" r="2.45"/><circle cx="278.1" cy="218.1" r="2.45"/><circle cx="340.5" cy="241.1" r="2.45"/><circle cx="588.2" cy="406.1" r="2.45"/><circle cx="584.4" cy="449.0" r="2.45"/><circle cx="535.3" cy="340.6" r="2.45"/><circle cx="475.6" cy="286.2" r="2.45"/><circle cx="325.3" cy="194.3" r="2.45"/><circle cx="533.9" cy="355.4" r="2.45"/><circle cx="616.5" cy="524.9" r="2.45"/><circle cx="174.1" cy="224.4" r="2.45"/><circle cx="593.4" cy="447.7" r="2.45"/><circle cx="270.3" cy="228.2" r="2.45"/><circle cx="457.9" cy="349.2" r="2.45"/><circle cx="579.2" cy="515.9" r="2.45"/><circle cx="402.0" cy="289.8" r="2.45"/><circle cx="372.7" cy="224.1" r="2.45"/><circle cx="187.0" cy="229.7" r="2.45"/><circle cx="290.6" cy="252.8" r="2.45"/><circle cx="512.7" cy="353.8" r="2.45"/><circle cx="327.0" cy="255.8" r="2.45"/><circle cx="296.6" cy="216.8" r="2.45"/><circle cx="355.2" cy="288.4" r="2.45"/><circle cx="411.1" cy="308.3" r="2.45"/><circle cx="452.9" cy="273.6" r="2.45"/><circle cx="477.8" cy="300.6" r="2.45"/><circle cx="488.1" cy="327.8" r="2.45"/><circle cx="367.2" cy="260.1" r="2.45"/><circle cx="607.5" cy="527.5" r="2.45"/><circle cx="508.8" cy="322.7" r="2.45"/><circle cx="313.1" cy="190.9" r="2.45"/><circle cx="335.8" cy="288.6" r="2.45"/><circle cx="400.6" cy="237.3" r="2.45"/><circle cx="468.5" cy="310.9" r="2.45"/><circle cx="394.0" cy="294.4" r="2.45"/><circle cx="254.6" cy="257.6" r="2.45"/><circle cx="390.4" cy="285.2" r="2.45"/><circle cx="432.7" cy="247.7" r="2.45"/><circle cx="364.4" cy="267.1" r="2.45"/><circle cx="305.9" cy="221.6" r="2.45"/><circle cx="499.7" cy="338.3" r="2.45"/><circle cx="311.4" cy="231.7" r="2.45"/><circle cx="311.3" cy="290.4" r="2.45"/><circle cx="338.7" cy="259.8" r="2.45"/><circle cx="363.0" cy="265.6" r="2.45"/><circle cx="581.1" cy="590.0" r="2.45"/><circle cx="355.7" cy="274.9" r="2.45"/><circle cx="488.3" cy="304.1" r="2.45"/><circle cx="434.9" cy="311.6" r="2.45"/><circle cx="503.5" cy="374.7" r="2.45"/><circle cx="331.7" cy="268.4" r="2.45"/><circle cx="342.4" cy="253.8" r="2.45"/><circle cx="532.3" cy="376.0" r="2.45"/><circle cx="501.1" cy="309.9" r="2.45"/><circle cx="433.1" cy="323.3" r="2.45"/><circle cx="477.9" cy="277.2" r="2.45"/><circle cx="379.5" cy="264.4" r="2.45"/><circle cx="320.7" cy="241.0" r="2.45"/><circle cx="371.2" cy="220.3" r="2.45"/><circle cx="295.3" cy="238.2" r="2.45"/><circle cx="539.9" cy="367.3" r="2.45"/><circle cx="534.9" cy="391.8" r="2.45"/><circle cx="611.4" cy="543.0" r="2.45"/><circle cx="274.5" cy="247.2" r="2.45"/><circle cx="369.3" cy="275.0" r="2.45"/><circle cx="497.7" cy="299.7" r="2.45"/><circle cx="448.3" cy="322.1" r="2.45"/><circle cx="343.6" cy="289.5" r="2.45"/><circle cx="486.8" cy="285.2" r="2.45"/><circle cx="359.8" cy="280.5" r="2.45"/><circle cx="444.8" cy="316.4" r="2.45"/><circle cx="341.6" cy="263.2" r="2.45"/><circle cx="431.9" cy="330.0" r="2.45"/><circle cx="426.1" cy="244.7" r="2.45"/><circle cx="338.6" cy="224.2" r="2.45"/><circle cx="564.2" cy="405.2" r="2.45"/><circle cx="350.2" cy="236.2" r="2.45"/><circle cx="513.2" cy="307.2" r="2.45"/><circle cx="453.0" cy="268.8" r="2.45"/><circle cx="505.5" cy="327.6" r="2.45"/><circle cx="276.4" cy="228.8" r="2.45"/><circle cx="506.5" cy="338.5" r="2.45"/><circle cx="528.2" cy="349.1" r="2.45"/><circle cx="459.8" cy="334.2" r="2.45"/><circle cx="552.4" cy="366.1" r="2.45"/><circle cx="269.8" cy="219.1" r="2.45"/><circle cx="574.2" cy="394.9" r="2.45"/><circle cx="415.0" cy="304.3" r="2.45"/><circle cx="556.0" cy="452.9" r="2.45"/><circle cx="576.0" cy="372.7" r="2.45"/><circle cx="513.0" cy="365.3" r="2.45"/><circle cx="614.1" cy="620.1" r="2.45"/><circle cx="436.2" cy="257.3" r="2.45"/><circle cx="564.6" cy="561.5" r="2.45"/><circle cx="534.2" cy="463.2" r="2.45"/><circle cx="534.2" cy="470.9" r="2.45"/><circle cx="439.0" cy="321.9" r="2.45"/><circle cx="373.1" cy="256.8" r="2.45"/><circle cx="307.4" cy="242.5" r="2.45"/><circle cx="581.1" cy="561.5" r="2.45"/><circle cx="612.7" cy="552.0" r="2.45"/><circle cx="572.6" cy="364.8" r="2.45"/><circle cx="354.9" cy="285.3" r="2.45"/><circle cx="602.4" cy="528.8" r="2.45"/><circle cx="420.9" cy="288.9" r="2.45"/><circle cx="540.8" cy="324.3" r="2.45"/><circle cx="368.4" cy="281.0" r="2.45"/><circle cx="308.8" cy="223.2" r="2.45"/><circle cx="464.7" cy="287.3" r="2.45"/><circle cx="489.4" cy="250.2" r="2.45"/><circle cx="473.0" cy="294.9" r="2.45"/><circle cx="561.5" cy="367.1" r="2.45"/><circle cx="365.8" cy="272.6" r="2.45"/><circle cx="310.5" cy="222.4" r="2.45"/><circle cx="381.0" cy="244.3" r="2.45"/><circle cx="515.1" cy="288.0" r="2.45"/><circle cx="469.4" cy="282.8" r="2.45"/><circle cx="451.4" cy="335.1" r="2.45"/><circle cx="473.8" cy="378.9" r="2.45"/><circle cx="454.3" cy="314.7" r="2.45"/><circle cx="315.6" cy="186.2" r="2.45"/><circle cx="360.9" cy="245.8" r="2.45"/><circle cx="423.9" cy="229.6" r="2.45"/><circle cx="568.9" cy="472.2" r="2.45"/><circle cx="572.4" cy="391.8" r="2.45"/><circle cx="348.6" cy="257.6" r="2.45"/><circle cx="322.6" cy="235.4" r="2.45"/><circle cx="390.4" cy="208.9" r="2.45"/><circle cx="565.0" cy="557.1" r="2.45"/><circle cx="412.8" cy="278.6" r="2.45"/><circle cx="374.7" cy="226.7" r="2.45"/><circle cx="408.0" cy="287.5" r="2.45"/><circle cx="343.8" cy="247.0" r="2.45"/><circle cx="520.4" cy="343.8" r="2.45"/><circle cx="272.3" cy="229.5" r="2.45"/><circle cx="272.4" cy="235.8" r="2.45"/><circle cx="468.8" cy="266.6" r="2.45"/><circle cx="517.3" cy="342.7" r="2.45"/><circle cx="488.4" cy="383.0" r="2.45"/><circle cx="316.5" cy="229.3" r="2.45"/><circle cx="572.6" cy="380.6" r="2.45"/><circle cx="534.6" cy="296.5" r="2.45"/><circle cx="435.9" cy="238.8" r="2.45"/><circle cx="487.2" cy="352.5" r="2.45"/><circle cx="339.8" cy="257.1" r="2.45"/><circle cx="464.3" cy="266.7" r="2.45"/><circle cx="465.8" cy="218.2" r="2.45"/><circle cx="325.8" cy="244.4" r="2.45"/><circle cx="361.1" cy="214.1" r="2.45"/><circle cx="491.6" cy="291.5" r="2.45"/><circle cx="391.7" cy="257.7" r="2.45"/><circle cx="430.6" cy="261.9" r="2.45"/><circle cx="352.8" cy="267.9" r="2.45"/><circle cx="394.1" cy="214.0" r="2.45"/><circle cx="301.9" cy="221.9" r="2.45"/><circle cx="218.1" cy="226.5" r="2.45"/><circle cx="436.1" cy="279.8" r="2.45"/><circle cx="377.5" cy="254.9" r="2.45"/><circle cx="457.2" cy="338.3" r="2.45"/><circle cx="366.7" cy="249.1" r="2.45"/><circle cx="399.2" cy="250.9" r="2.45"/><circle cx="503.9" cy="338.6" r="2.45"/><circle cx="294.0" cy="219.1" r="2.45"/><circle cx="246.0" cy="187.9" r="2.45"/><circle cx="348.5" cy="240.5" r="2.45"/><circle cx="488.8" cy="341.4" r="2.45"/><circle cx="462.1" cy="349.3" r="2.45"/><circle cx="468.7" cy="344.6" r="2.45"/><circle cx="373.0" cy="240.0" r="2.45"/><circle cx="364.6" cy="271.1" r="2.45"/><circle cx="407.0" cy="293.7" r="2.45"/><circle cx="611.4" cy="465.1" r="2.45"/><circle cx="598.4" cy="652.4" r="2.45"/><circle cx="448.9" cy="327.2" r="2.45"/><circle cx="364.8" cy="289.9" r="2.45"/><circle cx="330.8" cy="319.9" r="2.45"/><circle cx="316.5" cy="233.4" r="2.45"/><circle cx="424.7" cy="257.3" r="2.45"/><circle cx="307.3" cy="245.6" r="2.45"/><circle cx="532.9" cy="384.5" r="2.45"/><circle cx="492.5" cy="339.5" r="2.45"/><circle cx="273.7" cy="235.3" r="2.45"/><circle cx="331.5" cy="274.8" r="2.45"/><circle cx="323.6" cy="241.1" r="2.45"/><circle cx="306.9" cy="254.2" r="2.45"/><circle cx="350.9" cy="218.7" r="2.45"/><circle cx="327.6" cy="326.3" r="2.45"/><circle cx="399.2" cy="299.4" r="2.45"/><circle cx="343.5" cy="289.0" r="2.45"/><circle cx="419.3" cy="237.6" r="2.45"/><circle cx="468.0" cy="326.6" r="2.45"/><circle cx="348.8" cy="262.2" r="2.45"/><circle cx="512.9" cy="392.1" r="2.45"/><circle cx="397.6" cy="234.3" r="2.45"/><circle cx="510.4" cy="335.9" r="2.45"/><circle cx="456.4" cy="288.5" r="2.45"/><circle cx="576.6" cy="553.3" r="2.45"/><circle cx="333.5" cy="218.0" r="2.45"/><circle cx="587.1" cy="596.1" r="2.45"/><circle cx="451.9" cy="325.7" r="2.45"/><circle cx="450.3" cy="242.7" r="2.45"/><circle cx="318.6" cy="255.5" r="2.45"/><circle cx="422.3" cy="286.4" r="2.45"/><circle cx="509.0" cy="346.6" r="2.45"/><circle cx="389.0" cy="288.2" r="2.45"/><circle cx="522.4" cy="343.2" r="2.45"/><circle cx="249.3" cy="221.2" r="2.45"/><circle cx="264.5" cy="240.0" r="2.45"/><circle cx="472.3" cy="309.5" r="2.45"/><circle cx="284.7" cy="273.7" r="2.45"/><circle cx="419.6" cy="244.6" r="2.45"/><circle cx="272.2" cy="192.5" r="2.45"/><circle cx="350.1" cy="243.4" r="2.45"/><circle cx="480.2" cy="297.5" r="2.45"/><circle cx="320.9" cy="254.3" r="2.45"/><circle cx="484.4" cy="305.9" r="2.45"/><circle cx="524.0" cy="406.9" r="2.45"/><circle cx="397.0" cy="295.7" r="2.45"/><circle cx="279.7" cy="228.2" r="2.45"/><circle cx="580.5" cy="535.2" r="2.45"/><circle cx="293.7" cy="247.2" r="2.45"/><circle cx="395.2" cy="387.6" r="2.45"/><circle cx="330.1" cy="216.1" r="2.45"/><circle cx="422.8" cy="279.1" r="2.45"/><circle cx="330.8" cy="308.1" r="2.45"/><circle cx="431.8" cy="288.3" r="2.45"/><circle cx="526.1" cy="353.4" r="2.45"/><circle cx="438.8" cy="318.9" r="2.45"/><circle cx="364.7" cy="290.9" r="2.45"/><circle cx="413.7" cy="227.4" r="2.45"/><circle cx="473.9" cy="307.4" r="2.45"/><circle cx="338.2" cy="274.5" r="2.45"/><circle cx="385.3" cy="238.3" r="2.45"/><circle cx="555.8" cy="392.2" r="2.45"/><circle cx="312.1" cy="256.8" r="2.45"/><circle cx="368.1" cy="264.9" r="2.45"/><circle cx="555.7" cy="395.6" r="2.45"/><circle cx="402.8" cy="258.0" r="2.45"/><circle cx="293.7" cy="251.8" r="2.45"/><circle cx="517.9" cy="425.7" r="2.45"/><circle cx="549.9" cy="368.1" r="2.45"/><circle cx="297.9" cy="260.7" r="2.45"/><circle cx="594.6" cy="460.6" r="2.45"/><circle cx="283.4" cy="231.9" r="2.45"/><circle cx="290.6" cy="220.4" r="2.45"/><circle cx="381.4" cy="250.2" r="2.45"/><circle cx="548.8" cy="432.7" r="2.45"/><circle cx="310.8" cy="245.5" r="2.45"/><circle cx="445.1" cy="238.8" r="2.45"/><circle cx="537.1" cy="418.8" r="2.45"/><circle cx="369.9" cy="244.0" r="2.45"/><circle cx="417.8" cy="268.7" r="2.45"/><circle cx="421.5" cy="315.6" r="2.45"/><circle cx="395.6" cy="290.3" r="2.45"/><circle cx="411.3" cy="327.2" r="2.45"/><circle cx="530.3" cy="454.2" r="2.45"/><circle cx="414.6" cy="285.9" r="2.45"/><circle cx="382.8" cy="233.8" r="2.45"/><circle cx="528.5" cy="416.2" r="2.45"/><circle cx="526.3" cy="327.1" r="2.45"/><circle cx="476.3" cy="357.1" r="2.45"/><circle cx="438.6" cy="239.6" r="2.45"/><circle cx="557.7" cy="390.0" r="2.45"/><circle cx="180.6" cy="234.0" r="2.45"/><circle cx="492.2" cy="352.7" r="2.45"/><circle cx="567.0" cy="382.5" r="2.45"/><circle cx="497.3" cy="294.5" r="2.45"/><circle cx="526.3" cy="333.2" r="2.45"/><circle cx="338.4" cy="222.9" r="2.45"/><circle cx="316.3" cy="211.4" r="2.45"/><circle cx="504.5" cy="269.9" r="2.45"/><circle cx="425.6" cy="266.7" r="2.45"/><circle cx="349.3" cy="206.3" r="2.45"/><circle cx="293.5" cy="232.7" r="2.45"/><circle cx="453.7" cy="335.0" r="2.45"/><circle cx="253.0" cy="225.5" r="2.45"/><circle cx="515.5" cy="387.4" r="2.45"/><circle cx="406.1" cy="281.0" r="2.45"/><circle cx="236.0" cy="187.9" r="2.45"/><circle cx="467.5" cy="264.8" r="2.45"/><circle cx="495.0" cy="400.8" r="2.45"/><circle cx="370.2" cy="281.0" r="2.45"/><circle cx="540.2" cy="423.9" r="2.45"/><circle cx="513.0" cy="364.2" r="2.45"/><circle cx="332.3" cy="210.7" r="2.45"/><circle cx="474.9" cy="366.5" r="2.45"/><circle cx="381.8" cy="262.0" r="2.45"/><circle cx="451.2" cy="270.3" r="2.45"/><circle cx="540.6" cy="418.7" r="2.45"/><circle cx="334.8" cy="240.3" r="2.45"/><circle cx="458.9" cy="431.2" r="2.45"/><circle cx="530.9" cy="351.7" r="2.45"/><circle cx="282.3" cy="217.3" r="2.45"/><circle cx="326.0" cy="251.3" r="2.45"/><circle cx="504.7" cy="305.0" r="2.45"/><circle cx="554.1" cy="438.7" r="2.45"/><circle cx="398.8" cy="249.7" r="2.45"/><circle cx="270.7" cy="253.3" r="2.45"/><circle cx="377.4" cy="248.1" r="2.45"/><circle cx="465.6" cy="256.9" r="2.45"/><circle cx="470.1" cy="246.3" r="2.45"/><circle cx="341.5" cy="331.7" r="2.45"/><circle cx="378.8" cy="262.4" r="2.45"/><circle cx="539.3" cy="473.5" r="2.45"/><circle cx="289.5" cy="239.5" r="2.45"/><circle cx="467.1" cy="268.1" r="2.45"/><circle cx="450.6" cy="332.8" r="2.45"/><circle cx="496.6" cy="353.0" r="2.45"/><circle cx="588.2" cy="480.5" r="2.45"/><circle cx="300.2" cy="269.1" r="2.45"/><circle cx="450.1" cy="269.9" r="2.45"/><circle cx="373.5" cy="225.3" r="2.45"/><circle cx="562.5" cy="513.4" r="2.45"/><circle cx="411.8" cy="236.2" r="2.45"/><circle cx="409.1" cy="222.5" r="2.45"/><circle cx="504.8" cy="307.5" r="2.45"/><circle cx="359.5" cy="231.3" r="2.45"/><circle cx="544.3" cy="372.8" r="2.45"/><circle cx="459.3" cy="223.6" r="2.45"/><circle cx="335.9" cy="280.4" r="2.45"/><circle cx="419.5" cy="298.5" r="2.45"/><circle cx="411.7" cy="361.5" r="2.45"/><circle cx="389.6" cy="265.6" r="2.45"/><circle cx="559.4" cy="389.0" r="2.45"/><circle cx="368.4" cy="207.3" r="2.45"/><circle cx="412.4" cy="276.8" r="2.45"/><circle cx="411.3" cy="255.1" r="2.45"/><circle cx="513.4" cy="374.6" r="2.45"/><circle cx="344.8" cy="269.0" r="2.45"/><circle cx="599.1" cy="633.6" r="2.45"/><circle cx="244.2" cy="216.2" r="2.45"/><circle cx="535.4" cy="487.6" r="2.45"/><circle cx="476.3" cy="288.4" r="2.45"/><circle cx="446.2" cy="303.5" r="2.45"/><circle cx="242.8" cy="222.2" r="2.45"/><circle cx="547.2" cy="337.7" r="2.45"/><circle cx="455.7" cy="294.5" r="2.45"/><circle cx="338.2" cy="249.0" r="2.45"/><circle cx="381.3" cy="299.5" r="2.45"/><circle cx="410.4" cy="715.1" r="2.45"/><circle cx="345.4" cy="334.9" r="2.45"/><circle cx="291.4" cy="230.2" r="2.45"/><circle cx="488.2" cy="774.4" r="2.45"/><circle cx="469.0" cy="258.5" r="2.45"/><circle cx="333.4" cy="197.3" r="2.45"/><circle cx="294.2" cy="259.8" r="2.45"/><circle cx="282.9" cy="228.1" r="2.45"/><circle cx="410.2" cy="233.7" r="2.45"/><circle cx="491.2" cy="334.6" r="2.45"/><circle cx="372.2" cy="236.3" r="2.45"/><circle cx="344.2" cy="265.2" r="2.45"/><circle cx="451.7" cy="277.5" r="2.45"/><circle cx="293.3" cy="233.6" r="2.45"/><circle cx="489.4" cy="334.6" r="2.45"/><circle cx="453.6" cy="256.1" r="2.45"/><circle cx="314.0" cy="229.6" r="2.45"/><circle cx="520.3" cy="351.3" r="2.45"/><circle cx="383.9" cy="266.5" r="2.45"/><circle cx="491.9" cy="303.0" r="2.45"/><circle cx="439.5" cy="327.7" r="2.45"/><circle cx="386.6" cy="221.2" r="2.45"/><circle cx="522.6" cy="446.4" r="2.45"/><circle cx="488.6" cy="321.2" r="2.45"/><circle cx="488.8" cy="332.4" r="2.45"/><circle cx="505.6" cy="376.6" r="2.45"/><circle cx="526.9" cy="360.9" r="2.45"/><circle cx="458.4" cy="340.1" r="2.45"/><circle cx="574.0" cy="405.6" r="2.45"/><circle cx="381.4" cy="204.0" r="2.45"/><circle cx="424.3" cy="290.4" r="2.45"/><circle cx="325.9" cy="193.7" r="2.45"/><circle cx="467.6" cy="274.4" r="2.45"/><circle cx="362.5" cy="265.8" r="2.45"/><circle cx="456.7" cy="239.0" r="2.45"/><circle cx="530.8" cy="322.3" r="2.45"/><circle cx="513.6" cy="390.4" r="2.45"/><circle cx="393.0" cy="379.7" r="2.45"/><circle cx="457.1" cy="337.2" r="2.45"/><circle cx="420.8" cy="321.3" r="2.45"/><circle cx="482.3" cy="290.4" r="2.45"/><circle cx="406.7" cy="311.1" r="2.45"/><circle cx="345.7" cy="282.5" r="2.45"/><circle cx="450.7" cy="231.3" r="2.45"/><circle cx="463.8" cy="264.0" r="2.45"/><circle cx="452.0" cy="337.3" r="2.45"/><circle cx="357.6" cy="289.2" r="2.45"/><circle cx="471.0" cy="294.2" r="2.45"/><circle cx="471.8" cy="347.8" r="2.45"/><circle cx="572.1" cy="586.3" r="2.45"/><circle cx="524.4" cy="352.8" r="2.45"/><circle cx="459.1" cy="241.1" r="2.45"/><circle cx="585.3" cy="391.9" r="2.45"/><circle cx="416.0" cy="252.4" r="2.45"/><circle cx="269.5" cy="188.4" r="2.45"/><circle cx="350.6" cy="217.2" r="2.45"/><circle cx="383.3" cy="294.1" r="2.45"/><circle cx="453.4" cy="292.5" r="2.45"/><circle cx="427.1" cy="272.4" r="2.45"/><circle cx="578.1" cy="587.0" r="2.45"/><circle cx="424.9" cy="246.9" r="2.45"/><circle cx="633.6" cy="587.8" r="2.45"/><circle cx="271.2" cy="248.3" r="2.45"/><circle cx="402.5" cy="280.7" r="2.45"/><circle cx="475.6" cy="302.1" r="2.45"/><circle cx="481.5" cy="333.1" r="2.45"/><circle cx="471.2" cy="333.7" r="2.45"/><circle cx="378.6" cy="204.2" r="2.45"/><circle cx="373.5" cy="222.7" r="2.45"/><circle cx="493.3" cy="374.2" r="2.45"/><circle cx="585.6" cy="561.5" r="2.45"/><circle cx="341.1" cy="285.5" r="2.45"/><circle cx="451.8" cy="298.8" r="2.45"/><circle cx="421.3" cy="256.0" r="2.45"/><circle cx="442.3" cy="314.8" r="2.45"/><circle cx="514.5" cy="341.3" r="2.45"/><circle cx="432.3" cy="301.0" r="2.45"/><circle cx="241.7" cy="228.7" r="2.45"/><circle cx="350.1" cy="289.8" r="2.45"/><circle cx="376.8" cy="290.5" r="2.45"/><circle cx="474.8" cy="284.6" r="2.45"/><circle cx="384.2" cy="231.7" r="2.45"/><circle cx="399.1" cy="294.4" r="2.45"/><circle cx="532.7" cy="336.4" r="2.45"/><circle cx="552.2" cy="500.5" r="2.45"/><circle cx="509.8" cy="280.3" r="2.45"/><circle cx="317.1" cy="248.9" r="2.45"/><circle cx="495.4" cy="359.2" r="2.45"/><circle cx="527.4" cy="348.1" r="2.45"/><circle cx="417.8" cy="340.1" r="2.45"/><circle cx="294.3" cy="319.9" r="2.45"/><circle cx="343.1" cy="204.7" r="2.45"/><circle cx="292.7" cy="212.7" r="2.45"/><circle cx="476.3" cy="373.5" r="2.45"/><circle cx="453.8" cy="299.3" r="2.45"/><circle cx="442.7" cy="334.3" r="2.45"/><circle cx="423.4" cy="268.6" r="2.45"/><circle cx="372.8" cy="272.8" r="2.45"/><circle cx="431.1" cy="317.1" r="2.45"/><circle cx="436.7" cy="286.5" r="2.45"/><circle cx="343.7" cy="227.4" r="2.45"/><circle cx="620.4" cy="554.5" r="2.45"/><circle cx="342.2" cy="242.1" r="2.45"/><circle cx="426.9" cy="262.7" r="2.45"/><circle cx="450.2" cy="299.5" r="2.45"/><circle cx="235.0" cy="239.7" r="2.45"/><circle cx="355.2" cy="190.0" r="2.45"/><circle cx="333.6" cy="237.6" r="2.45"/><circle cx="394.7" cy="254.7" r="2.45"/><circle cx="348.6" cy="256.3" r="2.45"/><circle cx="188.1" cy="235.1" r="2.45"/><circle cx="593.1" cy="633.6" r="2.45"/><circle cx="583.1" cy="509.5" r="2.45"/><circle cx="428.3" cy="298.0" r="2.45"/><circle cx="317.8" cy="226.5" r="2.45"/><circle cx="413.3" cy="247.2" r="2.45"/><circle cx="365.8" cy="282.3" r="2.45"/><circle cx="425.8" cy="263.2" r="2.45"/><circle cx="398.7" cy="285.1" r="2.45"/><circle cx="475.2" cy="354.4" r="2.45"/><circle cx="327.0" cy="204.5" r="2.45"/><circle cx="304.5" cy="211.6" r="2.45"/><circle cx="395.9" cy="338.8" r="2.45"/><circle cx="512.8" cy="368.1" r="2.45"/><circle cx="286.8" cy="187.3" r="2.45"/><circle cx="398.2" cy="242.6" r="2.45"/><circle cx="243.9" cy="275.9" r="2.45"/><circle cx="506.2" cy="322.7" r="2.45"/><circle cx="495.4" cy="340.1" r="2.45"/><circle cx="360.0" cy="242.7" r="2.45"/><circle cx="567.6" cy="496.6" r="2.45"/><circle cx="447.0" cy="300.8" r="2.45"/><circle cx="579.6" cy="635.9" r="2.45"/><circle cx="375.4" cy="218.2" r="2.45"/><circle cx="321.4" cy="242.9" r="2.45"/><circle cx="495.2" cy="298.0" r="2.45"/><circle cx="385.3" cy="359.7" r="2.45"/><circle cx="301.2" cy="237.1" r="2.45"/><circle cx="486.1" cy="382.5" r="2.45"/><circle cx="314.1" cy="257.0" r="2.45"/><circle cx="492.7" cy="332.4" r="2.45"/><circle cx="498.0" cy="327.4" r="2.45"/><circle cx="232.1" cy="211.5" r="2.45"/><circle cx="439.7" cy="264.0" r="2.45"/><circle cx="426.3" cy="241.3" r="2.45"/><circle cx="410.3" cy="252.4" r="2.45"/><circle cx="604.9" cy="514.6" r="2.45"/><circle cx="416.4" cy="252.5" r="2.45"/><circle cx="401.7" cy="254.0" r="2.45"/><circle cx="416.4" cy="214.9" r="2.45"/><circle cx="541.9" cy="446.4" r="2.45"/><circle cx="360.3" cy="270.1" r="2.45"/><circle cx="394.1" cy="211.4" r="2.45"/><circle cx="295.4" cy="301.6" r="2.45"/><circle cx="417.7" cy="308.5" r="2.45"/><circle cx="383.2" cy="230.5" r="2.45"/><circle cx="513.9" cy="314.2" r="2.45"/><circle cx="313.0" cy="223.7" r="2.45"/><circle cx="424.0" cy="297.7" r="2.45"/><circle cx="444.7" cy="277.0" r="2.45"/><circle cx="516.7" cy="349.4" r="2.45"/><circle cx="374.1" cy="314.4" r="2.45"/><circle cx="434.7" cy="281.2" r="2.45"/><circle cx="462.5" cy="316.2" r="2.45"/><circle cx="314.2" cy="206.6" r="2.45"/><circle cx="545.3" cy="392.1" r="2.45"/><circle cx="308.1" cy="240.1" r="2.45"/><circle cx="602.4" cy="497.9" r="2.45"/><circle cx="358.6" cy="284.1" r="2.45"/><circle cx="432.7" cy="265.2" r="2.45"/><circle cx="408.7" cy="283.3" r="2.45"/><circle cx="331.2" cy="220.1" r="2.45"/><circle cx="492.7" cy="280.9" r="2.45"/><circle cx="329.3" cy="256.1" r="2.45"/><circle cx="338.3" cy="257.6" r="2.45"/><circle cx="503.6" cy="371.6" r="2.45"/><circle cx="341.4" cy="247.9" r="2.45"/><circle cx="496.1" cy="313.1" r="2.45"/><circle cx="353.9" cy="269.1" r="2.45"/><circle cx="305.5" cy="225.8" r="2.45"/><circle cx="442.8" cy="307.0" r="2.45"/><circle cx="394.7" cy="288.1" r="2.45"/><circle cx="519.0" cy="340.6" r="2.45"/><circle cx="295.7" cy="251.2" r="2.45"/><circle cx="395.1" cy="296.5" r="2.45"/><circle cx="494.0" cy="280.0" r="2.45"/><circle cx="439.6" cy="280.4" r="2.45"/><circle cx="514.7" cy="293.7" r="2.45"/><circle cx="450.6" cy="272.2" r="2.45"/><circle cx="278.9" cy="252.7" r="2.45"/><circle cx="503.1" cy="407.1" r="2.45"/><circle cx="446.8" cy="286.6" r="2.45"/><circle cx="239.8" cy="215.7" r="2.45"/><circle cx="404.6" cy="304.6" r="2.45"/><circle cx="470.9" cy="327.8" r="2.45"/><circle cx="472.4" cy="307.8" r="2.45"/><circle cx="560.2" cy="381.1" r="2.45"/><circle cx="239.1" cy="233.9" r="2.45"/><circle cx="367.6" cy="276.8" r="2.45"/><circle cx="475.9" cy="370.4" r="2.45"/><circle cx="528.7" cy="296.0" r="2.45"/><circle cx="518.3" cy="349.6" r="2.45"/><circle cx="524.8" cy="330.0" r="2.45"/><circle cx="390.6" cy="273.6" r="2.45"/><circle cx="332.9" cy="271.1" r="2.45"/><circle cx="444.3" cy="307.7" r="2.45"/><circle cx="520.3" cy="311.4" r="2.45"/><circle cx="514.6" cy="410.3" r="2.45"/><circle cx="519.3" cy="345.6" r="2.45"/><circle cx="388.3" cy="253.2" r="2.45"/><circle cx="344.9" cy="238.9" r="2.45"/><circle cx="495.8" cy="360.6" r="2.45"/><circle cx="377.9" cy="271.4" r="2.45"/><circle cx="448.7" cy="296.8" r="2.45"/><circle cx="285.8" cy="237.4" r="2.45"/><circle cx="320.6" cy="246.7" r="2.45"/><circle cx="411.8" cy="252.0" r="2.45"/><circle cx="344.7" cy="327.4" r="2.45"/><circle cx="281.4" cy="226.6" r="2.45"/><circle cx="505.0" cy="303.1" r="2.45"/><circle cx="601.4" cy="639.6" r="2.45"/><circle cx="322.2" cy="232.5" r="2.45"/><circle cx="478.9" cy="282.9" r="2.45"/><circle cx="284.4" cy="207.7" r="2.45"/><circle cx="367.3" cy="188.9" r="2.45"/><circle cx="255.8" cy="179.9" r="2.45"/><circle cx="487.8" cy="329.3" r="2.45"/><circle cx="411.4" cy="253.6" r="2.45"/><circle cx="297.5" cy="222.4" r="2.45"/><circle cx="500.3" cy="347.7" r="2.45"/><circle cx="468.5" cy="362.3" r="2.45"/><circle cx="262.1" cy="257.6" r="2.45"/><circle cx="355.2" cy="238.5" r="2.45"/><circle cx="436.4" cy="259.5" r="2.45"/><circle cx="543.5" cy="408.0" r="2.45"/><circle cx="548.7" cy="439.2" r="2.45"/><circle cx="473.4" cy="331.2" r="2.45"/><circle cx="486.7" cy="248.1" r="2.45"/><circle cx="540.7" cy="384.3" r="2.45"/><circle cx="594.5" cy="388.7" r="2.45"/><circle cx="254.8" cy="234.6" r="2.45"/><circle cx="396.8" cy="288.7" r="2.45"/><circle cx="281.0" cy="256.7" r="2.45"/><circle cx="274.7" cy="233.2" r="2.45"/><circle cx="434.1" cy="249.5" r="2.45"/><circle cx="374.7" cy="225.2" r="2.45"/><circle cx="532.6" cy="413.1" r="2.45"/><circle cx="459.9" cy="284.9" r="2.45"/><circle cx="547.0" cy="442.6" r="2.45"/><circle cx="330.1" cy="258.2" r="2.45"/><circle cx="339.2" cy="283.0" r="2.45"/><circle cx="416.6" cy="280.8" r="2.45"/><circle cx="453.2" cy="316.9" r="2.45"/><circle cx="449.6" cy="239.5" r="2.45"/><circle cx="381.2" cy="295.1" r="2.45"/><circle cx="469.3" cy="309.0" r="2.45"/><circle cx="267.3" cy="243.7" r="2.45"/><circle cx="428.8" cy="316.7" r="2.45"/><circle cx="496.9" cy="323.4" r="2.45"/><circle cx="392.7" cy="285.0" r="2.45"/><circle cx="468.1" cy="272.9" r="2.45"/><circle cx="479.0" cy="286.9" r="2.45"/><circle cx="359.0" cy="251.5" r="2.45"/><circle cx="347.3" cy="215.3" r="2.45"/><circle cx="403.0" cy="253.2" r="2.45"/><circle cx="439.6" cy="301.2" r="2.45"/><circle cx="632.0" cy="550.7" r="2.45"/><circle cx="407.9" cy="291.7" r="2.45"/><circle cx="522.2" cy="304.5" r="2.45"/><circle cx="427.9" cy="224.8" r="2.45"/><circle cx="353.7" cy="213.7" r="2.45"/><circle cx="399.3" cy="266.9" r="2.45"/><circle cx="405.9" cy="234.8" r="2.45"/><circle cx="466.9" cy="359.1" r="2.45"/><circle cx="549.6" cy="456.7" r="2.45"/><circle cx="479.8" cy="277.9" r="2.45"/><circle cx="445.2" cy="303.8" r="2.45"/><circle cx="391.2" cy="287.6" r="2.45"/><circle cx="586.9" cy="442.6" r="2.45"/><circle cx="266.3" cy="199.1" r="2.45"/><circle cx="491.5" cy="222.5" r="2.45"/><circle cx="538.5" cy="364.5" r="2.45"/><circle cx="398.5" cy="576.1" r="2.45"/><circle cx="469.3" cy="343.9" r="2.45"/><circle cx="291.0" cy="234.4" r="2.45"/><circle cx="461.9" cy="261.1" r="2.45"/><circle cx="371.6" cy="259.3" r="2.45"/><circle cx="388.2" cy="239.4" r="2.45"/><circle cx="476.8" cy="256.2" r="2.45"/><circle cx="365.9" cy="288.5" r="2.45"/><circle cx="407.6" cy="319.9" r="2.45"/><circle cx="399.1" cy="286.2" r="2.45"/><circle cx="531.3" cy="358.5" r="2.45"/><circle cx="441.5" cy="264.3" r="2.45"/><circle cx="361.2" cy="243.5" r="2.45"/><circle cx="373.4" cy="244.9" r="2.45"/><circle cx="308.6" cy="255.1" r="2.45"/><circle cx="460.2" cy="337.1" r="2.45"/><circle cx="294.1" cy="265.6" r="2.45"/><circle cx="340.1" cy="264.6" r="2.45"/><circle cx="467.7" cy="273.3" r="2.45"/><circle cx="382.6" cy="249.3" r="2.45"/><circle cx="323.3" cy="319.9" r="2.45"/><circle cx="287.7" cy="209.5" r="2.45"/><circle cx="473.0" cy="342.0" r="2.45"/><circle cx="462.7" cy="308.7" r="2.45"/><circle cx="504.3" cy="339.1" r="2.45"/><circle cx="402.9" cy="304.1" r="2.45"/><circle cx="370.9" cy="210.6" r="2.45"/><circle cx="506.4" cy="335.1" r="2.45"/><circle cx="373.3" cy="230.7" r="2.45"/><circle cx="480.1" cy="348.7" r="2.45"/><circle cx="428.2" cy="363.2" r="2.45"/><circle cx="307.2" cy="200.4" r="2.45"/><circle cx="279.5" cy="234.0" r="2.45"/><circle cx="464.1" cy="255.7" r="2.45"/><circle cx="497.0" cy="342.0" r="2.45"/><circle cx="475.0" cy="357.9" r="2.45"/><circle cx="435.3" cy="250.9" r="2.45"/><circle cx="340.6" cy="223.5" r="2.45"/><circle cx="425.9" cy="313.4" r="2.45"/><circle cx="597.2" cy="539.1" r="2.45"/><circle cx="364.0" cy="263.5" r="2.45"/><circle cx="233.4" cy="231.1" r="2.45"/><circle cx="369.4" cy="239.0" r="2.45"/><circle cx="553.0" cy="370.9" r="2.45"/><circle cx="537.8" cy="396.5" r="2.45"/><circle cx="444.9" cy="260.5" r="2.45"/><circle cx="398.9" cy="204.8" r="2.45"/><circle cx="313.1" cy="193.8" r="2.45"/><circle cx="378.0" cy="270.1" r="2.45"/><circle cx="517.2" cy="302.0" r="2.45"/><circle cx="483.4" cy="318.4" r="2.45"/><circle cx="446.7" cy="282.4" r="2.45"/><circle cx="371.1" cy="215.7" r="2.45"/><circle cx="513.1" cy="309.6" r="2.45"/><circle cx="368.2" cy="248.7" r="2.45"/><circle cx="451.5" cy="319.2" r="2.45"/><circle cx="585.0" cy="423.8" r="2.45"/><circle cx="302.2" cy="225.4" r="2.45"/><circle cx="592.1" cy="494.1" r="2.45"/><circle cx="503.1" cy="385.7" r="2.45"/><circle cx="371.0" cy="301.7" r="2.45"/><circle cx="480.6" cy="260.5" r="2.45"/><circle cx="320.3" cy="217.1" r="2.45"/><circle cx="404.7" cy="296.8" r="2.45"/><circle cx="543.3" cy="364.5" r="2.45"/><circle cx="492.1" cy="367.5" r="2.45"/><circle cx="389.0" cy="265.2" r="2.45"/><circle cx="534.7" cy="428.9" r="2.45"/><circle cx="582.6" cy="627.6" r="2.45"/><circle cx="515.8" cy="409.0" r="2.45"/><circle cx="383.5" cy="236.8" r="2.45"/><circle cx="489.8" cy="257.6" r="2.45"/><circle cx="554.2" cy="417.1" r="2.45"/><circle cx="450.5" cy="284.8" r="2.45"/><circle cx="341.3" cy="255.8" r="2.45"/><circle cx="532.6" cy="399.3" r="2.45"/><circle cx="520.0" cy="386.3" r="2.45"/><circle cx="314.6" cy="382.4" r="2.45"/><circle cx="455.1" cy="313.0" r="2.45"/><circle cx="282.3" cy="211.6" r="2.45"/><circle cx="336.8" cy="318.8" r="2.45"/><circle cx="390.3" cy="224.3" r="2.45"/><circle cx="440.4" cy="311.2" r="2.45"/><circle cx="407.2" cy="276.6" r="2.45"/><circle cx="256.8" cy="251.2" r="2.45"/><circle cx="275.9" cy="232.8" r="2.45"/><circle cx="497.8" cy="330.9" r="2.45"/><circle cx="234.5" cy="245.1" r="2.45"/><circle cx="421.9" cy="272.0" r="2.45"/><circle cx="385.6" cy="269.9" r="2.45"/><circle cx="324.7" cy="244.5" r="2.45"/><circle cx="534.5" cy="377.3" r="2.45"/><circle cx="490.5" cy="311.2" r="2.45"/><circle cx="597.2" cy="447.7" r="2.45"/><circle cx="457.3" cy="272.7" r="2.45"/><circle cx="500.2" cy="319.2" r="2.45"/><circle cx="386.8" cy="306.5" r="2.45"/><circle cx="508.1" cy="282.3" r="2.45"/><circle cx="472.0" cy="337.7" r="2.45"/><circle cx="408.7" cy="275.2" r="2.45"/><circle cx="454.0" cy="258.9" r="2.45"/><circle cx="420.4" cy="289.7" r="2.45"/><circle cx="465.4" cy="311.9" r="2.45"/><circle cx="289.0" cy="297.3" r="2.45"/><circle cx="593.1" cy="579.5" r="2.45"/><circle cx="519.2" cy="339.0" r="2.45"/><circle cx="444.9" cy="324.6" r="2.45"/><circle cx="439.9" cy="306.4" r="2.45"/><circle cx="376.1" cy="235.3" r="2.45"/><circle cx="470.7" cy="268.1" r="2.45"/><circle cx="469.1" cy="296.8" r="2.45"/><circle cx="305.3" cy="239.1" r="2.45"/><circle cx="321.9" cy="275.9" r="2.45"/><circle cx="455.7" cy="262.2" r="2.45"/><circle cx="570.9" cy="430.0" r="2.45"/><circle cx="277.9" cy="258.9" r="2.45"/><circle cx="513.2" cy="329.9" r="2.45"/><circle cx="620.1" cy="566.0" r="2.45"/><circle cx="608.8" cy="496.6" r="2.45"/><circle cx="355.9" cy="223.0" r="2.45"/><circle cx="428.2" cy="385.5" r="2.45"/><circle cx="423.3" cy="257.4" r="2.45"/><circle cx="398.8" cy="306.0" r="2.45"/><circle cx="514.0" cy="371.5" r="2.45"/><circle cx="370.4" cy="265.8" r="2.45"/><circle cx="387.3" cy="227.9" r="2.45"/><circle cx="300.5" cy="246.3" r="2.45"/><circle cx="356.7" cy="265.4" r="2.45"/><circle cx="336.3" cy="278.2" r="2.45"/><circle cx="491.1" cy="293.9" r="2.45"/><circle cx="368.1" cy="252.1" r="2.45"/><circle cx="338.4" cy="289.8" r="2.45"/><circle cx="498.9" cy="353.1" r="2.45"/><circle cx="397.8" cy="262.2" r="2.45"/><circle cx="433.5" cy="291.9" r="2.45"/><circle cx="460.9" cy="316.9" r="2.45"/><circle cx="368.4" cy="223.8" r="2.45"/><circle cx="369.4" cy="278.7" r="2.45"/><circle cx="569.5" cy="425.4" r="2.45"/><circle cx="590.1" cy="417.9" r="2.45"/><circle cx="436.1" cy="318.5" r="2.45"/><circle cx="265.6" cy="188.4" r="2.45"/><circle cx="497.3" cy="264.7" r="2.45"/><circle cx="332.7" cy="236.0" r="2.45"/><circle cx="449.1" cy="300.9" r="2.45"/><circle cx="335.8" cy="246.5" r="2.45"/><circle cx="501.0" cy="290.6" r="2.45"/><circle cx="589.7" cy="435.5" r="2.45"/><circle cx="446.1" cy="303.7" r="2.45"/><circle cx="264.4" cy="227.7" r="2.45"/><circle cx="360.1" cy="264.7" r="2.45"/><circle cx="426.9" cy="259.0" r="2.45"/><circle cx="435.9" cy="278.2" r="2.45"/><circle cx="512.4" cy="341.7" r="2.45"/><circle cx="419.4" cy="269.1" r="2.45"/><circle cx="395.5" cy="240.6" r="2.45"/><circle cx="550.9" cy="368.0" r="2.45"/><circle cx="423.1" cy="244.5" r="2.45"/><circle cx="372.7" cy="249.9" r="2.45"/><circle cx="581.1" cy="578.0" r="2.45"/><circle cx="334.1" cy="246.3" r="2.45"/><circle cx="534.5" cy="431.2" r="2.45"/><circle cx="408.6" cy="295.9" r="2.45"/><circle cx="357.1" cy="237.7" r="2.45"/><circle cx="421.1" cy="265.1" r="2.45"/><circle cx="566.3" cy="530.1" r="2.45"/><circle cx="351.3" cy="239.4" r="2.45"/><circle cx="525.0" cy="323.3" r="2.45"/><circle cx="546.5" cy="426.8" r="2.45"/><circle cx="218.1" cy="216.9" r="2.45"/><circle cx="370.5" cy="223.9" r="2.45"/><circle cx="499.1" cy="328.5" r="2.45"/><circle cx="430.3" cy="275.0" r="2.45"/><circle cx="455.6" cy="288.1" r="2.45"/><circle cx="363.1" cy="281.5" r="2.45"/><circle cx="497.7" cy="331.9" r="2.45"/><circle cx="427.7" cy="329.0" r="2.45"/><circle cx="394.2" cy="258.1" r="2.45"/><circle cx="473.8" cy="305.8" r="2.45"/><circle cx="311.5" cy="295.2" r="2.45"/><circle cx="273.1" cy="252.5" r="2.45"/><circle cx="468.4" cy="304.4" r="2.45"/><circle cx="405.0" cy="304.5" r="2.45"/><circle cx="480.9" cy="343.2" r="2.45"/><circle cx="379.7" cy="257.7" r="2.45"/><circle cx="504.5" cy="364.3" r="2.45"/><circle cx="419.3" cy="249.1" r="2.45"/><circle cx="487.9" cy="311.3" r="2.45"/><circle cx="510.5" cy="309.8" r="2.45"/><circle cx="461.8" cy="269.2" r="2.45"/><circle cx="304.4" cy="217.7" r="2.45"/><circle cx="513.6" cy="476.3" r="2.45"/><circle cx="490.4" cy="298.3" r="2.45"/><circle cx="586.8" cy="680.6" r="2.45"/><circle cx="576.6" cy="470.9" r="2.45"/><circle cx="480.6" cy="276.1" r="2.45"/><circle cx="346.6" cy="227.6" r="2.45"/><circle cx="395.3" cy="217.7" r="2.45"/><circle cx="421.1" cy="251.0" r="2.45"/><circle cx="473.8" cy="321.5" r="2.45"/><circle cx="549.1" cy="409.0" r="2.45"/><circle cx="459.3" cy="263.5" r="2.45"/><circle cx="466.4" cy="249.0" r="2.45"/><circle cx="286.2" cy="227.9" r="2.45"/><circle cx="469.3" cy="279.7" r="2.45"/><circle cx="380.6" cy="228.6" r="2.45"/><circle cx="543.8" cy="426.8" r="2.45"/><circle cx="297.5" cy="288.8" r="2.45"/><circle cx="356.2" cy="232.2" r="2.45"/><circle cx="418.6" cy="288.0" r="2.45"/><circle cx="529.0" cy="394.6" r="2.45"/><circle cx="371.6" cy="218.1" r="2.45"/><circle cx="491.6" cy="348.7" r="2.45"/><circle cx="320.0" cy="247.9" r="2.45"/><circle cx="498.2" cy="282.8" r="2.45"/><circle cx="512.5" cy="395.0" r="2.45"/><circle cx="508.9" cy="394.2" r="2.45"/><circle cx="359.4" cy="225.8" r="2.45"/><circle cx="422.8" cy="313.7" r="2.45"/><circle cx="351.8" cy="211.3" r="2.45"/><circle cx="308.4" cy="235.8" r="2.45"/><circle cx="418.5" cy="225.6" r="2.45"/><circle cx="402.4" cy="217.5" r="2.45"/><circle cx="378.8" cy="224.8" r="2.45"/><circle cx="394.7" cy="295.7" r="2.45"/><circle cx="355.5" cy="300.6" r="2.45"/><circle cx="419.7" cy="239.1" r="2.45"/><circle cx="313.1" cy="212.8" r="2.45"/><circle cx="441.7" cy="312.8" r="2.45"/><circle cx="546.3" cy="349.7" r="2.45"/><circle cx="534.8" cy="415.7" r="2.45"/><circle cx="531.0" cy="432.4" r="2.45"/><circle cx="556.7" cy="430.8" r="2.45"/><circle cx="333.4" cy="349.3" r="2.45"/><circle cx="436.8" cy="225.9" r="2.45"/><circle cx="485.2" cy="308.0" r="2.45"/><circle cx="588.6" cy="611.1" r="2.45"/><circle cx="418.5" cy="300.9" r="2.45"/><circle cx="466.1" cy="241.3" r="2.45"/><circle cx="423.3" cy="248.9" r="2.45"/><circle cx="290.7" cy="248.1" r="2.45"/><circle cx="343.1" cy="227.0" r="2.45"/><circle cx="491.5" cy="353.7" r="2.45"/><circle cx="496.3" cy="276.1" r="2.45"/><circle cx="588.1" cy="405.1" r="2.45"/><circle cx="418.5" cy="298.4" r="2.45"/><circle cx="278.7" cy="209.3" r="2.45"/><circle cx="421.2" cy="286.1" r="2.45"/><circle cx="334.5" cy="229.1" r="2.45"/><circle cx="328.7" cy="250.4" r="2.45"/><circle cx="425.0" cy="254.9" r="2.45"/><circle cx="328.5" cy="275.9" r="2.45"/><circle cx="553.3" cy="436.9" r="2.45"/><circle cx="378.1" cy="231.2" r="2.45"/><circle cx="567.6" cy="459.3" r="2.45"/><circle cx="437.9" cy="292.7" r="2.45"/><circle cx="459.4" cy="288.1" r="2.45"/><circle cx="560.3" cy="432.3" r="2.45"/><circle cx="472.6" cy="347.9" r="2.45"/><circle cx="382.5" cy="262.0" r="2.45"/><circle cx="397.4" cy="304.1" r="2.45"/><circle cx="319.6" cy="271.2" r="2.45"/><circle cx="464.8" cy="255.5" r="2.45"/><circle cx="335.9" cy="206.1" r="2.45"/><circle cx="266.3" cy="242.3" r="2.45"/><circle cx="513.1" cy="298.0" r="2.45"/><circle cx="455.8" cy="286.6" r="2.45"/><circle cx="350.4" cy="283.2" r="2.45"/><circle cx="284.1" cy="249.1" r="2.45"/><circle cx="612.7" cy="514.6" r="2.45"/><circle cx="317.3" cy="217.1" r="2.45"/><circle cx="460.8" cy="336.2" r="2.45"/><circle cx="471.8" cy="353.3" r="2.45"/><circle cx="463.2" cy="350.1" r="2.45"/><circle cx="501.4" cy="303.1" r="2.45"/><circle cx="377.7" cy="222.4" r="2.45"/><circle cx="201.0" cy="239.4" r="2.45"/><circle cx="443.9" cy="318.0" r="2.45"/><circle cx="348.3" cy="257.0" r="2.45"/><circle cx="624.6" cy="602.8" r="2.45"/><circle cx="298.3" cy="263.0" r="2.45"/><circle cx="501.7" cy="271.9" r="2.45"/><circle cx="456.6" cy="348.0" r="2.45"/><circle cx="354.6" cy="249.2" r="2.45"/><circle cx="266.8" cy="226.9" r="2.45"/><circle cx="456.7" cy="341.7" r="2.45"/><circle cx="453.4" cy="623.7" r="2.45"/><circle cx="417.1" cy="304.3" r="2.45"/><circle cx="542.6" cy="372.6" r="2.45"/><circle cx="300.0" cy="235.8" r="2.45"/><circle cx="546.6" cy="399.7" r="2.45"/><circle cx="387.9" cy="303.7" r="2.45"/><circle cx="464.9" cy="354.2" r="2.45"/><circle cx="507.0" cy="394.4" r="2.45"/><circle cx="490.4" cy="350.2" r="2.45"/><circle cx="446.8" cy="250.6" r="2.45"/><circle cx="480.2" cy="330.8" r="2.45"/><circle cx="433.7" cy="288.7" r="2.45"/><circle cx="461.4" cy="258.1" r="2.45"/><circle cx="310.7" cy="271.1" r="2.45"/><circle cx="502.9" cy="352.8" r="2.45"/><circle cx="497.5" cy="348.4" r="2.45"/><circle cx="445.8" cy="255.6" r="2.45"/><circle cx="502.4" cy="342.5" r="2.45"/><circle cx="373.5" cy="220.0" r="2.45"/><circle cx="545.7" cy="450.3" r="2.45"/><circle cx="482.2" cy="335.9" r="2.45"/><circle cx="521.8" cy="349.0" r="2.45"/><circle cx="515.4" cy="347.0" r="2.45"/><circle cx="537.7" cy="395.6" r="2.45"/><circle cx="306.6" cy="229.0" r="2.45"/><circle cx="432.1" cy="411.9" r="2.45"/><circle cx="345.0" cy="240.0" r="2.45"/><circle cx="311.6" cy="229.5" r="2.45"/><circle cx="348.5" cy="212.5" r="2.45"/><circle cx="534.6" cy="301.6" r="2.45"/><circle cx="392.1" cy="269.8" r="2.45"/><circle cx="374.7" cy="226.0" r="2.45"/><circle cx="515.0" cy="308.5" r="2.45"/><circle cx="469.1" cy="331.5" r="2.45"/><circle cx="561.1" cy="417.6" r="2.45"/><circle cx="490.0" cy="263.7" r="2.45"/><circle cx="340.7" cy="238.1" r="2.45"/><circle cx="494.7" cy="368.1" r="2.45"/><circle cx="295.6" cy="231.5" r="2.45"/><circle cx="495.3" cy="402.3" r="2.45"/><circle cx="471.1" cy="335.0" r="2.45"/><circle cx="436.9" cy="240.5" r="2.45"/><circle cx="231.7" cy="302.7" r="2.45"/><circle cx="326.0" cy="229.1" r="2.45"/><circle cx="372.6" cy="262.1" r="2.45"/><circle cx="431.7" cy="327.2" r="2.45"/><circle cx="488.6" cy="263.6" r="2.45"/><circle cx="426.3" cy="220.4" r="2.45"/><circle cx="396.6" cy="263.1" r="2.45"/><circle cx="545.7" cy="546.2" r="2.45"/><circle cx="193.5" cy="257.6" r="2.45"/><circle cx="435.4" cy="293.6" r="2.45"/><circle cx="323.3" cy="245.6" r="2.45"/><circle cx="465.1" cy="291.7" r="2.45"/><circle cx="473.8" cy="316.6" r="2.45"/><circle cx="536.7" cy="369.1" r="2.45"/><circle cx="390.0" cy="245.0" r="2.45"/><circle cx="514.1" cy="555.8" r="2.45"/><circle cx="211.7" cy="270.5" r="2.45"/><circle cx="480.3" cy="328.2" r="2.45"/><circle cx="327.1" cy="282.8" r="2.45"/><circle cx="317.1" cy="210.5" r="2.45"/><circle cx="359.9" cy="243.9" r="2.45"/><circle cx="301.2" cy="237.7" r="2.45"/><circle cx="446.4" cy="309.7" r="2.45"/><circle cx="504.3" cy="364.2" r="2.45"/><circle cx="459.6" cy="240.1" r="2.45"/><circle cx="504.6" cy="297.0" r="2.45"/><circle cx="397.6" cy="233.6" r="2.45"/><circle cx="543.6" cy="412.5" r="2.45"/><circle cx="302.0" cy="268.2" r="2.45"/><circle cx="527.1" cy="304.6" r="2.45"/><circle cx="314.0" cy="223.7" r="2.45"/><circle cx="386.2" cy="264.9" r="2.45"/><circle cx="415.8" cy="250.6" r="2.45"/><circle cx="349.2" cy="236.5" r="2.45"/><circle cx="492.9" cy="343.9" r="2.45"/><circle cx="214.9" cy="238.3" r="2.45"/><circle cx="343.0" cy="265.3" r="2.45"/><circle cx="375.1" cy="248.2" r="2.45"/><circle cx="612.6" cy="605.1" r="2.45"/><circle cx="422.7" cy="320.4" r="2.45"/><circle cx="534.4" cy="366.2" r="2.45"/><circle cx="412.0" cy="252.3" r="2.45"/><circle cx="528.6" cy="312.7" r="2.45"/><circle cx="381.4" cy="231.2" r="2.45"/><circle cx="485.6" cy="307.9" r="2.45"/><circle cx="449.7" cy="312.5" r="2.45"/><circle cx="368.8" cy="239.5" r="2.45"/><circle cx="294.4" cy="241.3" r="2.45"/><circle cx="304.0" cy="212.5" r="2.45"/><circle cx="544.9" cy="381.6" r="2.45"/><circle cx="400.7" cy="237.5" r="2.45"/><circle cx="513.6" cy="311.5" r="2.45"/><circle cx="420.0" cy="225.0" r="2.45"/><circle cx="396.8" cy="257.0" r="2.45"/><circle cx="231.7" cy="227.0" r="2.45"/><circle cx="385.0" cy="243.9" r="2.45"/><circle cx="411.8" cy="287.2" r="2.45"/><circle cx="409.6" cy="280.8" r="2.45"/><circle cx="294.7" cy="191.6" r="2.45"/><circle cx="356.7" cy="256.6" r="2.45"/><circle cx="510.4" cy="386.7" r="2.45"/><circle cx="494.2" cy="272.0" r="2.45"/><circle cx="432.1" cy="261.7" r="2.45"/><circle cx="425.0" cy="324.9" r="2.45"/><circle cx="314.3" cy="193.0" r="2.45"/><circle cx="377.0" cy="256.7" r="2.45"/><circle cx="494.1" cy="336.2" r="2.45"/><circle cx="469.0" cy="300.3" r="2.45"/><circle cx="464.9" cy="309.6" r="2.45"/><circle cx="472.3" cy="258.6" r="2.45"/><circle cx="451.5" cy="332.0" r="2.45"/><circle cx="487.4" cy="296.7" r="2.45"/><circle cx="456.1" cy="243.2" r="2.45"/><circle cx="520.4" cy="329.7" r="2.45"/><circle cx="528.4" cy="309.2" r="2.45"/><circle cx="535.2" cy="359.7" r="2.45"/><circle cx="191.7" cy="177.6" r="2.45"/><circle cx="362.3" cy="235.0" r="2.45"/><circle cx="554.7" cy="504.4" r="2.45"/><circle cx="414.7" cy="250.9" r="2.45"/><circle cx="418.7" cy="300.8" r="2.45"/><circle cx="320.8" cy="289.8" r="2.45"/><circle cx="319.0" cy="296.3" r="2.45"/><circle cx="270.4" cy="205.3" r="2.45"/><circle cx="391.5" cy="257.4" r="2.45"/><circle cx="285.0" cy="202.4" r="2.45"/><circle cx="547.5" cy="435.4" r="2.45"/><circle cx="364.0" cy="234.1" r="2.45"/><circle cx="477.7" cy="305.8" r="2.45"/><circle cx="197.8" cy="173.3" r="2.45"/><circle cx="596.1" cy="586.3" r="2.45"/><circle cx="361.5" cy="249.4" r="2.45"/><circle cx="311.3" cy="216.8" r="2.45"/><circle cx="365.2" cy="272.2" r="2.45"/><circle cx="242.8" cy="244.8" r="2.45"/><circle cx="367.3" cy="257.6" r="2.45"/><circle cx="506.5" cy="288.1" r="2.45"/><circle cx="429.9" cy="289.0" r="2.45"/><circle cx="469.7" cy="376.9" r="2.45"/><circle cx="552.2" cy="446.4" r="2.45"/><circle cx="461.9" cy="262.4" r="2.45"/><circle cx="414.6" cy="249.2" r="2.45"/><circle cx="485.2" cy="360.4" r="2.45"/><circle cx="575.1" cy="562.3" r="2.45"/><circle cx="382.1" cy="238.1" r="2.45"/><circle cx="433.2" cy="269.3" r="2.45"/><circle cx="558.5" cy="392.8" r="2.45"/><circle cx="404.4" cy="264.2" r="2.45"/><circle cx="487.1" cy="359.4" r="2.45"/><circle cx="559.9" cy="481.2" r="2.45"/><circle cx="328.2" cy="233.1" r="2.45"/><circle cx="592.1" cy="555.8" r="2.45"/><circle cx="299.7" cy="225.5" r="2.45"/><circle cx="505.6" cy="332.1" r="2.45"/><circle cx="438.1" cy="237.6" r="2.45"/><circle cx="256.4" cy="221.3" r="2.45"/><circle cx="476.1" cy="249.7" r="2.45"/><circle cx="399.7" cy="209.5" r="2.45"/><circle cx="454.6" cy="313.0" r="2.45"/><circle cx="521.8" cy="351.0" r="2.45"/><circle cx="303.8" cy="250.3" r="2.45"/><circle cx="492.3" cy="371.8" r="2.45"/><circle cx="472.4" cy="369.4" r="2.45"/><circle cx="546.8" cy="370.8" r="2.45"/><circle cx="398.2" cy="250.9" r="2.45"/><circle cx="350.6" cy="273.8" r="2.45"/><circle cx="446.3" cy="260.6" r="2.45"/><circle cx="416.5" cy="312.3" r="2.45"/><circle cx="494.4" cy="241.6" r="2.45"/><circle cx="324.3" cy="205.2" r="2.45"/><circle cx="487.7" cy="259.2" r="2.45"/><circle cx="498.1" cy="336.8" r="2.45"/><circle cx="440.2" cy="311.3" r="2.45"/><circle cx="339.4" cy="211.2" r="2.45"/><circle cx="424.4" cy="316.3" r="2.45"/><circle cx="326.4" cy="225.3" r="2.45"/><circle cx="355.2" cy="226.9" r="2.45"/><circle cx="446.0" cy="316.7" r="2.45"/><circle cx="246.0" cy="213.6" r="2.45"/><circle cx="577.9" cy="524.9" r="2.45"/><circle cx="396.4" cy="239.1" r="2.45"/><circle cx="290.9" cy="251.5" r="2.45"/><circle cx="257.6" cy="216.9" r="2.45"/><circle cx="362.3" cy="247.4" r="2.45"/><circle cx="527.3" cy="419.7" r="2.45"/><circle cx="327.4" cy="260.8" r="2.45"/><circle cx="563.6" cy="386.8" r="2.45"/><circle cx="498.7" cy="335.6" r="2.45"/><circle cx="518.3" cy="337.8" r="2.45"/><circle cx="227.4" cy="205.1" r="2.45"/><circle cx="359.3" cy="252.3" r="2.45"/><circle cx="388.9" cy="218.1" r="2.45"/><circle cx="396.7" cy="259.0" r="2.45"/><circle cx="436.8" cy="320.2" r="2.45"/><circle cx="353.6" cy="284.1" r="2.45"/><circle cx="405.0" cy="302.9" r="2.45"/><circle cx="501.5" cy="290.4" r="2.45"/><circle cx="431.5" cy="256.7" r="2.45"/><circle cx="346.0" cy="224.7" r="2.45"/><circle cx="508.4" cy="334.0" r="2.45"/><circle cx="309.3" cy="299.5" r="2.45"/><circle cx="599.8" cy="454.2" r="2.45"/><circle cx="433.9" cy="258.6" r="2.45"/><circle cx="574.3" cy="687.7" r="2.45"/><circle cx="451.1" cy="272.8" r="2.45"/><circle cx="445.2" cy="251.4" r="2.45"/><circle cx="339.0" cy="244.8" r="2.45"/><circle cx="323.9" cy="190.6" r="2.45"/><circle cx="211.7" cy="233.0" r="2.45"/><circle cx="379.0" cy="250.1" r="2.45"/><circle cx="453.1" cy="307.5" r="2.45"/><circle cx="413.6" cy="240.7" r="2.45"/><circle cx="391.5" cy="251.3" r="2.45"/><circle cx="390.9" cy="223.8" r="2.45"/><circle cx="535.0" cy="376.6" r="2.45"/><circle cx="517.7" cy="312.8" r="2.45"/><circle cx="456.2" cy="317.4" r="2.45"/><circle cx="395.8" cy="303.5" r="2.45"/><circle cx="460.1" cy="350.4" r="2.45"/><circle cx="472.6" cy="264.9" r="2.45"/><circle cx="264.3" cy="242.6" r="2.45"/><circle cx="441.5" cy="283.8" r="2.45"/><circle cx="481.4" cy="424.3" r="2.45"/><circle cx="589.5" cy="509.5" r="2.45"/><circle cx="398.0" cy="238.5" r="2.45"/><circle cx="413.8" cy="259.2" r="2.45"/><circle cx="511.0" cy="352.2" r="2.45"/><circle cx="495.4" cy="233.3" r="2.45"/><circle cx="481.5" cy="233.3" r="2.45"/><circle cx="475.8" cy="332.2" r="2.45"/><circle cx="495.4" cy="310.4" r="2.45"/><circle cx="480.1" cy="349.9" r="2.45"/><circle cx="529.4" cy="387.7" r="2.45"/><circle cx="440.4" cy="314.8" r="2.45"/><circle cx="416.8" cy="324.0" r="2.45"/><circle cx="490.5" cy="349.0" r="2.45"/><circle cx="275.0" cy="318.8" r="2.45"/><circle cx="384.6" cy="232.8" r="2.45"/><circle cx="384.2" cy="208.9" r="2.45"/><circle cx="469.6" cy="310.3" r="2.45"/><circle cx="436.5" cy="294.1" r="2.45"/><circle cx="506.6" cy="385.7" r="2.45"/><circle cx="491.0" cy="322.0" r="2.45"/><circle cx="393.1" cy="267.7" r="2.45"/><circle cx="513.4" cy="409.1" r="2.45"/><circle cx="305.3" cy="206.4" r="2.45"/><circle cx="440.9" cy="273.7" r="2.45"/><circle cx="328.8" cy="240.3" r="2.45"/><circle cx="326.0" cy="237.5" r="2.45"/><circle cx="553.5" cy="467.0" r="2.45"/><circle cx="461.1" cy="339.4" r="2.45"/><circle cx="434.6" cy="285.6" r="2.45"/><circle cx="272.9" cy="267.3" r="2.45"/><circle cx="558.5" cy="392.6" r="2.45"/><circle cx="445.2" cy="289.2" r="2.45"/><circle cx="350.9" cy="210.0" r="2.45"/><circle cx="450.3" cy="341.0" r="2.45"/><circle cx="603.6" cy="580.3" r="2.45"/><circle cx="344.5" cy="248.3" r="2.45"/><circle cx="415.2" cy="263.7" r="2.45"/><circle cx="445.6" cy="319.0" r="2.45"/><circle cx="608.1" cy="587.8" r="2.45"/><circle cx="507.5" cy="328.6" r="2.45"/><circle cx="575.1" cy="635.1" r="2.45"/><circle cx="254.3" cy="225.7" r="2.45"/><circle cx="307.2" cy="256.7" r="2.45"/><circle cx="572.1" cy="630.6" r="2.45"/><circle cx="357.4" cy="248.4" r="2.45"/><circle cx="279.6" cy="248.1" r="2.45"/><circle cx="440.4" cy="290.5" r="2.45"/><circle cx="490.7" cy="294.6" r="2.45"/><circle cx="489.6" cy="320.1" r="2.45"/><circle cx="584.4" cy="370.8" r="2.45"/><circle cx="398.7" cy="290.5" r="2.45"/><circle cx="529.0" cy="401.7" r="2.45"/><circle cx="518.5" cy="353.3" r="2.45"/><circle cx="488.9" cy="314.9" r="2.45"/><circle cx="313.1" cy="250.7" r="2.45"/><circle cx="313.0" cy="273.3" r="2.45"/><circle cx="347.1" cy="235.1" r="2.45"/><circle cx="501.4" cy="320.4" r="2.45"/><circle cx="441.3" cy="254.5" r="2.45"/><circle cx="376.7" cy="277.2" r="2.45"/><circle cx="361.6" cy="244.0" r="2.45"/><circle cx="362.9" cy="287.2" r="2.45"/><circle cx="301.3" cy="224.3" r="2.45"/><circle cx="501.9" cy="321.0" r="2.45"/><circle cx="533.5" cy="322.8" r="2.45"/><circle cx="479.0" cy="260.9" r="2.45"/><circle cx="482.1" cy="330.9" r="2.45"/><circle cx="343.5" cy="285.3" r="2.45"/><circle cx="284.1" cy="205.6" r="2.45"/><circle cx="266.4" cy="249.1" r="2.45"/><circle cx="205.3" cy="169.7" r="2.45"/><circle cx="411.6" cy="279.2" r="2.45"/><circle cx="423.1" cy="303.2" r="2.45"/><circle cx="470.3" cy="275.3" r="2.45"/><circle cx="467.2" cy="307.1" r="2.45"/><circle cx="487.3" cy="370.3" r="2.45"/><circle cx="502.9" cy="315.0" r="2.45"/><circle cx="508.5" cy="297.6" r="2.45"/><circle cx="458.5" cy="331.4" r="2.45"/><circle cx="294.6" cy="220.3" r="2.45"/><circle cx="347.1" cy="272.7" r="2.45"/><circle cx="237.4" cy="222.0" r="2.45"/><circle cx="428.9" cy="377.6" r="2.45"/><circle cx="526.0" cy="385.8" r="2.45"/><circle cx="498.2" cy="287.9" r="2.45"/><circle cx="580.3" cy="377.5" r="2.45"/><circle cx="502.9" cy="260.1" r="2.45"/><circle cx="352.6" cy="250.1" r="2.45"/><circle cx="179.5" cy="213.2" r="2.45"/><circle cx="461.1" cy="302.2" r="2.45"/><circle cx="376.0" cy="247.7" r="2.45"/><circle cx="197.8" cy="250.1" r="2.45"/><circle cx="249.0" cy="231.2" r="2.45"/><circle cx="537.1" cy="424.0" r="2.45"/><circle cx="302.5" cy="265.6" r="2.45"/><circle cx="503.2" cy="302.4" r="2.45"/><circle cx="361.5" cy="240.2" r="2.45"/><circle cx="497.1" cy="401.8" r="2.45"/><circle cx="407.3" cy="258.8" r="2.45"/><circle cx="337.1" cy="256.9" r="2.45"/><circle cx="395.7" cy="265.1" r="2.45"/><circle cx="431.2" cy="299.3" r="2.45"/><circle cx="460.5" cy="306.0" r="2.45"/><circle cx="437.0" cy="278.6" r="2.45"/><circle cx="424.1" cy="273.2" r="2.45"/><circle cx="247.1" cy="245.8" r="2.45"/><circle cx="516.8" cy="361.7" r="2.45"/><circle cx="217.1" cy="261.9" r="2.45"/><circle cx="352.4" cy="256.6" r="2.45"/><circle cx="508.5" cy="343.0" r="2.45"/><circle cx="511.1" cy="339.4" r="2.45"/><circle cx="447.6" cy="289.9" r="2.45"/><circle cx="381.8" cy="309.2" r="2.45"/><circle cx="342.2" cy="264.8" r="2.45"/><circle cx="410.6" cy="249.0" r="2.45"/><circle cx="451.8" cy="309.9" r="2.45"/><circle cx="349.4" cy="269.1" r="2.45"/><circle cx="454.5" cy="307.5" r="2.45"/><circle cx="472.2" cy="345.6" r="2.45"/><circle cx="276.1" cy="277.0" r="2.45"/><circle cx="488.8" cy="371.1" r="2.45"/><circle cx="509.9" cy="319.8" r="2.45"/><circle cx="497.6" cy="363.2" r="2.45"/><circle cx="591.6" cy="603.6" r="2.45"/><circle cx="563.2" cy="405.9" r="2.45"/><circle cx="433.1" cy="309.7" r="2.45"/><circle cx="456.3" cy="272.7" r="2.45"/><circle cx="542.7" cy="350.9" r="2.45"/><circle cx="394.4" cy="241.3" r="2.45"/><circle cx="331.9" cy="299.5" r="2.45"/><circle cx="497.2" cy="351.8" r="2.45"/><circle cx="407.3" cy="271.2" r="2.45"/><circle cx="466.6" cy="335.2" r="2.45"/><circle cx="464.6" cy="327.2" r="2.45"/><circle cx="594.6" cy="500.5" r="2.45"/><circle cx="363.6" cy="255.6" r="2.45"/><circle cx="501.1" cy="269.7" r="2.45"/><circle cx="500.4" cy="385.3" r="2.45"/><circle cx="417.6" cy="266.0" r="2.45"/><circle cx="469.2" cy="273.8" r="2.45"/><circle cx="266.4" cy="202.9" r="2.45"/><circle cx="303.7" cy="271.3" r="2.45"/><circle cx="357.0" cy="220.6" r="2.45"/><circle cx="592.1" cy="519.8" r="2.45"/><circle cx="402.6" cy="317.0" r="2.45"/><circle cx="392.7" cy="328.5" r="2.45"/><circle cx="436.4" cy="355.5" r="2.45"/><circle cx="413.5" cy="217.9" r="2.45"/><circle cx="385.6" cy="241.6" r="2.45"/><circle cx="363.4" cy="237.0" r="2.45"/><circle cx="482.1" cy="270.6" r="2.45"/><circle cx="481.8" cy="347.6" r="2.45"/><circle cx="437.0" cy="334.4" r="2.45"/><circle cx="298.1" cy="269.9" r="2.45"/><circle cx="596.1" cy="563.0" r="2.45"/><circle cx="523.4" cy="377.9" r="2.45"/><circle cx="466.2" cy="328.9" r="2.45"/><circle cx="323.6" cy="243.0" r="2.45"/><circle cx="382.2" cy="284.3" r="2.45"/><circle cx="439.6" cy="290.2" r="2.45"/><circle cx="546.6" cy="392.8" r="2.45"/><circle cx="472.4" cy="306.5" r="2.45"/><circle cx="446.9" cy="302.9" r="2.45"/><circle cx="341.6" cy="222.5" r="2.45"/><circle cx="325.2" cy="264.9" r="2.45"/><circle cx="499.9" cy="384.4" r="2.45"/><circle cx="195.6" cy="198.6" r="2.45"/><circle cx="521.5" cy="340.7" r="2.45"/><circle cx="245.0" cy="209.4" r="2.45"/><circle cx="363.2" cy="248.4" r="2.45"/><circle cx="410.5" cy="278.8" r="2.45"/><circle cx="430.3" cy="312.7" r="2.45"/><circle cx="385.3" cy="235.4" r="2.45"/><circle cx="450.0" cy="289.1" r="2.45"/><circle cx="578.1" cy="616.3" r="2.45"/><circle cx="497.2" cy="370.9" r="2.45"/><circle cx="496.8" cy="303.7" r="2.45"/><circle cx="388.2" cy="225.5" r="2.45"/><circle cx="549.6" cy="474.7" r="2.45"/><circle cx="477.1" cy="303.7" r="2.45"/><circle cx="298.2" cy="249.5" r="2.45"/><circle cx="499.4" cy="318.4" r="2.45"/><circle cx="434.6" cy="296.7" r="2.45"/><circle cx="408.8" cy="302.2" r="2.45"/><circle cx="464.4" cy="273.8" r="2.45"/><circle cx="368.7" cy="253.3" r="2.45"/><circle cx="380.3" cy="259.0" r="2.45"/><circle cx="501.1" cy="348.4" r="2.45"/><circle cx="367.3" cy="250.8" r="2.45"/><circle cx="307.0" cy="240.0" r="2.45"/><circle cx="451.4" cy="375.4" r="2.45"/><circle cx="235.5" cy="224.6" r="2.45"/><circle cx="470.8" cy="361.0" r="2.45"/><circle cx="307.7" cy="262.6" r="2.45"/><circle cx="317.1" cy="256.0" r="2.45"/><circle cx="511.1" cy="321.3" r="2.45"/><circle cx="519.9" cy="327.5" r="2.45"/><circle cx="311.6" cy="213.5" r="2.45"/><circle cx="606.6" cy="562.3" r="2.45"/><circle cx="471.3" cy="301.7" r="2.45"/><circle cx="410.1" cy="233.4" r="2.45"/><circle cx="529.5" cy="333.7" r="2.45"/><circle cx="503.3" cy="341.9" r="2.45"/><circle cx="444.3" cy="312.0" r="2.45"/><circle cx="290.3" cy="272.2" r="2.45"/><circle cx="461.6" cy="312.7" r="2.45"/><circle cx="510.4" cy="365.1" r="2.45"/><circle cx="477.5" cy="310.0" r="2.45"/><circle cx="342.7" cy="209.0" r="2.45"/><circle cx="451.4" cy="240.5" r="2.45"/><circle cx="344.5" cy="199.5" r="2.45"/><circle cx="444.3" cy="273.5" r="2.45"/><circle cx="365.8" cy="215.0" r="2.45"/><circle cx="349.5" cy="241.2" r="2.45"/><circle cx="546.9" cy="361.8" r="2.45"/><circle cx="515.8" cy="379.4" r="2.45"/><circle cx="385.9" cy="234.4" r="2.45"/><circle cx="522.4" cy="413.5" r="2.45"/><circle cx="236.4" cy="219.0" r="2.45"/><circle cx="477.3" cy="345.3" r="2.45"/><circle cx="428.9" cy="249.6" r="2.45"/><circle cx="444.3" cy="235.7" r="2.45"/><circle cx="482.8" cy="272.6" r="2.45"/><circle cx="382.9" cy="255.4" r="2.45"/><circle cx="289.9" cy="234.9" r="2.45"/><circle cx="474.2" cy="258.9" r="2.45"/><circle cx="266.0" cy="231.9" r="2.45"/><circle cx="550.5" cy="396.8" r="2.45"/><circle cx="486.5" cy="305.1" r="2.45"/><circle cx="257.8" cy="199.7" r="2.45"/><circle cx="345.6" cy="237.7" r="2.45"/><circle cx="304.6" cy="235.8" r="2.45"/><circle cx="445.5" cy="289.6" r="2.45"/><circle cx="487.1" cy="380.1" r="2.45"/><circle cx="388.1" cy="203.3" r="2.45"/><circle cx="288.0" cy="214.1" r="2.45"/><circle cx="550.9" cy="452.9" r="2.45"/><circle cx="420.4" cy="306.3" r="2.45"/><circle cx="494.6" cy="344.3" r="2.45"/><circle cx="486.6" cy="310.0" r="2.45"/><circle cx="574.8" cy="430.7" r="2.45"/><circle cx="321.1" cy="212.0" r="2.45"/><circle cx="487.6" cy="289.8" r="2.45"/><circle cx="465.3" cy="291.4" r="2.45"/><circle cx="524.2" cy="406.8" r="2.45"/><circle cx="377.6" cy="293.8" r="2.45"/><circle cx="232.1" cy="199.0" r="2.45"/><circle cx="278.1" cy="249.5" r="2.45"/><circle cx="503.3" cy="328.0" r="2.45"/><circle cx="412.8" cy="321.5" r="2.45"/><circle cx="474.8" cy="282.2" r="2.45"/><circle cx="350.4" cy="228.9" r="2.45"/><circle cx="331.9" cy="255.1" r="2.45"/><circle cx="289.5" cy="218.8" r="2.45"/><circle cx="358.0" cy="246.2" r="2.45"/><circle cx="502.8" cy="316.0" r="2.45"/><circle cx="428.8" cy="290.2" r="2.45"/><circle cx="496.0" cy="410.4" r="2.45"/><circle cx="472.5" cy="252.2" r="2.45"/><circle cx="527.9" cy="314.8" r="2.45"/><circle cx="311.6" cy="209.2" r="2.45"/><circle cx="437.4" cy="246.3" r="2.45"/><circle cx="446.7" cy="277.3" r="2.45"/><circle cx="535.4" cy="481.2" r="2.45"/><circle cx="603.6" cy="571.3" r="2.45"/><circle cx="496.4" cy="279.2" r="2.45"/><circle cx="442.5" cy="253.4" r="2.45"/><circle cx="354.8" cy="288.7" r="2.45"/><circle cx="528.7" cy="304.2" r="2.45"/><circle cx="404.2" cy="259.1" r="2.45"/><circle cx="468.2" cy="373.8" r="2.45"/><circle cx="442.3" cy="308.5" r="2.45"/><circle cx="482.0" cy="368.6" r="2.45"/><circle cx="620.4" cy="539.1" r="2.45"/><circle cx="535.4" cy="370.6" r="2.45"/><circle cx="366.3" cy="283.4" r="2.45"/><circle cx="416.1" cy="266.8" r="2.45"/><circle cx="470.4" cy="307.1" r="2.45"/><circle cx="498.2" cy="277.5" r="2.45"/><circle cx="422.1" cy="317.4" r="2.45"/><circle cx="174.1" cy="296.3" r="2.45"/><circle cx="590.8" cy="514.6" r="2.45"/><circle cx="469.3" cy="319.9" r="2.45"/><circle cx="447.5" cy="304.2" r="2.45"/><circle cx="311.1" cy="245.7" r="2.45"/><circle cx="480.3" cy="330.0" r="2.45"/><circle cx="507.0" cy="696.3" r="2.45"/><circle cx="435.5" cy="306.9" r="2.45"/><circle cx="363.0" cy="270.4" r="2.45"/><circle cx="576.6" cy="488.9" r="2.45"/><circle cx="183.8" cy="201.8" r="2.45"/><circle cx="467.9" cy="342.0" r="2.45"/><circle cx="454.7" cy="267.9" r="2.45"/><circle cx="491.3" cy="313.7" r="2.45"/><circle cx="352.4" cy="250.1" r="2.45"/><circle cx="297.6" cy="228.7" r="2.45"/><circle cx="379.9" cy="283.0" r="2.45"/><circle cx="495.6" cy="301.4" r="2.45"/><circle cx="557.1" cy="405.0" r="2.45"/><circle cx="421.0" cy="324.7" r="2.45"/><circle cx="455.2" cy="331.8" r="2.45"/><circle cx="452.1" cy="256.1" r="2.45"/><circle cx="428.5" cy="314.5" r="2.45"/><circle cx="456.3" cy="320.5" r="2.45"/><circle cx="487.6" cy="280.0" r="2.45"/><circle cx="304.4" cy="278.2" r="2.45"/><circle cx="452.0" cy="252.3" r="2.45"/><circle cx="531.7" cy="424.5" r="2.45"/><circle cx="268.5" cy="217.5" r="2.45"/><circle cx="468.7" cy="350.2" r="2.45"/><circle cx="351.6" cy="253.4" r="2.45"/><circle cx="190.9" cy="217.9" r="2.45"/><circle cx="494.1" cy="292.4" r="2.45"/><circle cx="435.8" cy="280.7" r="2.45"/><circle cx="270.6" cy="229.5" r="2.45"/><circle cx="398.3" cy="284.6" r="2.45"/><circle cx="418.6" cy="256.3" r="2.45"/><circle cx="358.9" cy="225.8" r="2.45"/><circle cx="296.0" cy="215.8" r="2.45"/><circle cx="254.2" cy="214.6" r="2.45"/><circle cx="360.2" cy="241.8" r="2.45"/><circle cx="372.0" cy="236.3" r="2.45"/><circle cx="311.0" cy="223.1" r="2.45"/><circle cx="531.8" cy="404.9" r="2.45"/><circle cx="516.7" cy="306.1" r="2.45"/><circle cx="391.5" cy="265.4" r="2.45"/><circle cx="510.7" cy="312.9" r="2.45"/><circle cx="272.9" cy="258.7" r="2.45"/><circle cx="501.8" cy="408.8" r="2.45"/><circle cx="456.0" cy="286.0" r="2.45"/><circle cx="269.6" cy="302.1" r="2.45"/><circle cx="449.0" cy="276.5" r="2.45"/><circle cx="495.6" cy="375.3" r="2.45"/><circle cx="527.2" cy="397.4" r="2.45"/><circle cx="370.8" cy="295.9" r="2.45"/></g><g fill="#0000ff" stroke="#0000ff" fill-opacity=".5" stroke-opacity=".5" stroke-width="3.80"><circle cx="763.6" cy="334.0" r="2.45"/><circle cx="675.0" cy="346.5" r="2.45"/><circle cx="822.6" cy="235.6" r="2.45"/><circle cx="760.1" cy="247.9" r="2.45"/><circle cx="854.1" cy="212.0" r="2.45"/><circle cx="775.4" cy="300.0" r="2.45"/><circle cx="717.9" cy="364.8" r="2.45"/><circle cx="681.5" cy="328.8" r="2.45"/><circle cx="724.4" cy="282.7" r="2.45"/><circle cx="717.9" cy="290.7" r="2.45"/><circle cx="919.8" cy="198.2" r="2.45"/><circle cx="731.4" cy="447.2" r="2.45"/><circle cx="715.8" cy="321.8" r="2.45"/><circle cx="709.4" cy="370.1" r="2.45"/><circle cx="713.6" cy="374.4" r="2.45"/><circle cx="706.1" cy="349.7" r="2.45"/><circle cx="761.4" cy="298.5" r="2.45"/><circle cx="780.3" cy="272.1" r="2.45"/><circle cx="755.5" cy="268.6" r="2.45"/><circle cx="831.2" cy="240.5" r="2.45"/><circle cx="735.4" cy="407.6" r="2.45"/><circle cx="782.9" cy="343.7" r="2.45"/><circle cx="782.9" cy="227.0" r="2.45"/><circle cx="948.2" cy="338.5" r="2.45"/><circle cx="706.4" cy="381.5" r="2.45"/><circle cx="748.2" cy="263.7" r="2.45"/><circle cx="708.1" cy="458.0" r="2.45"/><circle cx="874.1" cy="276.6" r="2.45"/><circle cx="689.0" cy="370.7" r="2.45"/><circle cx="750.1" cy="371.2" r="2.45"/><circle cx="701.6" cy="396.8" r="2.45"/><circle cx="834.8" cy="437.6" r="2.45"/><circle cx="754.4" cy="363.7" r="2.45"/><circle cx="739.9" cy="438.2" r="2.45"/><circle cx="690.0" cy="335.8" r="2.45"/><circle cx="707.2" cy="327.2" r="2.45"/><circle cx="691.1" cy="357.3" r="2.45"/><circle cx="741.0" cy="264.5" r="2.45"/><circle cx="721.7" cy="308.4" r="2.45"/><circle cx="725.8" cy="454.3" r="2.45"/><circle cx="795.9" cy="329.4" r="2.45"/><circle cx="743.7" cy="282.1" r="2.45"/><circle cx="759.3" cy="426.6" r="2.45"/><circle cx="753.3" cy="321.8" r="2.45"/><circle cx="704.0" cy="310.6" r="2.45"/><circle cx="786.1" cy="221.8" r="2.45"/><circle cx="760.9" cy="339.3" r="2.45"/><circle cx="763.6" cy="278.1" r="2.45"/><circle cx="702.9" cy="361.5" r="2.45"/><circle cx="720.1" cy="322.9" r="2.45"/><circle cx="755.5" cy="298.8" r="2.45"/><circle cx="734.0" cy="298.2" r="2.45"/><circle cx="761.4" cy="247.0" r="2.45"/><circle cx="726.6" cy="383.1" r="2.45"/><circle cx="738.3" cy="359.4" r="2.45"/><circle cx="757.6" cy="301.5" r="2.45"/><circle cx="915.5" cy="272.3" r="2.45"/><circle cx="711.3" cy="392.0" r="2.45"/><circle cx="720.1" cy="289.7" r="2.45"/><circle cx="761.2" cy="397.6" r="2.45"/><circle cx="728.1" cy="288.0" r="2.45"/><circle cx="689.0" cy="354.0" r="2.45"/><circle cx="864.4" cy="227.0" r="2.45"/><circle cx="712.6" cy="336.9" r="2.45"/><circle cx="778.6" cy="221.2" r="2.45"/><circle cx="795.0" cy="359.0" r="2.45"/><circle cx="694.3" cy="297.2" r="2.45"/><circle cx="696.5" cy="312.2" r="2.45"/><circle cx="712.6" cy="344.4" r="2.45"/><circle cx="774.1" cy="452.4" r="2.45"/><circle cx="735.0" cy="303.7" r="2.45"/><circle cx="736.2" cy="344.4" r="2.45"/><circle cx="736.2" cy="286.4" r="2.45"/><circle cx="689.0" cy="354.0" r="2.45"/><circle cx="748.0" cy="334.7" r="2.45"/><circle cx="684.7" cy="341.2" r="2.45"/><circle cx="782.5" cy="258.8" r="2.45"/><circle cx="726.5" cy="297.7" r="2.45"/><circle cx="797.9" cy="241.2" r="2.45"/><circle cx="747.4" cy="258.9" r="2.45"/><circle cx="687.8" cy="383.1" r="2.45"/><circle cx="718.5" cy="359.4" r="2.45"/><circle cx="749.1" cy="361.5" r="2.45"/><circle cx="784.0" cy="319.9" r="2.45"/><circle cx="689.0" cy="318.6" r="2.45"/><circle cx="811.9" cy="194.8" r="2.45"/><circle cx="687.9" cy="344.4" r="2.45"/><circle cx="755.5" cy="282.1" r="2.45"/><circle cx="708.1" cy="400.0" r="2.45"/><circle cx="864.4" cy="181.9" r="2.45"/><circle cx="829.7" cy="224.4" r="2.45"/><circle cx="778.3" cy="264.6" r="2.45"/><circle cx="698.6" cy="371.7" r="2.45"/><circle cx="820.5" cy="324.2" r="2.45"/><circle cx="695.1" cy="380.7" r="2.45"/><circle cx="695.4" cy="322.9" r="2.45"/><circle cx="890.6" cy="276.6" r="2.45"/><circle cx="769.0" cy="297.4" r="2.45"/><circle cx="799.0" cy="248.5" r="2.45"/><circle cx="897.7" cy="355.2" r="2.45"/><circle cx="735.1" cy="303.1" r="2.45"/><circle cx="772.5" cy="335.2" r="2.45"/><circle cx="756.3" cy="277.4" r="2.45"/><circle cx="787.0" cy="332.4" r="2.45"/><circle cx="714.5" cy="417.0" r="2.45"/><circle cx="806.2" cy="338.5" r="2.45"/><circle cx="776.5" cy="238.4" r="2.45"/><circle cx="745.8" cy="344.4" r="2.45"/><circle cx="812.9" cy="203.4" r="2.45"/><circle cx="701.8" cy="348.7" r="2.45"/><circle cx="810.8" cy="221.8" r="2.45"/><circle cx="740.2" cy="246.0" r="2.45"/><circle cx="719.0" cy="332.6" r="2.45"/><circle cx="772.6" cy="255.5" r="2.45"/><circle cx="801.0" cy="333.7" r="2.45"/><circle cx="708.9" cy="429.5" r="2.45"/><circle cx="710.4" cy="355.1" r="2.45"/><circle cx="712.6" cy="319.7" r="2.45"/><circle cx="818.3" cy="202.5" r="2.45"/><circle cx="801.8" cy="256.6" r="2.45"/><circle cx="740.5" cy="325.1" r="2.45"/><circle cx="710.0" cy="317.6" r="2.45"/><circle cx="741.5" cy="334.7" r="2.45"/><circle cx="834.0" cy="215.0" r="2.45"/><circle cx="758.2" cy="346.5" r="2.45"/><circle cx="789.3" cy="209.0" r="2.45"/><circle cx="776.5" cy="266.3" r="2.45"/><circle cx="789.3" cy="322.1" r="2.45"/><circle cx="808.7" cy="419.6" r="2.45"/><circle cx="757.9" cy="247.6" r="2.45"/><circle cx="722.2" cy="470.1" r="2.45"/><circle cx="793.6" cy="247.6" r="2.45"/><circle cx="820.9" cy="299.5" r="2.45"/><circle cx="744.8" cy="350.8" r="2.45"/><circle cx="730.8" cy="336.3" r="2.45"/><circle cx="766.8" cy="306.4" r="2.45"/><circle cx="819.0" cy="251.2" r="2.45"/><circle cx="728.9" cy="276.6" r="2.45"/><circle cx="852.6" cy="154.7" r="2.45"/><circle cx="704.0" cy="355.1" r="2.45"/><circle cx="736.2" cy="329.4" r="2.45"/><circle cx="739.2" cy="369.3" r="2.45"/><circle cx="700.8" cy="408.9" r="2.45"/><circle cx="730.8" cy="280.5" r="2.45"/><circle cx="710.4" cy="317.6" r="2.45"/><circle cx="685.8" cy="359.4" r="2.45"/><circle cx="758.0" cy="385.6" r="2.45"/><circle cx="724.4" cy="321.3" r="2.45"/><circle cx="731.4" cy="386.4" r="2.45"/><circle cx="700.8" cy="341.7" r="2.45"/><circle cx="720.9" cy="390.4" r="2.45"/><circle cx="699.7" cy="326.1" r="2.45"/><circle cx="913.8" cy="237.7" r="2.45"/><circle cx="758.3" cy="400.9" r="2.45"/><circle cx="733.6" cy="307.9" r="2.45"/><circle cx="927.7" cy="149.3" r="2.45"/><circle cx="714.2" cy="418.1" r="2.45"/><circle cx="739.4" cy="369.1" r="2.45"/><circle cx="771.7" cy="314.5" r="2.45"/><circle cx="758.7" cy="356.7" r="2.45"/><circle cx="791.5" cy="327.4" r="2.45"/><circle cx="756.6" cy="288.6" r="2.45"/><circle cx="737.8" cy="315.4" r="2.45"/><circle cx="859.7" cy="180.4" r="2.45"/><circle cx="798.2" cy="347.7" r="2.45"/><circle cx="701.6" cy="341.3" r="2.45"/><circle cx="763.6" cy="251.2" r="2.45"/><circle cx="797.9" cy="275.9" r="2.45"/><circle cx="709.9" cy="297.2" r="2.45"/><circle cx="773.9" cy="241.6" r="2.45"/><circle cx="790.2" cy="355.0" r="2.45"/><circle cx="761.5" cy="253.5" r="2.45"/><circle cx="808.7" cy="384.4" r="2.45"/><circle cx="818.3" cy="268.4" r="2.45"/><circle cx="767.3" cy="354.2" r="2.45"/><circle cx="758.7" cy="339.0" r="2.45"/><circle cx="764.4" cy="392.0" r="2.45"/><circle cx="728.2" cy="400.9" r="2.45"/><circle cx="939.1" cy="213.7" r="2.45"/><circle cx="705.8" cy="348.3" r="2.45"/><circle cx="869.8" cy="197.2" r="2.45"/><circle cx="816.8" cy="218.0" r="2.45"/><circle cx="727.6" cy="351.9" r="2.45"/><circle cx="776.5" cy="324.2" r="2.45"/><circle cx="815.5" cy="272.7" r="2.45"/><circle cx="891.7" cy="198.2" r="2.45"/><circle cx="744.3" cy="398.4" r="2.45"/><circle cx="769.0" cy="271.2" r="2.45"/><circle cx="691.1" cy="332.6" r="2.45"/><circle cx="756.6" cy="354.0" r="2.45"/><circle cx="774.7" cy="279.1" r="2.45"/><circle cx="730.6" cy="396.0" r="2.45"/><circle cx="730.8" cy="297.2" r="2.45"/><circle cx="782.3" cy="294.4" r="2.45"/><circle cx="741.8" cy="275.0" r="2.45"/><circle cx="765.7" cy="256.6" r="2.45"/><circle cx="744.2" cy="296.6" r="2.45"/><circle cx="845.6" cy="166.5" r="2.45"/><circle cx="877.4" cy="363.3" r="2.45"/><circle cx="756.4" cy="380.7" r="2.45"/><circle cx="729.0" cy="404.9" r="2.45"/><circle cx="734.0" cy="307.9" r="2.45"/><circle cx="749.1" cy="318.6" r="2.45"/><circle cx="890.6" cy="302.3" r="2.45"/><circle cx="890.6" cy="176.1" r="2.45"/><circle cx="707.2" cy="353.0" r="2.45"/><circle cx="742.6" cy="290.7" r="2.45"/><circle cx="730.8" cy="322.9" r="2.45"/><circle cx="735.1" cy="310.0" r="2.45"/><circle cx="670.7" cy="350.8" r="2.45"/></g><g fill="#800080" stroke="#800080" fill-opacity=".5" stroke-opacity=".5" stroke-width="3.80"><circle cx="740.4" cy="216.3" r="2.45"/><circle cx="651.4" cy="170.4" r="2.45"/><circle cx="756.7" cy="153.7" r="2.45"/><circle cx="685.3" cy="162.8" r="2.45"/><circle cx="697.5" cy="193.4" r="2.45"/><circle cx="670.5" cy="184.9" r="2.45"/><circle cx="597.7" cy="178.8" r="2.45"/><circle cx="665.9" cy="186.0" r="2.45"/><circle cx="631.6" cy="192.5" r="2.45"/><circle cx="673.1" cy="263.1" r="2.45"/><circle cx="618.6" cy="162.0" r="2.45"/><circle cx="746.1" cy="189.9" r="2.45"/><circle cx="776.9" cy="212.2" r="2.45"/><circle cx="714.6" cy="142.7" r="2.45"/><circle cx="682.0" cy="166.6" r="2.45"/><circle cx="719.0" cy="244.9" r="2.45"/><circle cx="744.2" cy="137.4" r="2.45"/><circle cx="692.0" cy="194.3" r="2.45"/><circle cx="678.2" cy="312.2" r="2.45"/><circle cx="743.9" cy="208.7" r="2.45"/><circle cx="712.9" cy="230.1" r="2.45"/><circle cx="722.1" cy="147.0" r="2.45"/><circle cx="688.1" cy="184.9" r="2.45"/><circle cx="676.1" cy="234.5" r="2.45"/><circle cx="766.1" cy="217.5" r="2.45"/><circle cx="673.9" cy="186.2" r="2.45"/><circle cx="686.6" cy="183.8" r="2.45"/><circle cx="685.5" cy="219.8" r="2.45"/><circle cx="672.1" cy="199.4" r="2.45"/><circle cx="685.8" cy="254.2" r="2.45"/><circle cx="607.0" cy="245.8" r="2.45"/><circle cx="685.9" cy="266.5" r="2.45"/><circle cx="790.8" cy="181.6" r="2.45"/><circle cx="669.0" cy="172.9" r="2.45"/><circle cx="716.4" cy="165.8" r="2.45"/><circle cx="701.1" cy="256.2" r="2.45"/><circle cx="729.0" cy="173.7" r="2.45"/><circle cx="602.5" cy="216.5" r="2.45"/><circle cx="707.8" cy="236.4" r="2.45"/><circle cx="648.7" cy="184.7" r="2.45"/><circle cx="768.3" cy="202.9" r="2.45"/><circle cx="659.3" cy="262.4" r="2.45"/><circle cx="661.1" cy="264.6" r="2.45"/><circle cx="726.1" cy="141.6" r="2.45"/><circle cx="741.9" cy="205.4" r="2.45"/><circle cx="719.2" cy="181.0" r="2.45"/><circle cx="793.6" cy="139.7" r="2.45"/><circle cx="757.4" cy="153.5" r="2.45"/><circle cx="725.9" cy="204.0" r="2.45"/><circle cx="720.0" cy="180.5" r="2.45"/><circle cx="774.2" cy="161.9" r="2.45"/><circle cx="633.6" cy="185.7" r="2.45"/><circle cx="648.8" cy="194.7" r="2.45"/><circle cx="671.0" cy="172.8" r="2.45"/><circle cx="751.3" cy="150.3" r="2.45"/><circle cx="755.8" cy="229.2" r="2.45"/><circle cx="759.9" cy="163.3" r="2.45"/><circle cx="716.4" cy="251.2" r="2.45"/><circle cx="653.1" cy="188.8" r="2.45"/><circle cx="689.5" cy="252.9" r="2.45"/><circle cx="647.6" cy="311.1" r="2.45"/><circle cx="677.2" cy="301.5" r="2.45"/><circle cx="727.3" cy="185.0" r="2.45"/><circle cx="707.6" cy="160.9" r="2.45"/><circle cx="660.8" cy="235.0" r="2.45"/><circle cx="584.5" cy="246.5" r="2.45"/><circle cx="652.2" cy="163.7" r="2.45"/><circle cx="706.1" cy="194.5" r="2.45"/><circle cx="680.4" cy="216.2" r="2.45"/><circle cx="658.8" cy="167.5" r="2.45"/><circle cx="769.5" cy="220.2" r="2.45"/><circle cx="619.8" cy="253.3" r="2.45"/><circle cx="749.3" cy="192.2" r="2.45"/><circle cx="756.0" cy="181.1" r="2.45"/><circle cx="604.8" cy="223.3" r="2.45"/><circle cx="682.6" cy="278.4" r="2.45"/><circle cx="707.8" cy="166.5" r="2.45"/><circle cx="656.6" cy="186.8" r="2.45"/><circle cx="667.1" cy="266.1" r="2.45"/><circle cx="751.1" cy="188.4" r="2.45"/><circle cx="668.3" cy="164.8" r="2.45"/><circle cx="628.0" cy="248.8" r="2.45"/><circle cx="648.3" cy="293.1" r="2.45"/><circle cx="672.6" cy="171.6" r="2.45"/><circle cx="726.4" cy="235.7" r="2.45"/><circle cx="636.7" cy="180.8" r="2.45"/><circle cx="625.8" cy="176.6" r="2.45"/><circle cx="625.0" cy="300.6" r="2.45"/><circle cx="689.0" cy="301.5" r="2.45"/><circle cx="761.9" cy="156.2" r="2.45"/><circle cx="766.5" cy="210.0" r="2.45"/><circle cx="784.0" cy="197.0" r="2.45"/><circle cx="659.9" cy="165.8" r="2.45"/><circle cx="761.4" cy="226.6" r="2.45"/><circle cx="696.2" cy="232.4" r="2.45"/><circle cx="668.5" cy="166.6" r="2.45"/><circle cx="674.4" cy="190.4" r="2.45"/><circle cx="640.3" cy="195.4" r="2.45"/><circle cx="699.0" cy="233.1" r="2.45"/><circle cx="675.9" cy="206.7" r="2.45"/><circle cx="656.2" cy="182.5" r="2.45"/><circle cx="649.3" cy="196.2" r="2.45"/><circle cx="697.1" cy="252.3" r="2.45"/><circle cx="678.2" cy="169.7" r="2.45"/><circle cx="696.7" cy="184.6" r="2.45"/><circle cx="732.8" cy="250.4" r="2.45"/><circle cx="709.9" cy="163.3" r="2.45"/><circle cx="760.8" cy="221.3" r="2.45"/><circle cx="627.0" cy="155.6" r="2.45"/><circle cx="664.1" cy="251.1" r="2.45"/><circle cx="687.9" cy="286.4" r="2.45"/><circle cx="707.1" cy="142.7" r="2.45"/><circle cx="717.1" cy="151.8" r="2.45"/><circle cx="737.0" cy="189.4" r="2.45"/><circle cx="670.9" cy="154.4" r="2.45"/><circle cx="688.0" cy="158.8" r="2.45"/><circle cx="729.1" cy="191.6" r="2.45"/><circle cx="746.7" cy="192.4" r="2.45"/><circle cx="728.7" cy="175.3" r="2.45"/><circle cx="715.0" cy="206.0" r="2.45"/><circle cx="654.0" cy="254.5" r="2.45"/><circle cx="724.4" cy="228.4" r="2.45"/><circle cx="707.3" cy="188.3" r="2.45"/><circle cx="674.0" cy="164.6" r="2.45"/><circle cx="667.5" cy="298.2" r="2.45"/><circle cx="763.6" cy="184.7" r="2.45"/><circle cx="636.3" cy="196.4" r="2.45"/><circle cx="762.1" cy="209.8" r="2.45"/><circle cx="718.3" cy="183.3" r="2.45"/><circle cx="735.9" cy="142.9" r="2.45"/><circle cx="731.1" cy="197.4" r="2.45"/><circle cx="668.2" cy="211.6" r="2.45"/><circle cx="694.5" cy="136.9" r="2.45"/><circle cx="731.6" cy="130.5" r="2.45"/><circle cx="661.5" cy="165.0" r="2.45"/><circle cx="647.0" cy="195.3" r="2.45"/><circle cx="681.3" cy="186.2" r="2.45"/><circle cx="702.0" cy="183.9" r="2.45"/><circle cx="679.1" cy="262.3" r="2.45"/><circle cx="693.0" cy="155.5" r="2.45"/><circle cx="744.2" cy="165.3" r="2.45"/><circle cx="631.8" cy="184.1" r="2.45"/><circle cx="694.6" cy="223.4" r="2.45"/><circle cx="680.4" cy="303.1" r="2.45"/><circle cx="696.4" cy="182.9" r="2.45"/><circle cx="718.9" cy="245.0" r="2.45"/><circle cx="723.5" cy="192.8" r="2.45"/><circle cx="683.6" cy="232.7" r="2.45"/><circle cx="740.2" cy="194.9" r="2.45"/><circle cx="677.3" cy="167.2" r="2.45"/><circle cx="557.6" cy="184.8" r="2.45"/><circle cx="726.3" cy="205.4" r="2.45"/><circle cx="775.4" cy="194.4" r="2.45"/><circle cx="680.1" cy="231.7" r="2.45"/><circle cx="668.7" cy="190.7" r="2.45"/><circle cx="658.3" cy="149.7" r="2.45"/><circle cx="720.1" cy="214.1" r="2.45"/><circle cx="661.1" cy="288.6" r="2.45"/><circle cx="713.7" cy="247.1" r="2.45"/><circle cx="664.1" cy="203.0" r="2.45"/><circle cx="620.0" cy="175.1" r="2.45"/><circle cx="659.1" cy="179.6" r="2.45"/><circle cx="733.3" cy="160.4" r="2.45"/><circle cx="647.9" cy="162.7" r="2.45"/><circle cx="722.6" cy="195.5" r="2.45"/><circle cx="651.7" cy="161.7" r="2.45"/><circle cx="690.3" cy="173.0" r="2.45"/><circle cx="689.2" cy="243.7" r="2.45"/><circle cx="640.1" cy="203.0" r="2.45"/><circle cx="715.2" cy="247.4" r="2.45"/><circle cx="676.1" cy="269.1" r="2.45"/><circle cx="733.9" cy="239.6" r="2.45"/><circle cx="749.5" cy="234.5" r="2.45"/><circle cx="778.6" cy="161.1" r="2.45"/><circle cx="670.9" cy="160.2" r="2.45"/><circle cx="670.0" cy="197.8" r="2.45"/><circle cx="677.3" cy="187.5" r="2.45"/><circle cx="765.9" cy="187.7" r="2.45"/><circle cx="683.1" cy="192.2" r="2.45"/><circle cx="739.4" cy="218.4" r="2.45"/><circle cx="694.0" cy="146.8" r="2.45"/><circle cx="674.7" cy="224.9" r="2.45"/><circle cx="651.2" cy="189.3" r="2.45"/><circle cx="655.1" cy="263.1" r="2.45"/><circle cx="664.8" cy="174.7" r="2.45"/><circle cx="721.5" cy="149.1" r="2.45"/><circle cx="732.2" cy="241.2" r="2.45"/><circle cx="707.3" cy="253.8" r="2.45"/><circle cx="709.9" cy="173.1" r="2.45"/><circle cx="810.8" cy="179.8" r="2.45"/><circle cx="663.2" cy="144.5" r="2.45"/><circle cx="673.1" cy="206.0" r="2.45"/><circle cx="717.2" cy="157.1" r="2.45"/><circle cx="680.3" cy="192.9" r="2.45"/><circle cx="737.2" cy="188.4" r="2.45"/><circle cx="721.8" cy="212.5" r="2.45"/><circle cx="647.6" cy="219.5" r="2.45"/><circle cx="682.4" cy="257.2" r="2.45"/><circle cx="742.1" cy="235.8" r="2.45"/><circle cx="411.7" cy="181.5" r="2.45"/><circle cx="649.2" cy="166.7" r="2.45"/><circle cx="818.3" cy="155.8" r="2.45"/><circle cx="555.5" cy="221.8" r="2.45"/><circle cx="719.1" cy="110.1" r="2.45"/><circle cx="691.4" cy="187.7" r="2.45"/><circle cx="632.9" cy="168.8" r="2.45"/><circle cx="742.0" cy="184.7" r="2.45"/><circle cx="580.8" cy="233.8" r="2.45"/><circle cx="698.9" cy="180.1" r="2.45"/><circle cx="717.8" cy="171.3" r="2.45"/><circle cx="698.7" cy="175.1" r="2.45"/><circle cx="684.1" cy="215.9" r="2.45"/><circle cx="646.7" cy="151.5" r="2.45"/><circle cx="770.0" cy="178.9" r="2.45"/><circle cx="646.1" cy="213.5" r="2.45"/><circle cx="630.3" cy="239.8" r="2.45"/><circle cx="632.0" cy="142.5" r="2.45"/><circle cx="687.7" cy="211.1" r="2.45"/><circle cx="665.8" cy="184.8" r="2.45"/><circle cx="569.8" cy="161.2" r="2.45"/><circle cx="629.5" cy="201.5" r="2.45"/><circle cx="735.5" cy="172.2" r="2.45"/><circle cx="714.8" cy="255.5" r="2.45"/><circle cx="757.1" cy="218.0" r="2.45"/><circle cx="760.4" cy="150.4" r="2.45"/><circle cx="719.0" cy="180.0" r="2.45"/><circle cx="669.4" cy="140.7" r="2.45"/><circle cx="650.6" cy="266.1" r="2.45"/><circle cx="682.4" cy="226.8" r="2.45"/><circle cx="676.5" cy="218.4" r="2.45"/><circle cx="697.0" cy="181.4" r="2.45"/><circle cx="776.4" cy="161.1" r="2.45"/><circle cx="766.1" cy="205.8" r="2.45"/><circle cx="676.4" cy="273.0" r="2.45"/><circle cx="667.7" cy="167.0" r="2.45"/><circle cx="663.0" cy="160.5" r="2.45"/><circle cx="730.2" cy="183.3" r="2.45"/><circle cx="604.8" cy="259.8" r="2.45"/><circle cx="717.0" cy="219.8" r="2.45"/><circle cx="650.6" cy="209.0" r="2.45"/><circle cx="706.1" cy="230.8" r="2.45"/><circle cx="630.0" cy="185.4" r="2.45"/><circle cx="772.2" cy="198.2" r="2.45"/><circle cx="651.6" cy="186.0" r="2.45"/><circle cx="609.7" cy="169.0" r="2.45"/><circle cx="658.1" cy="221.0" r="2.45"/><circle cx="726.4" cy="221.9" r="2.45"/><circle cx="751.8" cy="154.3" r="2.45"/><circle cx="730.0" cy="183.3" r="2.45"/><circle cx="729.5" cy="254.6" r="2.45"/><circle cx="750.9" cy="167.1" r="2.45"/><circle cx="769.2" cy="191.0" r="2.45"/><circle cx="684.7" cy="307.9" r="2.45"/><circle cx="628.0" cy="216.5" r="2.45"/><circle cx="702.8" cy="203.7" r="2.45"/><circle cx="745.1" cy="242.0" r="2.45"/><circle cx="680.0" cy="224.7" r="2.45"/><circle cx="702.8" cy="186.6" r="2.45"/><circle cx="730.8" cy="223.9" r="2.45"/><circle cx="652.1" cy="152.1" r="2.45"/><circle cx="726.7" cy="218.4" r="2.45"/><circle cx="724.1" cy="146.2" r="2.45"/><circle cx="700.8" cy="304.1" r="2.45"/><circle cx="687.2" cy="197.2" r="2.45"/><circle cx="703.4" cy="207.1" r="2.45"/><circle cx="681.2" cy="227.5" r="2.45"/><circle cx="671.7" cy="184.2" r="2.45"/><circle cx="663.4" cy="174.3" r="2.45"/><circle cx="649.0" cy="199.9" r="2.45"/><circle cx="715.8" cy="284.3" r="2.45"/><circle cx="741.5" cy="148.6" r="2.45"/><circle cx="673.9" cy="174.4" r="2.45"/><circle cx="674.6" cy="249.5" r="2.45"/><circle cx="779.1" cy="174.7" r="2.45"/><circle cx="728.7" cy="246.5" r="2.45"/><circle cx="784.0" cy="202.8" r="2.45"/><circle cx="701.6" cy="164.1" r="2.45"/><circle cx="668.6" cy="278.1" r="2.45"/><circle cx="700.4" cy="179.9" r="2.45"/><circle cx="780.8" cy="187.9" r="2.45"/><circle cx="710.8" cy="230.6" r="2.45"/><circle cx="719.1" cy="134.7" r="2.45"/><circle cx="728.5" cy="164.6" r="2.45"/><circle cx="670.7" cy="312.2" r="2.45"/><circle cx="664.1" cy="224.0" r="2.45"/><circle cx="650.6" cy="227.8" r="2.45"/><circle cx="639.5" cy="186.3" r="2.45"/><circle cx="654.6" cy="174.9" r="2.45"/><circle cx="711.7" cy="264.6" r="2.45"/><circle cx="741.8" cy="224.2" r="2.45"/><circle cx="707.5" cy="146.2" r="2.45"/><circle cx="626.5" cy="254.8" r="2.45"/><circle cx="669.4" cy="142.3" r="2.45"/><circle cx="616.8" cy="234.5" r="2.45"/><circle cx="692.8" cy="241.8" r="2.45"/><circle cx="601.0" cy="272.1" r="2.45"/><circle cx="674.2" cy="154.8" r="2.45"/><circle cx="680.6" cy="118.5" r="2.45"/><circle cx="718.4" cy="229.4" r="2.45"/><circle cx="691.7" cy="189.4" r="2.45"/><circle cx="496.8" cy="205.8" r="2.45"/><circle cx="640.7" cy="169.8" r="2.45"/><circle cx="657.5" cy="172.3" r="2.45"/><circle cx="760.4" cy="206.8" r="2.45"/><circle cx="726.4" cy="217.5" r="2.45"/><circle cx="698.6" cy="211.0" r="2.45"/><circle cx="692.9" cy="237.3" r="2.45"/><circle cx="701.8" cy="174.4" r="2.45"/><circle cx="734.9" cy="149.6" r="2.45"/><circle cx="722.5" cy="151.6" r="2.45"/><circle cx="670.7" cy="320.8" r="2.45"/><circle cx="676.1" cy="216.5" r="2.45"/><circle cx="653.7" cy="231.2" r="2.45"/><circle cx="670.1" cy="215.0" r="2.45"/><circle cx="633.3" cy="256.3" r="2.45"/><circle cx="669.0" cy="239.5" r="2.45"/><circle cx="659.6" cy="249.5" r="2.45"/><circle cx="761.4" cy="176.1" r="2.45"/><circle cx="668.9" cy="192.1" r="2.45"/><circle cx="646.9" cy="186.4" r="2.45"/><circle cx="691.2" cy="175.2" r="2.45"/><circle cx="686.2" cy="156.3" r="2.45"/><circle cx="714.0" cy="168.7" r="2.45"/><circle cx="675.0" cy="182.3" r="2.45"/><circle cx="708.5" cy="163.3" r="2.45"/><circle cx="650.6" cy="308.9" r="2.45"/><circle cx="701.3" cy="211.1" r="2.45"/><circle cx="697.1" cy="196.8" r="2.45"/><circle cx="692.2" cy="234.9" r="2.45"/><circle cx="655.8" cy="324.6" r="2.45"/><circle cx="749.2" cy="196.1" r="2.45"/><circle cx="722.4" cy="259.4" r="2.45"/><circle cx="705.0" cy="202.2" r="2.45"/><circle cx="698.9" cy="210.6" r="2.45"/><circle cx="668.6" cy="281.1" r="2.45"/><circle cx="677.2" cy="306.8" r="2.45"/><circle cx="604.7" cy="154.2" r="2.45"/><circle cx="589.8" cy="263.8" r="2.45"/><circle cx="743.6" cy="167.6" r="2.45"/><circle cx="623.5" cy="175.8" r="2.45"/><circle cx="704.7" cy="187.3" r="2.45"/><circle cx="707.7" cy="170.1" r="2.45"/><circle cx="693.4" cy="173.2" r="2.45"/><circle cx="763.4" cy="207.8" r="2.45"/><circle cx="637.8" cy="239.3" r="2.45"/><circle cx="693.4" cy="139.1" r="2.45"/><circle cx="729.9" cy="202.8" r="2.45"/><circle cx="606.1" cy="150.0" r="2.45"/><circle cx="630.7" cy="168.9" r="2.45"/><circle cx="718.7" cy="230.8" r="2.45"/><circle cx="654.8" cy="161.4" r="2.45"/><circle cx="704.7" cy="191.5" r="2.45"/><circle cx="618.6" cy="192.7" r="2.45"/><circle cx="702.1" cy="222.0" r="2.45"/><circle cx="750.5" cy="205.0" r="2.45"/><circle cx="636.5" cy="193.3" r="2.45"/><circle cx="758.2" cy="172.9" r="2.45"/><circle cx="704.8" cy="184.8" r="2.45"/><circle cx="697.5" cy="200.5" r="2.45"/><circle cx="716.0" cy="218.6" r="2.45"/><circle cx="722.1" cy="185.1" r="2.45"/><circle cx="721.0" cy="154.4" r="2.45"/><circle cx="788.8" cy="193.7" r="2.45"/><circle cx="697.5" cy="208.7" r="2.45"/><circle cx="755.6" cy="183.7" r="2.45"/><circle cx="693.4" cy="217.6" r="2.45"/><circle cx="735.7" cy="159.9" r="2.45"/><circle cx="648.2" cy="265.9" r="2.45"/><circle cx="781.8" cy="176.1" r="2.45"/><circle cx="521.4" cy="196.9" r="2.45"/><circle cx="670.1" cy="201.5" r="2.45"/><circle cx="647.5" cy="225.3" r="2.45"/><circle cx="652.9" cy="175.9" r="2.45"/><circle cx="670.1" cy="257.1" r="2.45"/><circle cx="728.2" cy="162.9" r="2.45"/><circle cx="710.9" cy="172.4" r="2.45"/><circle cx="658.1" cy="289.3" r="2.45"/><circle cx="620.5" cy="233.0" r="2.45"/><circle cx="653.6" cy="258.6" r="2.45"/><circle cx="708.6" cy="234.7" r="2.45"/><circle cx="756.2" cy="170.3" r="2.45"/><circle cx="668.2" cy="197.9" r="2.45"/><circle cx="727.4" cy="266.0" r="2.45"/><circle cx="785.0" cy="182.6" r="2.45"/><circle cx="718.9" cy="219.2" r="2.45"/><circle cx="692.1" cy="227.9" r="2.45"/><circle cx="636.1" cy="167.8" r="2.45"/><circle cx="670.7" cy="178.9" r="2.45"/><circle cx="718.7" cy="242.8" r="2.45"/><circle cx="655.2" cy="272.8" r="2.45"/><circle cx="758.3" cy="236.6" r="2.45"/><circle cx="710.6" cy="227.2" r="2.45"/><circle cx="699.7" cy="285.4" r="2.45"/><circle cx="705.2" cy="213.2" r="2.45"/><circle cx="684.5" cy="243.8" r="2.45"/><circle cx="673.6" cy="192.6" r="2.45"/><circle cx="684.3" cy="171.7" r="2.45"/><circle cx="685.5" cy="164.1" r="2.45"/><circle cx="655.1" cy="246.5" r="2.45"/><circle cx="772.2" cy="172.1" r="2.45"/><circle cx="664.1" cy="270.6" r="2.45"/><circle cx="700.7" cy="191.0" r="2.45"/><circle cx="717.1" cy="137.7" r="2.45"/><circle cx="739.8" cy="246.4" r="2.45"/><circle cx="656.7" cy="188.9" r="2.45"/><circle cx="689.6" cy="248.2" r="2.45"/><circle cx="687.8" cy="115.7" r="2.45"/><circle cx="631.1" cy="298.3" r="2.45"/><circle cx="672.9" cy="330.4" r="2.45"/><circle cx="497.6" cy="227.5" r="2.45"/><circle cx="673.2" cy="197.0" r="2.45"/><circle cx="676.1" cy="293.4" r="2.45"/><circle cx="781.2" cy="171.8" r="2.45"/><circle cx="718.7" cy="259.4" r="2.45"/><circle cx="726.9" cy="232.0" r="2.45"/><circle cx="748.6" cy="226.2" r="2.45"/><circle cx="655.7" cy="200.1" r="2.45"/><circle cx="627.3" cy="226.3" r="2.45"/><circle cx="658.1" cy="204.5" r="2.45"/><circle cx="694.1" cy="165.5" r="2.45"/><circle cx="685.5" cy="202.6" r="2.45"/><circle cx="717.7" cy="191.7" r="2.45"/><circle cx="667.1" cy="227.0" r="2.45"/><circle cx="731.9" cy="208.3" r="2.45"/><circle cx="411.0" cy="177.3" r="2.45"/><circle cx="781.8" cy="206.8" r="2.45"/><circle cx="676.9" cy="147.0" r="2.45"/><circle cx="770.0" cy="180.1" r="2.45"/><circle cx="609.7" cy="181.5" r="2.45"/><circle cx="562.8" cy="220.2" r="2.45"/><circle cx="661.1" cy="215.0" r="2.45"/><circle cx="731.8" cy="174.2" r="2.45"/><circle cx="645.3" cy="308.1" r="2.45"/><circle cx="778.6" cy="180.4" r="2.45"/><circle cx="642.4" cy="193.1" r="2.45"/><circle cx="652.3" cy="174.2" r="2.45"/><circle cx="744.8" cy="203.5" r="2.45"/><circle cx="670.2" cy="342.2" r="2.45"/><circle cx="729.8" cy="218.3" r="2.45"/><circle cx="715.2" cy="157.3" r="2.45"/><circle cx="635.0" cy="174.3" r="2.45"/><circle cx="663.3" cy="173.7" r="2.45"/><circle cx="650.6" cy="248.0" r="2.45"/><circle cx="793.0" cy="194.3" r="2.45"/><circle cx="633.4" cy="187.0" r="2.45"/><circle cx="769.1" cy="191.3" r="2.45"/><circle cx="700.7" cy="159.0" r="2.45"/><circle cx="700.1" cy="183.4" r="2.45"/><circle cx="791.9" cy="136.4" r="2.45"/><circle cx="664.2" cy="188.4" r="2.45"/><circle cx="750.2" cy="178.0" r="2.45"/><circle cx="764.1" cy="170.9" r="2.45"/><circle cx="723.8" cy="210.5" r="2.45"/><circle cx="773.1" cy="173.4" r="2.45"/><circle cx="750.5" cy="204.3" r="2.45"/><circle cx="722.2" cy="281.1" r="2.45"/><circle cx="670.0" cy="162.7" r="2.45"/><circle cx="728.5" cy="219.4" r="2.45"/><circle cx="743.6" cy="140.5" r="2.45"/><circle cx="726.3" cy="148.3" r="2.45"/><circle cx="661.1" cy="196.1" r="2.45"/><circle cx="682.0" cy="250.2" r="2.45"/><circle cx="704.0" cy="233.6" r="2.45"/><circle cx="705.4" cy="231.9" r="2.45"/><circle cx="738.3" cy="227.4" r="2.45"/><circle cx="653.6" cy="235.3" r="2.45"/><circle cx="727.6" cy="185.1" r="2.45"/><circle cx="643.2" cy="155.5" r="2.45"/><circle cx="766.3" cy="215.7" r="2.45"/><circle cx="776.9" cy="141.2" r="2.45"/><circle cx="682.3" cy="177.5" r="2.45"/><circle cx="696.0" cy="150.7" r="2.45"/><circle cx="737.4" cy="177.2" r="2.45"/><circle cx="762.7" cy="198.3" r="2.45"/><circle cx="767.9" cy="168.2" r="2.45"/><circle cx="714.1" cy="241.8" r="2.45"/><circle cx="742.1" cy="209.4" r="2.45"/><circle cx="635.4" cy="149.4" r="2.45"/><circle cx="656.3" cy="175.8" r="2.45"/><circle cx="748.8" cy="234.9" r="2.45"/><circle cx="709.0" cy="187.5" r="2.45"/><circle cx="663.2" cy="321.8" r="2.45"/><circle cx="701.5" cy="195.2" r="2.45"/><circle cx="683.0" cy="208.8" r="2.45"/><circle cx="656.6" cy="272.1" r="2.45"/><circle cx="601.8" cy="234.5" r="2.45"/><circle cx="682.1" cy="211.5" r="2.45"/><circle cx="661.8" cy="192.8" r="2.45"/><circle cx="648.1" cy="218.4" r="2.45"/><circle cx="674.1" cy="165.2" r="2.45"/><circle cx="738.7" cy="143.0" r="2.45"/><circle cx="716.5" cy="158.2" r="2.45"/><circle cx="437.6" cy="181.1" r="2.45"/><circle cx="472.7" cy="203.3" r="2.45"/><circle cx="669.1" cy="228.7" r="2.45"/><circle cx="587.9" cy="177.9" r="2.45"/><circle cx="673.3" cy="193.2" r="2.45"/><circle cx="685.6" cy="204.2" r="2.45"/><circle cx="679.0" cy="185.3" r="2.45"/><circle cx="702.6" cy="171.7" r="2.45"/><circle cx="691.2" cy="265.2" r="2.45"/><circle cx="570.8" cy="195.3" r="2.45"/><circle cx="623.5" cy="162.8" r="2.45"/><circle cx="747.5" cy="202.8" r="2.45"/><circle cx="712.0" cy="235.5" r="2.45"/><circle cx="597.3" cy="239.0" r="2.45"/><circle cx="659.4" cy="184.9" r="2.45"/><circle cx="713.7" cy="198.4" r="2.45"/><circle cx="610.0" cy="230.0" r="2.45"/><circle cx="651.0" cy="162.2" r="2.45"/><circle cx="698.2" cy="191.3" r="2.45"/><circle cx="679.2" cy="181.6" r="2.45"/><circle cx="749.0" cy="241.4" r="2.45"/><circle cx="749.4" cy="204.1" r="2.45"/><circle cx="727.2" cy="255.6" r="2.45"/><circle cx="736.7" cy="224.8" r="2.45"/><circle cx="587.5" cy="229.3" r="2.45"/><circle cx="683.0" cy="240.0" r="2.45"/><circle cx="668.6" cy="242.8" r="2.45"/><circle cx="673.5" cy="201.4" r="2.45"/><circle cx="709.0" cy="185.9" r="2.45"/><circle cx="708.5" cy="202.5" r="2.45"/><circle cx="715.7" cy="187.2" r="2.45"/><circle cx="704.4" cy="191.1" r="2.45"/><circle cx="665.9" cy="193.7" r="2.45"/><circle cx="731.6" cy="208.3" r="2.45"/><circle cx="659.9" cy="215.9" r="2.45"/><circle cx="688.0" cy="190.8" r="2.45"/><circle cx="745.4" cy="158.3" r="2.45"/><circle cx="763.6" cy="190.9" r="2.45"/><circle cx="736.7" cy="217.1" r="2.45"/><circle cx="709.9" cy="162.4" r="2.45"/><circle cx="681.7" cy="198.9" r="2.45"/><circle cx="731.5" cy="197.9" r="2.45"/><circle cx="708.8" cy="133.5" r="2.45"/><circle cx="702.2" cy="244.7" r="2.45"/><circle cx="679.8" cy="154.2" r="2.45"/><circle cx="717.8" cy="200.3" r="2.45"/><circle cx="701.4" cy="219.2" r="2.45"/><circle cx="718.5" cy="265.0" r="2.45"/><circle cx="726.2" cy="171.2" r="2.45"/><circle cx="702.3" cy="259.2" r="2.45"/><circle cx="676.0" cy="193.8" r="2.45"/><circle cx="750.2" cy="212.5" r="2.45"/><circle cx="704.7" cy="170.5" r="2.45"/><circle cx="647.7" cy="262.9" r="2.45"/><circle cx="768.0" cy="227.4" r="2.45"/><circle cx="703.7" cy="136.1" r="2.45"/><circle cx="708.6" cy="206.6" r="2.45"/><circle cx="681.8" cy="178.9" r="2.45"/><circle cx="718.0" cy="180.4" r="2.45"/><circle cx="617.2" cy="137.4" r="2.45"/><circle cx="710.6" cy="168.3" r="2.45"/><circle cx="747.7" cy="212.1" r="2.45"/><circle cx="645.2" cy="157.3" r="2.45"/><circle cx="578.9" cy="233.1" r="2.45"/><circle cx="598.0" cy="213.5" r="2.45"/><circle cx="682.2" cy="137.4" r="2.45"/><circle cx="685.9" cy="230.6" r="2.45"/><circle cx="677.6" cy="230.0" r="2.45"/><circle cx="670.2" cy="196.5" r="2.45"/><circle cx="738.7" cy="238.9" r="2.45"/><circle cx="530.1" cy="189.3" r="2.45"/><circle cx="634.1" cy="194.1" r="2.45"/><circle cx="664.9" cy="201.1" r="2.45"/><circle cx="738.5" cy="201.0" r="2.45"/><circle cx="685.4" cy="198.4" r="2.45"/><circle cx="718.3" cy="162.6" r="2.45"/><circle cx="720.6" cy="170.5" r="2.45"/><circle cx="774.3" cy="163.3" r="2.45"/><circle cx="657.7" cy="140.0" r="2.45"/><circle cx="721.8" cy="217.9" r="2.45"/><circle cx="782.8" cy="210.3" r="2.45"/><circle cx="701.4" cy="194.7" r="2.45"/><circle cx="702.3" cy="183.1" r="2.45"/><circle cx="788.0" cy="62.6" r="2.45"/><circle cx="735.6" cy="169.9" r="2.45"/><circle cx="714.2" cy="186.8" r="2.45"/><circle cx="698.1" cy="199.4" r="2.45"/><circle cx="675.0" cy="139.8" r="2.45"/><circle cx="711.4" cy="200.0" r="2.45"/><circle cx="678.2" cy="285.4" r="2.45"/><circle cx="719.4" cy="166.0" r="2.45"/><circle cx="695.6" cy="254.5" r="2.45"/><circle cx="704.8" cy="181.2" r="2.45"/><circle cx="760.5" cy="200.2" r="2.45"/><circle cx="751.6" cy="186.2" r="2.45"/><circle cx="704.9" cy="200.9" r="2.45"/><circle cx="690.7" cy="185.1" r="2.45"/><circle cx="764.7" cy="218.0" r="2.45"/><circle cx="726.7" cy="189.6" r="2.45"/><circle cx="760.1" cy="208.6" r="2.45"/><circle cx="646.4" cy="184.1" r="2.45"/><circle cx="713.0" cy="148.6" r="2.45"/><circle cx="595.0" cy="263.1" r="2.45"/><circle cx="684.1" cy="192.2" r="2.45"/><circle cx="724.4" cy="203.8" r="2.45"/><circle cx="659.0" cy="234.1" r="2.45"/><circle cx="707.8" cy="187.5" r="2.45"/><circle cx="696.4" cy="169.4" r="2.45"/><circle cx="586.5" cy="161.2" r="2.45"/><circle cx="702.9" cy="287.5" r="2.45"/><circle cx="778.2" cy="193.0" r="2.45"/><circle cx="662.8" cy="239.6" r="2.45"/><circle cx="712.8" cy="215.1" r="2.45"/><circle cx="616.0" cy="209.0" r="2.45"/><circle cx="772.2" cy="157.9" r="2.45"/><circle cx="712.1" cy="136.9" r="2.45"/><circle cx="672.3" cy="143.9" r="2.45"/><circle cx="750.7" cy="157.1" r="2.45"/><circle cx="682.7" cy="245.6" r="2.45"/><circle cx="746.3" cy="163.7" r="2.45"/><circle cx="653.0" cy="195.3" r="2.45"/><circle cx="655.4" cy="177.1" r="2.45"/><circle cx="642.3" cy="139.7" r="2.45"/><circle cx="672.0" cy="164.7" r="2.45"/><circle cx="691.6" cy="186.2" r="2.45"/><circle cx="710.2" cy="273.9" r="2.45"/><circle cx="673.4" cy="268.0" r="2.45"/><circle cx="690.0" cy="232.2" r="2.45"/><circle cx="624.2" cy="137.4" r="2.45"/><circle cx="747.1" cy="248.6" r="2.45"/><circle cx="699.0" cy="264.4" r="2.45"/><circle cx="777.1" cy="204.0" r="2.45"/><circle cx="740.1" cy="236.5" r="2.45"/><circle cx="728.5" cy="225.0" r="2.45"/><circle cx="634.1" cy="206.0" r="2.45"/><circle cx="686.8" cy="282.1" r="2.45"/><circle cx="692.9" cy="202.0" r="2.45"/><circle cx="687.5" cy="139.8" r="2.45"/><circle cx="718.2" cy="234.8" r="2.45"/><circle cx="663.5" cy="255.2" r="2.45"/><circle cx="678.3" cy="194.2" r="2.45"/><circle cx="793.6" cy="174.6" r="2.45"/><circle cx="725.4" cy="158.5" r="2.45"/><circle cx="768.8" cy="151.9" r="2.45"/><circle cx="727.5" cy="168.4" r="2.45"/><circle cx="707.0" cy="205.0" r="2.45"/><circle cx="675.6" cy="274.2" r="2.45"/><circle cx="733.6" cy="226.3" r="2.45"/><circle cx="693.1" cy="204.8" r="2.45"/><circle cx="657.2" cy="196.4" r="2.45"/><circle cx="729.7" cy="179.7" r="2.45"/><circle cx="677.6" cy="260.1" r="2.45"/><circle cx="712.3" cy="187.9" r="2.45"/><circle cx="597.3" cy="246.5" r="2.45"/><circle cx="726.8" cy="152.2" r="2.45"/><circle cx="758.2" cy="200.8" r="2.45"/><circle cx="740.3" cy="199.5" r="2.45"/><circle cx="699.4" cy="144.1" r="2.45"/><circle cx="647.8" cy="239.3" r="2.45"/><circle cx="717.0" cy="210.0" r="2.45"/><circle cx="738.3" cy="230.2" r="2.45"/><circle cx="646.1" cy="206.0" r="2.45"/><circle cx="673.1" cy="276.6" r="2.45"/><circle cx="636.3" cy="281.8" r="2.45"/></g><g fill="#000000" stroke="#000000" fill-opacity=".5" stroke-opacity=".5" stroke-width="3.80"><circle cx="580.9" cy="317.6" r="2.45"/><circle cx="638.0" cy="571.6" r="2.45"/><circle cx="573.2" cy="316.8" r="2.45"/><circle cx="651.4" cy="406.4" r="2.45"/><circle cx="655.0" cy="391.6" r="2.45"/><circle cx="627.6" cy="324.0" r="2.45"/><circle cx="606.7" cy="352.2" r="2.45"/><circle cx="678.0" cy="493.0" r="2.45"/><circle cx="653.0" cy="433.8" r="2.45"/><circle cx="607.5" cy="289.4" r="2.45"/><circle cx="628.4" cy="306.3" r="2.45"/><circle cx="668.2" cy="428.6" r="2.45"/><circle cx="620.4" cy="309.6" r="2.45"/><circle cx="643.7" cy="381.2" r="2.45"/><circle cx="558.8" cy="259.7" r="2.45"/><circle cx="708.1" cy="467.6" r="2.45"/><circle cx="671.1" cy="350.6" r="2.45"/><circle cx="584.1" cy="346.6" r="2.45"/><circle cx="639.7" cy="387.6" r="2.45"/><circle cx="599.4" cy="352.2" r="2.45"/><circle cx="663.0" cy="392.4" r="2.45"/><circle cx="681.5" cy="436.2" r="2.45"/><circle cx="642.9" cy="442.2" r="2.45"/><circle cx="613.9" cy="285.4" r="2.45"/><circle cx="657.9" cy="508.2" r="2.45"/><circle cx="582.5" cy="349.8" r="2.45"/><circle cx="616.3" cy="349.8" r="2.45"/><circle cx="555.5" cy="287.0" r="2.45"/><circle cx="678.3" cy="355.4" r="2.45"/><circle cx="659.8" cy="412.1" r="2.45"/><circle cx="675.1" cy="434.6" r="2.45"/><circle cx="526.2" cy="267.7" r="2.45"/><circle cx="609.9" cy="391.6" r="2.45"/><circle cx="577.3" cy="275.8" r="2.45"/><circle cx="659.0" cy="352.2" r="2.45"/><circle cx="467.0" cy="213.8" r="2.45"/><circle cx="634.8" cy="317.6" r="2.45"/><circle cx="637.3" cy="337.7" r="2.45"/><circle cx="622.8" cy="373.1" r="2.45"/><circle cx="638.1" cy="464.1" r="2.45"/><circle cx="617.9" cy="400.8" r="2.45"/><circle cx="504.0" cy="225.9" r="2.45"/><circle cx="629.2" cy="464.7" r="2.45"/><circle cx="584.1" cy="332.9" r="2.45"/><circle cx="600.2" cy="404.0" r="2.45"/><circle cx="524.2" cy="252.4" r="2.45"/><circle cx="637.3" cy="363.5" r="2.45"/><circle cx="653.0" cy="466.8" r="2.45"/><circle cx="715.8" cy="456.9" r="2.45"/><circle cx="622.0" cy="439.4" r="2.45"/><circle cx="632.4" cy="361.1" r="2.45"/><circle cx="692.0" cy="441.0" r="2.45"/><circle cx="453.3" cy="205.4" r="2.45"/><circle cx="662.2" cy="420.1" r="2.45"/><circle cx="647.7" cy="413.7" r="2.45"/><circle cx="620.4" cy="421.7" r="2.45"/><circle cx="645.3" cy="397.3" r="2.45"/><circle cx="688.8" cy="408.0" r="2.45"/><circle cx="723.6" cy="568.0" r="2.45"/><circle cx="640.0" cy="596.0" r="2.45"/><circle cx="652.1" cy="501.1" r="2.45"/><circle cx="623.6" cy="356.2" r="2.45"/><circle cx="653.0" cy="472.1" r="2.45"/><circle cx="657.4" cy="374.7" r="2.45"/><circle cx="659.5" cy="483.4" r="2.45"/><circle cx="571.6" cy="259.7" r="2.45"/><circle cx="625.2" cy="402.4" r="2.45"/><circle cx="666.2" cy="452.3" r="2.45"/><circle cx="472.7" cy="226.7" r="2.45"/><circle cx="601.8" cy="369.9" r="2.45"/><circle cx="621.2" cy="398.1" r="2.45"/><circle cx="582.5" cy="325.6" r="2.45"/><circle cx="650.5" cy="522.3" r="2.45"/><circle cx="545.9" cy="300.4" r="2.45"/><circle cx="627.6" cy="420.6" r="2.45"/><circle cx="442.9" cy="213.8" r="2.45"/><circle cx="658.0" cy="555.6" r="2.45"/><circle cx="643.0" cy="554.0" r="2.45"/><circle cx="670.7" cy="446.7" r="2.45"/><circle cx="680.7" cy="432.0" r="2.45"/><circle cx="599.4" cy="305.5" r="2.45"/><circle cx="647.7" cy="369.1" r="2.45"/><circle cx="461.4" cy="218.6" r="2.45"/><circle cx="652.5" cy="382.8" r="2.45"/><circle cx="527.9" cy="259.7" r="2.45"/><circle cx="516.9" cy="267.7" r="2.45"/><circle cx="704.1" cy="416.1" r="2.45"/><circle cx="663.0" cy="532.0" r="2.45"/><circle cx="678.8" cy="451.5" r="2.45"/><circle cx="617.9" cy="452.3" r="2.45"/><circle cx="663.0" cy="345.0" r="2.45"/><circle cx="679.5" cy="428.5" r="2.45"/><circle cx="553.1" cy="268.5" r="2.45"/><circle cx="619.6" cy="445.9" r="2.45"/><circle cx="516.9" cy="242.8" r="2.45"/><circle cx="593.0" cy="295.1" r="2.45"/><circle cx="609.1" cy="402.4" r="2.45"/><circle cx="596.2" cy="340.9" r="2.45"/><circle cx="629.2" cy="367.5" r="2.45"/><circle cx="646.1" cy="345.8" r="2.45"/><circle cx="540.7" cy="258.9" r="2.45"/><circle cx="616.3" cy="414.5" r="2.45"/><circle cx="683.5" cy="426.4" r="2.45"/><circle cx="612.3" cy="371.5" r="2.45"/><circle cx="536.2" cy="255.6" r="2.45"/><circle cx="642.1" cy="318.4" r="2.45"/><circle cx="679.1" cy="396.5" r="2.45"/><circle cx="550.7" cy="286.2" r="2.45"/><circle cx="585.8" cy="319.2" r="2.45"/><circle cx="578.1" cy="320.0" r="2.45"/><circle cx="566.8" cy="320.0" r="2.45"/><circle cx="655.8" cy="456.0" r="2.45"/><circle cx="608.3" cy="340.9" r="2.45"/><circle cx="643.6" cy="558.0" r="2.45"/><circle cx="643.7" cy="400.8" r="2.45"/><circle cx="598.6" cy="295.1" r="2.45"/><circle cx="636.5" cy="504.6" r="2.45"/><circle cx="683.9" cy="424.9" r="2.45"/><circle cx="627.6" cy="433.0" r="2.45"/><circle cx="611.5" cy="324.8" r="2.45"/><circle cx="624.4" cy="346.6" r="2.45"/><circle cx="661.4" cy="359.4" r="2.45"/><circle cx="565.2" cy="282.7" r="2.45"/><circle cx="611.5" cy="431.4" r="2.45"/><circle cx="640.5" cy="424.1" r="2.45"/><circle cx="688.8" cy="385.2" r="2.45"/><circle cx="733.2" cy="519.8" r="2.45"/><circle cx="713.0" cy="557.6" r="2.45"/><circle cx="471.8" cy="222.7" r="2.45"/><circle cx="688.0" cy="432.2" r="2.45"/><circle cx="640.5" cy="328.9" r="2.45"/><circle cx="636.5" cy="354.6" r="2.45"/><circle cx="627.6" cy="519.4" r="2.45"/><circle cx="649.3" cy="332.1" r="2.45"/><circle cx="545.1" cy="244.4" r="2.45"/><circle cx="557.2" cy="299.9" r="2.45"/><circle cx="637.3" cy="372.3" r="2.45"/><circle cx="621.2" cy="484.0" r="2.45"/><circle cx="524.2" cy="272.5" r="2.45"/><circle cx="527.4" cy="249.5" r="2.45"/><circle cx="632.4" cy="394.0" r="2.45"/><circle cx="666.2" cy="383.6" r="2.45"/><circle cx="609.9" cy="376.3" r="2.45"/><circle cx="517.7" cy="258.1" r="2.45"/><circle cx="644.0" cy="482.4" r="2.45"/><circle cx="576.1" cy="336.9" r="2.45"/><circle cx="530.6" cy="232.3" r="2.45"/><circle cx="698.4" cy="424.1" r="2.45"/><circle cx="634.4" cy="482.4" r="2.45"/><circle cx="692.8" cy="472.7" r="2.45"/><circle cx="599.4" cy="388.4" r="2.45"/><circle cx="652.1" cy="506.2" r="2.45"/><circle cx="558.8" cy="267.7" r="2.45"/><circle cx="668.6" cy="404.8" r="2.45"/><circle cx="638.1" cy="443.5" r="2.45"/><circle cx="634.4" cy="532.8" r="2.45"/></g>
<path d="M171.80,146.23 L173.03,146.41 L174.25,146.59 L175.48,146.77 L176.70,146.95 L177.93,147.13 L179.15,147.31 L180.38,147.50 L181.60,147.68 L182.83,147.87 L184.05,148.05 L185.28,148.24 L186.50,148.43 L187.73,148.61 L188.95,148.80 L190.18,148.99 L191.40,149.19 L192.63,149.38 L193.85,149.57 L195.08,149.76 L196.30,149.96 L197.53,150.15 L198.75,150.35 L199.98,150.55 L201.20,150.75 L202.43,150.94 L203.65,151.14 L204.88,151.35 L206.10,151.55 L207.33,151.75 L208.55,151.95 L209.78,152.16 L211.00,152.37 L212.23,152.57 L213.45,152.78 L214.68,152.99 L215.90,153.20 L217.13,153.41 L218.35,153.62 L219.58,153.84 L220.80,154.05 L222.03,154.27 L223.25,154.48 L224.48,154.70 L225.70,154.92 L226.93,155.14 L228.15,155.36 L229.38,155.58 L230.60,155.80 L231.83,156.03 L233.06,156.25 L234.28,156.48 L235.51,156.70 L236.73,156.93 L237.96,157.16 L239.18,157.39 L240.41,157.63 L241.63,157.86 L242.86,158.09 L244.08,158.33 L245.31,158.57 L246.53,158.80 L247.76,159.04 L248.98,159.28 L250.21,159.53 L251.43,159.77 L252.66,160.01 L253.88,160.26 L255.11,160.51 L256.33,160.75 L257.56,161.00 L258.78,161.25 L260.01,161.51 L261.23,161.76 L262.46,162.02 L263.68,162.27 L264.91,162.53 L266.13,162.79 L267.36,163.05 L268.58,163.31 L269.81,163.57 L271.03,163.84 L272.26,164.11 L273.48,164.37 L274.71,164.64 L275.93,164.91 L277.16,165.19 L278.38,165.46 L279.61,165.73 L280.83,166.01 L282.06,166.29 L283.28,166.57 L284.51,166.85 L285.73,167.13 L286.96,167.42 L288.18,167.71 L289.41,167.99 L290.63,168.28 L291.86,168.57 L293.09,168.87 L294.31,169.16 L295.54,169.46 L296.76,169.76 L297.99,170.06 L299.21,170.36 L300.44,170.66 L301.66,170.97 L302.89,171.27 L304.11,171.58 L305.34,171.89 L306.56,172.20 L307.79,172.52 L309.01,172.83 L310.24,173.15 L311.46,173.47 L312.69,173.79 L313.91,174.12 L315.14,174.44 L316.36,174.77 L317.59,175.10 L318.81,175.43 L320.04,175.77 L321.26,176.10 L322.49,176.44 L323.71,176.78 L324.94,177.12 L326.16,177.47 L327.39,177.81 L328.61,178.16 L329.84,178.51 L331.06,178.87 L332.29,179.22 L333.51,179.58 L334.74,179.94 L335.96,180.30 L337.19,180.67 L338.41,181.03 L339.64,181.40 L340.86,181.77 L342.09,182.15 L343.31,182.52 L344.54,182.90 L345.76,183.28 L346.99,183.67 L348.21,184.05 L349.44,184.44 L350.66,184.84 L351.89,185.23 L353.12,185.63 L354.34,186.03 L355.57,186.43 L356.79,186.83 L358.02,187.24 L359.24,187.65 L360.47,188.06 L361.69,188.48 L362.92,188.90 L364.14,189.32 L365.37,189.75 L366.59,190.17 L367.82,190.60 L369.04,191.04 L370.27,191.48 L371.49,191.91 L372.72,192.36 L373.94,192.80 L375.17,193.25 L376.39,193.71 L377.62,194.16 L378.84,194.62 L380.07,195.08 L381.29,195.55 L382.52,196.02 L383.74,196.49 L384.97,196.97 L386.19,197.45 L387.42,197.93 L388.64,198.42 L389.87,198.91 L391.09,199.40 L392.32,199.90 L393.54,200.40 L394.77,200.90 L395.99,201.41 L397.22,201.93 L398.44,202.44 L399.67,202.96 L400.89,203.49 L402.12,204.02 L403.34,204.55 L404.57,205.09 L405.79,205.63 L407.02,206.18 L408.24,206.73 L409.47,207.28 L410.69,207.84 L411.92,208.40 L413.15,208.97 L414.37,209.54 L415.60,210.12 L416.82,210.70 L418.05,211.29 L419.27,211.88 L420.50,212.47 L421.72,213.07 L422.95,213.68 L424.17,214.29 L425.40,214.91 L426.62,215.53 L427.85,216.15 L429.07,216.79 L430.30,217.42 L431.52,218.07 L432.75,218.71 L433.97,219.37 L435.20,220.03 L436.42,220.69 L437.65,221.36 L438.87,222.04 L440.10,222.72 L441.32,223.41 L442.55,224.10 L443.77,224.81 L445.00,225.51 L446.22,226.23 L447.45,226.95 L448.67,227.67 L449.90,228.41 L451.12,229.15 L452.35,229.89 L453.57,230.65 L454.80,231.41 L456.02,232.17 L457.25,232.95 L458.47,233.73 L459.70,234.52 L460.92,235.32 L462.15,236.12 L463.37,236.93 L464.60,237.75 L465.82,238.58 L467.05,239.42 L468.27,240.26 L469.50,241.12 L470.72,241.98 L471.95,242.85 L473.18,243.73 L474.40,244.61 L475.63,245.51 L476.85,246.41 L478.08,247.33 L479.30,248.25 L480.53,249.18 L481.75,250.13 L482.98,251.08 L484.20,252.04 L485.43,253.02 L486.65,254.00 L487.88,254.99 L489.10,256.00 L490.33,257.01 L491.55,258.04 L492.78,259.07 L494.00,260.12 L495.23,261.18 L496.45,262.25 L497.68,263.34 L498.90,264.43 L500.13,265.54 L501.35,266.66 L502.58,267.79 L503.80,268.94 L505.03,270.10 L506.25,271.27 L507.48,272.45 L508.70,273.65 L509.93,274.87 L511.15,276.10 L512.38,277.34 L513.60,278.60 L514.83,279.87 L516.05,281.16 L517.28,282.46 L518.50,283.78 L519.73,285.11 L520.95,286.47 L522.18,287.84 L523.40,289.22 L524.63,290.63 L525.85,292.05 L527.08,293.49 L528.30,294.95 L529.53,296.42 L530.75,297.92 L531.98,299.44 L533.21,300.97 L534.43,302.53 L535.66,304.11 L536.88,305.70 L538.11,307.32 L539.33,308.97 L540.56,310.63 L541.78,312.32 L543.01,314.03 L544.23,315.77 L545.46,317.53 L546.68,319.31 L547.91,321.12 L549.13,322.96 L550.36,324.83 L551.58,326.72 L552.81,328.64 L554.03,330.58 L555.26,332.56 L556.48,334.57 L557.71,336.60 L558.93,338.67 L560.16,340.77 L561.38,342.91 L562.61,345.07 L563.83,347.27 L565.06,349.51 L566.28,351.78 L567.51,354.09 L568.73,356.44 L569.96,358.82 L571.18,361.24 L572.41,363.71 L573.63,366.22 L574.86,368.77 L576.08,371.36 L577.31,374.00 L578.53,376.68 L579.76,379.41 L580.98,382.19 L582.21,385.02 L583.43,387.91 L584.66,390.84 L585.88,393.83 L587.11,396.87 L588.33,399.97 L589.56,403.13 L590.78,406.35 L592.01,409.63 L593.24,412.98 L594.46,416.39 L595.69,419.87 L596.91,423.43 L598.14,427.05 L599.36,430.74 L600.59,434.52 L601.81,438.37 L603.04,442.31 L604.26,446.32 L605.49,450.43 L606.71,454.62 L607.94,458.91 L609.16,463.30 L610.39,467.78 L611.61,472.37 L612.84,477.06 L614.06,481.86 L615.29,486.77 L616.51,491.81 L617.74,496.96 L618.96,502.24 L620.19,507.66 L621.41,513.21 L622.64,518.90 L623.86,524.74 L625.09,530.73 L626.31,536.87 L627.54,543.19 L628.76,549.68 L629.99,556.34 L631.21,563.19 L632.44,570.24 L633.66,577.49 L634.89,584.95 L636.11,592.63 L637.34,600.55 L638.56,608.70 L639.79,617.11 L641.01,625.79 L642.24,634.74 L643.46,643.98 L644.69,653.53 L645.91,663.40 L647.14,673.61 L648.36,684.17 L649.59,695.11 L650.81,706.44 L652.04,718.19 L653.27,730.38 L654.49,743.03 L655.72,756.18 L656.94,769.84 L658.17,784.06 L659.39,798.87 L660.62,814.30" fill="none" stroke="#000" stroke-width="3.68" stroke-dasharray="13.62 5.89"/>
<path d="M171.80,162.09 L173.30,162.24 L174.80,162.39 L176.30,162.54 L177.80,162.70 L179.30,162.85 L180.80,163.00 L182.30,163.16 L183.80,163.31 L185.30,163.47 L186.80,163.63 L188.30,163.78 L189.80,163.94 L191.30,164.10 L192.80,164.26 L194.30,164.42 L195.80,164.58 L197.30,164.74 L198.80,164.91 L200.30,165.07 L201.80,165.24 L203.30,165.40 L204.80,165.57 L206.30,165.73 L207.80,165.90 L209.30,166.07 L210.80,166.24 L212.30,166.41 L213.80,166.58 L215.30,166.75 L216.80,166.92 L218.30,167.10 L219.80,167.27 L221.30,167.45 L222.80,167.62 L224.30,167.80 L225.80,167.98 L227.30,168.15 L228.80,168.33 L230.30,168.51 L231.80,168.69 L233.30,168.88 L234.80,169.06 L236.30,169.24 L237.80,169.43 L239.30,169.61 L240.80,169.80 L242.30,169.99 L243.80,170.18 L245.30,170.37 L246.80,170.56 L248.30,170.75 L249.80,170.94 L251.30,171.14 L252.80,171.33 L254.30,171.53 L255.80,171.72 L257.30,171.92 L258.80,172.12 L260.30,172.32 L261.80,172.52 L263.30,172.72 L264.80,172.92 L266.30,173.13 L267.80,173.33 L269.30,173.54 L270.80,173.75 L272.30,173.95 L273.80,174.16 L275.30,174.37 L276.80,174.59 L278.30,174.80 L279.80,175.01 L281.30,175.23 L282.80,175.45 L284.30,175.66 L285.80,175.88 L287.30,176.10 L288.80,176.32 L290.30,176.55 L291.80,176.77 L293.30,176.99 L294.80,177.22 L296.30,177.45 L297.80,177.68 L299.30,177.91 L300.80,178.14 L302.30,178.37 L303.80,178.60 L305.30,178.84 L306.80,179.08 L308.30,179.31 L309.80,179.55 L311.30,179.79 L312.80,180.04 L314.30,180.28 L315.80,180.53 L317.30,180.77 L318.80,181.02 L320.30,181.27 L321.80,181.52 L323.30,181.77 L324.80,182.03 L326.30,182.28 L327.80,182.54 L329.30,182.80 L330.80,183.06 L332.30,183.32 L333.80,183.58 L335.30,183.85 L336.80,184.11 L338.30,184.38 L339.80,184.65 L341.30,184.92 L342.80,185.19 L344.30,185.47 L345.80,185.74 L347.30,186.02 L348.80,186.30 L350.30,186.58 L351.80,186.87 L353.30,187.15 L354.80,187.44 L356.30,187.73 L357.80,188.02 L359.30,188.31 L360.80,188.60 L362.30,188.90 L363.80,189.20 L365.30,189.50 L366.80,189.80 L368.30,190.10 L369.80,190.41 L371.30,190.72 L372.80,191.03 L374.30,191.34 L375.80,191.65 L377.30,191.97 L378.80,192.28 L380.30,192.60 L381.80,192.93 L383.30,193.25 L384.80,193.58 L386.30,193.91 L387.80,194.24 L389.30,194.57 L390.80,194.91 L392.30,195.24 L393.80,195.58 L395.30,195.93 L396.80,196.27 L398.30,196.62 L399.80,196.97 L401.30,197.32 L402.80,197.67 L404.30,198.03 L405.80,198.39 L407.30,198.75 L408.80,199.12 L410.30,199.49 L411.80,199.86 L413.30,200.23 L414.80,200.60 L416.30,200.98 L417.80,201.36 L419.30,201.75 L420.80,202.13 L422.30,202.52 L423.80,202.91 L425.30,203.31 L426.80,203.71 L428.30,204.11 L429.80,204.51 L431.30,204.92 L432.80,205.33 L434.30,205.74 L435.80,206.16 L437.30,206.58 L438.80,207.00 L440.30,207.42 L441.80,207.85 L443.30,208.28 L444.80,208.72 L446.30,209.16 L447.80,209.60 L449.30,210.05 L450.80,210.50 L452.30,210.95 L453.80,211.41 L455.30,211.87 L456.80,212.33 L458.30,212.80 L459.80,213.27 L461.30,213.75 L462.80,214.23 L464.30,214.71 L465.80,215.20 L467.30,215.69 L468.80,216.18 L470.30,216.68 L471.80,217.19 L473.30,217.69 L474.80,218.21 L476.30,218.72 L477.80,219.24 L479.30,219.77 L480.80,220.30 L482.30,220.83 L483.80,221.37 L485.30,221.91 L486.80,222.46 L488.30,223.02 L489.80,223.57 L491.30,224.14 L492.80,224.71 L494.30,225.28 L495.80,225.86 L497.30,226.44 L498.80,227.03 L500.30,227.62 L501.80,228.22 L503.30,228.83 L504.80,229.44 L506.30,230.05 L507.80,230.67 L509.30,231.30 L510.80,231.94 L512.30,232.58 L513.80,233.22 L515.30,233.87 L516.80,234.53 L518.30,235.19 L519.80,235.87 L521.30,236.54 L522.80,237.23 L524.30,237.92 L525.80,238.61 L527.30,239.32 L528.80,240.03 L530.30,240.75 L531.80,241.47 L533.30,242.20 L534.80,242.94 L536.30,243.69 L537.80,244.45 L539.30,245.21 L540.80,245.98 L542.30,246.76 L543.80,247.55 L545.30,248.34 L546.80,249.15 L548.30,249.96 L549.80,250.78 L551.30,251.61 L552.80,252.45 L554.30,253.30 L555.80,254.15 L557.30,255.02 L558.80,255.90 L560.30,256.78 L561.80,257.68 L563.30,258.58 L564.80,259.50 L566.30,260.43 L567.80,261.36 L569.30,262.31 L570.80,263.27 L572.30,264.24 L573.80,265.22 L575.30,266.21 L576.80,267.22 L578.30,268.23 L579.80,269.26 L581.30,270.30 L582.80,271.35 L584.30,272.42 L585.80,273.50 L587.30,274.59 L588.80,275.70 L590.30,276.82 L591.80,277.95 L593.30,279.10 L594.80,280.26 L596.30,281.44 L597.80,282.63 L599.30,283.84 L600.80,285.07 L602.30,286.31 L603.80,287.56 L605.30,288.84 L606.80,290.13 L608.30,291.43 L609.80,292.76 L611.30,294.10 L612.80,295.46 L614.30,296.84 L615.80,298.24 L617.30,299.66 L618.80,301.10 L620.30,302.57 L621.80,304.05 L623.30,305.55 L624.80,307.07 L626.30,308.62 L627.80,310.19 L629.30,311.78 L630.80,313.40 L632.30,315.04 L633.80,316.71 L635.30,318.40 L636.80,320.12 L638.30,321.87 L639.80,323.64 L641.30,325.44 L642.80,327.27 L644.30,329.13 L645.80,331.02 L647.30,332.94 L648.80,334.89 L650.30,336.87 L651.80,338.89 L653.30,340.94 L654.80,343.02 L656.30,345.15 L657.80,347.31 L659.30,349.50 L660.80,351.74 L662.30,354.01 L663.80,356.33 L665.30,358.69 L666.80,361.09 L668.30,363.53 L669.80,366.02 L671.30,368.56 L672.80,371.15 L674.30,373.78 L675.80,376.47 L677.30,379.21 L678.80,382.00 L680.30,384.85 L681.80,387.76 L683.30,390.72 L684.80,393.75 L686.30,396.84 L687.80,399.99 L689.30,403.21 L690.80,406.50 L692.30,409.86 L693.80,413.30 L695.30,416.81 L696.80,420.40 L698.30,424.07 L699.80,427.82 L701.30,431.67 L702.80,435.60 L704.30,439.62 L705.80,443.74 L707.30,447.97 L708.80,452.29 L710.30,456.72 L711.80,461.27 L713.30,465.93 L714.80,470.71 L716.30,475.62 L717.80,480.66 L719.30,485.83 L720.80,491.14 L722.30,496.60 L723.80,502.22 L725.30,507.99 L726.80,513.93 L728.30,520.04 L729.80,526.34 L731.30,532.82 L732.80,539.51 L734.30,546.40 L735.80,553.51 L737.30,560.84 L738.80,568.42 L740.30,576.25 L741.80,584.34 L743.30,592.71 L744.80,601.37 L746.30,610.34 L747.80,619.63 L749.30,629.26 L750.80,639.26 L752.30,649.63 L753.80,660.42 L755.30,671.63 L756.80,683.29 L758.29,695.44 L759.79,708.10 L761.29,721.31 L762.79,735.10 L764.29,749.51 L765.79,764.58 L767.29,780.37 L768.79,796.93 L770.29,814.30" fill="none" stroke="#000" stroke-width="3.68" stroke-dasharray="23.55 5.89 3.68 5.89"/>
<path d="M656.36,345.24 L972.20,13.40" fill="none" stroke="#000" stroke-width="3.68"/>
</g>
<rect x="189.9" y="561.8" width="328.5" height="233.1" rx="6" ry="6" fill="#fff" fill-opacity=".8" stroke="#ccc" stroke-opacity=".8" stroke-width="3"/><circle cx="241.5" cy="596.7" r="4.2" fill="#ffa500" stroke="#ffa500" fill-opacity=".5" stroke-opacity=".5" stroke-width="2.8"/><circle cx="241.5" cy="652.4" r="4.2" fill="#0000ff" stroke="#0000ff" fill-opacity=".5" stroke-opacity=".5" stroke-width="2.8"/><circle cx="241.5" cy="708.1" r="4.2" fill="#800080" stroke="#800080" fill-opacity=".5" stroke-opacity=".5" stroke-width="2.8"/><circle cx="241.5" cy="763.7" r="4.2" fill="#000000" stroke="#000000" fill-opacity=".5" stroke-opacity=".5" stroke-width="2.8"/>
<rect x="171.80" y="13.40" width="800.40" height="800.90" fill="none" stroke="#000" stroke-width="2.75"/>
<line x1="171.80" y1="814.30" x2="171.80" y2="827.30" stroke="#000" stroke-width="2.75"/>
<line x1="158.80" y1="13.40" x2="171.80" y2="13.40" stroke="#000" stroke-width="2.75"/>
<line x1="305.20" y1="814.30" x2="305.20" y2="827.30" stroke="#000" stroke-width="2.75"/>
<line x1="158.80" y1="146.88" x2="171.80" y2="146.88" stroke="#000" stroke-width="2.75"/>
<line x1="438.60" y1="814.30" x2="438.60" y2="827.30" stroke="#000" stroke-width="2.75"/>
<line x1="158.80" y1="280.37" x2="171.80" y2="280.37" stroke="#000" stroke-width="2.75"/>
<line x1="572.00" y1="814.30" x2="572.00" y2="827.30" stroke="#000" stroke-width="2.75"/>
<line x1="158.80" y1="413.85" x2="171.80" y2="413.85" stroke="#000" stroke-width="2.75"/>
<line x1="705.40" y1="814.30" x2="705.40" y2="827.30" stroke="#000" stroke-width="2.75"/>
<line x1="158.80" y1="547.33" x2="171.80" y2="547.33" stroke="#000" stroke-width="2.75"/>
<line x1="838.80" y1="814.30" x2="838.80" y2="827.30" stroke="#000" stroke-width="2.75"/>
<line x1="158.80" y1="680.82" x2="171.80" y2="680.82" stroke="#000" stroke-width="2.75"/>
<line x1="972.20" y1="814.30" x2="972.20" y2="827.30" stroke="#000" stroke-width="2.75"/>
<line x1="158.80" y1="814.30" x2="171.80" y2="814.30" stroke="#000" stroke-width="2.75"/>
<text transform="translate(127.70,868.62) scale(1.1012,1.0195)" class="t">−2.0</text>
<text transform="translate(261.09,868.61) scale(1.1030,1.0332)" class="t">−1.5</text>
<text transform="translate(394.50,868.62) scale(1.1012,1.0195)" class="t">−1.0</text>
<text transform="translate(527.89,868.62) scale(1.1030,1.0195)" class="t">−0.5</text>
<text transform="translate(676.86,868.62) scale(1.0119,1.0195)" class="t">0.0</text>
<text transform="translate(810.25,868.62) scale(1.0144,1.0195)" class="t">0.5</text>
<text transform="translate(942.18,868.62) scale(1.0392,1.0195)" class="t">1.0</text>
<text transform="translate(87.66,28.92) scale(1.0123,1.0027)" class="t">1.5</text>
<text transform="translate(87.67,161.73) scale(1.0098,0.9770)" class="t">1.0</text>
<text transform="translate(89.10,293.64) scale(0.9856,0.9628)" class="t">0.5</text>
<text transform="translate(89.10,428.23) scale(0.9833,0.9770)" class="t">0.0</text>
<text transform="translate(57.40,561.22) scale(1.0977,1.0159)" class="t">−0.5</text>
<text transform="translate(57.41,695.64) scale(1.0959,1.0053)" class="t">−1.0</text>
<text transform="translate(57.40,829.12) scale(1.0977,1.0188)" class="t">−1.5</text>
<text transform="translate(461.77,921.24) scale(1.0273,0.9739)" class="t">log [N II]/H<tspan font-style="italic">α</tspan></text>
<text transform="translate(30.31,529.32) rotate(-90) scale(1.0241,0.9900)" class="t">log [O III]/H<tspan font-style="italic">β</tspan></text>
<text transform="translate(308.53,606.22) scale(0.8920,1.0195)" class="t">SFGs</text>
<text transform="translate(307.84,661.80) scale(0.9110,1.0036)" class="t">LINER</text>
<text transform="translate(308.15,716.94) scale(1.0402,0.9886)" class="t">Seyfert</text>
<text transform="translate(308.06,772.49) scale(1.0220,0.9445)" class="t">Composite</text></svg>
</body></html>
